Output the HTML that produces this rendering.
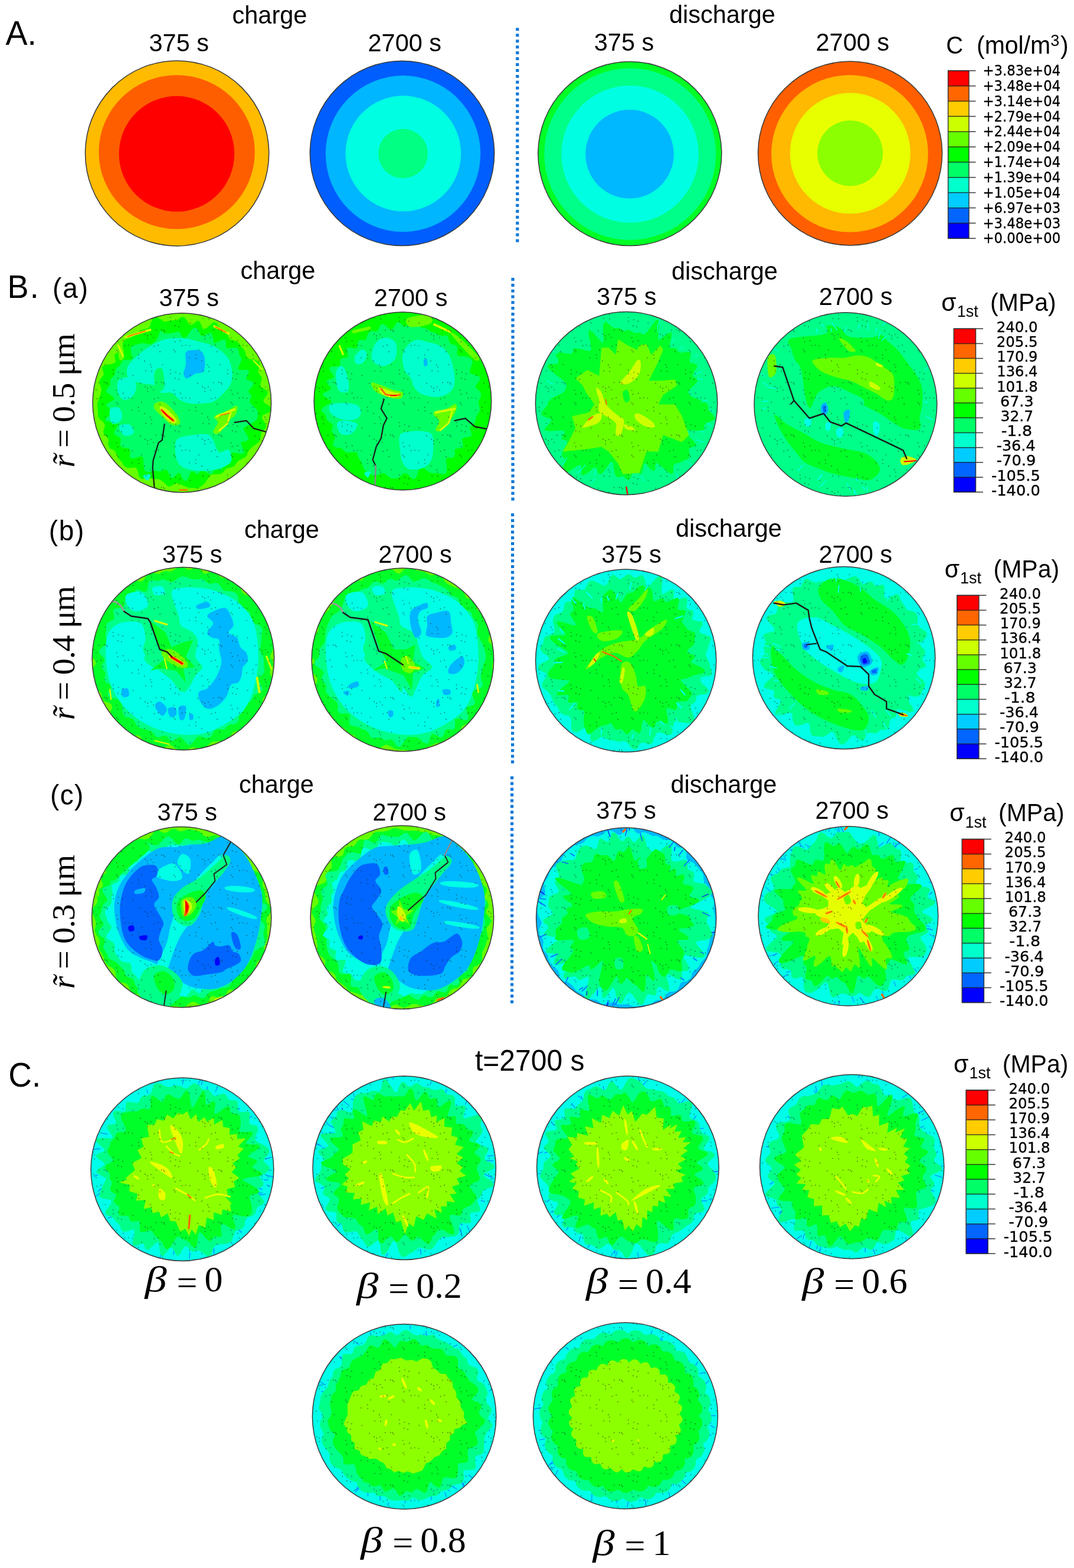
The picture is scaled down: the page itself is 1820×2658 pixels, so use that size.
<!DOCTYPE html>
<html><head><meta charset="utf-8"><title>figure</title>
<style>
html,body{margin:0;padding:0;background:#fff;}
body{width:1820px;height:2658px;overflow:hidden;}
svg{display:block;}
text{fill:#000;}
</style></head><body>
<svg width="1820" height="2658" viewBox="0 0 1820 2658">
<rect width="1820" height="2658" fill="#fff"/>
<line x1="876.8" y1="47.3" x2="876.8" y2="412" stroke="#0B78D7" stroke-width="5.2" stroke-dasharray="5.0 4.95"/>
<line x1="869.0" y1="471.1" x2="869.0" y2="850" stroke="#0B78D7" stroke-width="5.2" stroke-dasharray="5.0 4.80"/>
<line x1="868.6" y1="870.3" x2="868.6" y2="1296" stroke="#0B78D7" stroke-width="5.2" stroke-dasharray="5.0 4.74"/>
<line x1="867.6" y1="1315.9" x2="867.6" y2="1703" stroke="#0B78D7" stroke-width="5.2" stroke-dasharray="5.0 4.74"/>
<rect x="1606.6" y="119.80" width="35.40" height="26.15" fill="#FF0000"/>
<rect x="1606.6" y="145.65" width="35.40" height="26.15" fill="#FF6600"/>
<rect x="1606.6" y="171.49" width="35.40" height="26.15" fill="#FFCC00"/>
<rect x="1606.6" y="197.34" width="35.40" height="26.15" fill="#CCFF00"/>
<rect x="1606.6" y="223.18" width="35.40" height="26.15" fill="#66FF00"/>
<rect x="1606.6" y="249.03" width="35.40" height="26.15" fill="#00FF00"/>
<rect x="1606.6" y="274.87" width="35.40" height="26.15" fill="#00FF66"/>
<rect x="1606.6" y="300.72" width="35.40" height="26.15" fill="#00FFCC"/>
<rect x="1606.6" y="326.56" width="35.40" height="26.15" fill="#00CCFF"/>
<rect x="1606.6" y="352.41" width="35.40" height="26.15" fill="#0066FF"/>
<rect x="1606.6" y="378.25" width="35.40" height="26.15" fill="#0000FF"/>
<line x1="1606.6" y1="119.80" x2="1642.0" y2="119.80" stroke="#1a1a1a" stroke-width="1.5" opacity="0.8"/>
<line x1="1642.0" y1="119.80" x2="1653.50" y2="119.80" stroke="#444" stroke-width="1.6"/>
<line x1="1606.6" y1="145.65" x2="1642.0" y2="145.65" stroke="#1a1a1a" stroke-width="1.5" opacity="0.8"/>
<line x1="1642.0" y1="145.65" x2="1653.50" y2="145.65" stroke="#444" stroke-width="1.6"/>
<line x1="1606.6" y1="171.49" x2="1642.0" y2="171.49" stroke="#1a1a1a" stroke-width="1.5" opacity="0.8"/>
<line x1="1642.0" y1="171.49" x2="1653.50" y2="171.49" stroke="#444" stroke-width="1.6"/>
<line x1="1606.6" y1="197.34" x2="1642.0" y2="197.34" stroke="#1a1a1a" stroke-width="1.5" opacity="0.8"/>
<line x1="1642.0" y1="197.34" x2="1653.50" y2="197.34" stroke="#444" stroke-width="1.6"/>
<line x1="1606.6" y1="223.18" x2="1642.0" y2="223.18" stroke="#1a1a1a" stroke-width="1.5" opacity="0.8"/>
<line x1="1642.0" y1="223.18" x2="1653.50" y2="223.18" stroke="#444" stroke-width="1.6"/>
<line x1="1606.6" y1="249.03" x2="1642.0" y2="249.03" stroke="#1a1a1a" stroke-width="1.5" opacity="0.8"/>
<line x1="1642.0" y1="249.03" x2="1653.50" y2="249.03" stroke="#444" stroke-width="1.6"/>
<line x1="1606.6" y1="274.87" x2="1642.0" y2="274.87" stroke="#1a1a1a" stroke-width="1.5" opacity="0.8"/>
<line x1="1642.0" y1="274.87" x2="1653.50" y2="274.87" stroke="#444" stroke-width="1.6"/>
<line x1="1606.6" y1="300.72" x2="1642.0" y2="300.72" stroke="#1a1a1a" stroke-width="1.5" opacity="0.8"/>
<line x1="1642.0" y1="300.72" x2="1653.50" y2="300.72" stroke="#444" stroke-width="1.6"/>
<line x1="1606.6" y1="326.56" x2="1642.0" y2="326.56" stroke="#1a1a1a" stroke-width="1.5" opacity="0.8"/>
<line x1="1642.0" y1="326.56" x2="1653.50" y2="326.56" stroke="#444" stroke-width="1.6"/>
<line x1="1606.6" y1="352.41" x2="1642.0" y2="352.41" stroke="#1a1a1a" stroke-width="1.5" opacity="0.8"/>
<line x1="1642.0" y1="352.41" x2="1653.50" y2="352.41" stroke="#444" stroke-width="1.6"/>
<line x1="1606.6" y1="378.25" x2="1642.0" y2="378.25" stroke="#1a1a1a" stroke-width="1.5" opacity="0.8"/>
<line x1="1642.0" y1="378.25" x2="1653.50" y2="378.25" stroke="#444" stroke-width="1.6"/>
<line x1="1606.6" y1="404.10" x2="1642.0" y2="404.10" stroke="#1a1a1a" stroke-width="1.5" opacity="0.8"/>
<line x1="1642.0" y1="404.10" x2="1653.50" y2="404.10" stroke="#444" stroke-width="1.6"/>
<rect x="1606.6" y="119.8" width="35.40" height="284.30" fill="none" stroke="#333" stroke-width="1.4"/>
<text x="1665.6" y="128.0" font-size="25" font-family="'DejaVu Sans', Verdana, sans-serif" text-anchor="start" textLength="131.5" lengthAdjust="spacingAndGlyphs" stroke="#000" stroke-width="0.35">+3.83e+04</text>
<text x="1665.6" y="153.8" font-size="25" font-family="'DejaVu Sans', Verdana, sans-serif" text-anchor="start" textLength="131.5" lengthAdjust="spacingAndGlyphs" stroke="#000" stroke-width="0.35">+3.48e+04</text>
<text x="1665.6" y="179.7" font-size="25" font-family="'DejaVu Sans', Verdana, sans-serif" text-anchor="start" textLength="131.5" lengthAdjust="spacingAndGlyphs" stroke="#000" stroke-width="0.35">+3.14e+04</text>
<text x="1665.6" y="205.5" font-size="25" font-family="'DejaVu Sans', Verdana, sans-serif" text-anchor="start" textLength="131.5" lengthAdjust="spacingAndGlyphs" stroke="#000" stroke-width="0.35">+2.79e+04</text>
<text x="1665.6" y="231.4" font-size="25" font-family="'DejaVu Sans', Verdana, sans-serif" text-anchor="start" textLength="131.5" lengthAdjust="spacingAndGlyphs" stroke="#000" stroke-width="0.35">+2.44e+04</text>
<text x="1665.6" y="257.2" font-size="25" font-family="'DejaVu Sans', Verdana, sans-serif" text-anchor="start" textLength="131.5" lengthAdjust="spacingAndGlyphs" stroke="#000" stroke-width="0.35">+2.09e+04</text>
<text x="1665.6" y="283.1" font-size="25" font-family="'DejaVu Sans', Verdana, sans-serif" text-anchor="start" textLength="131.5" lengthAdjust="spacingAndGlyphs" stroke="#000" stroke-width="0.35">+1.74e+04</text>
<text x="1665.6" y="308.9" font-size="25" font-family="'DejaVu Sans', Verdana, sans-serif" text-anchor="start" textLength="131.5" lengthAdjust="spacingAndGlyphs" stroke="#000" stroke-width="0.35">+1.39e+04</text>
<text x="1665.6" y="334.8" font-size="25" font-family="'DejaVu Sans', Verdana, sans-serif" text-anchor="start" textLength="131.5" lengthAdjust="spacingAndGlyphs" stroke="#000" stroke-width="0.35">+1.05e+04</text>
<text x="1665.6" y="360.6" font-size="25" font-family="'DejaVu Sans', Verdana, sans-serif" text-anchor="start" textLength="131.5" lengthAdjust="spacingAndGlyphs" stroke="#000" stroke-width="0.35">+6.97e+03</text>
<text x="1665.6" y="386.5" font-size="25" font-family="'DejaVu Sans', Verdana, sans-serif" text-anchor="start" textLength="131.5" lengthAdjust="spacingAndGlyphs" stroke="#000" stroke-width="0.35">+3.48e+03</text>
<text x="1665.6" y="412.3" font-size="25" font-family="'DejaVu Sans', Verdana, sans-serif" text-anchor="start" textLength="131.5" lengthAdjust="spacingAndGlyphs" stroke="#000" stroke-width="0.35">+0.00e+00</text>
<text transform="translate(1603.2,90.6) scale(1,1.04)" font-size="40" font-family="'Liberation Sans', Arial, sans-serif" text-anchor="start" >C</text>
<text transform="translate(1655.0,90.6) scale(1,1.04)" font-size="41" font-family="'Liberation Sans', Arial, sans-serif" text-anchor="start" >(mol/m</text>
<text transform="translate(1780.3,78.3) scale(1,1.04)" font-size="27" font-family="'Liberation Sans', Arial, sans-serif" text-anchor="start" >3</text>
<text transform="translate(1797.0,90.6) scale(1,1.04)" font-size="41" font-family="'Liberation Sans', Arial, sans-serif" text-anchor="start" >)</text>
<rect x="1616.3" y="557.20" width="37.20" height="25.48" fill="#FF0000"/>
<rect x="1616.3" y="582.38" width="37.20" height="25.48" fill="#FF6600"/>
<rect x="1616.3" y="607.56" width="37.20" height="25.48" fill="#FFCC00"/>
<rect x="1616.3" y="632.75" width="37.20" height="25.48" fill="#CCFF00"/>
<rect x="1616.3" y="657.93" width="37.20" height="25.48" fill="#66FF00"/>
<rect x="1616.3" y="683.11" width="37.20" height="25.48" fill="#00FF00"/>
<rect x="1616.3" y="708.29" width="37.20" height="25.48" fill="#00FF66"/>
<rect x="1616.3" y="733.47" width="37.20" height="25.48" fill="#00FFCC"/>
<rect x="1616.3" y="758.65" width="37.20" height="25.48" fill="#00CCFF"/>
<rect x="1616.3" y="783.84" width="37.20" height="25.48" fill="#0066FF"/>
<rect x="1616.3" y="809.02" width="37.20" height="25.48" fill="#0000FF"/>
<line x1="1616.3" y1="557.20" x2="1653.5" y2="557.20" stroke="#1a1a1a" stroke-width="1.5" opacity="0.8"/>
<line x1="1653.5" y1="557.20" x2="1666.00" y2="557.20" stroke="#444" stroke-width="1.6"/>
<line x1="1616.3" y1="582.38" x2="1653.5" y2="582.38" stroke="#1a1a1a" stroke-width="1.5" opacity="0.8"/>
<line x1="1653.5" y1="582.38" x2="1666.00" y2="582.38" stroke="#444" stroke-width="1.6"/>
<line x1="1616.3" y1="607.56" x2="1653.5" y2="607.56" stroke="#1a1a1a" stroke-width="1.5" opacity="0.8"/>
<line x1="1653.5" y1="607.56" x2="1666.00" y2="607.56" stroke="#444" stroke-width="1.6"/>
<line x1="1616.3" y1="632.75" x2="1653.5" y2="632.75" stroke="#1a1a1a" stroke-width="1.5" opacity="0.8"/>
<line x1="1653.5" y1="632.75" x2="1666.00" y2="632.75" stroke="#444" stroke-width="1.6"/>
<line x1="1616.3" y1="657.93" x2="1653.5" y2="657.93" stroke="#1a1a1a" stroke-width="1.5" opacity="0.8"/>
<line x1="1653.5" y1="657.93" x2="1666.00" y2="657.93" stroke="#444" stroke-width="1.6"/>
<line x1="1616.3" y1="683.11" x2="1653.5" y2="683.11" stroke="#1a1a1a" stroke-width="1.5" opacity="0.8"/>
<line x1="1653.5" y1="683.11" x2="1666.00" y2="683.11" stroke="#444" stroke-width="1.6"/>
<line x1="1616.3" y1="708.29" x2="1653.5" y2="708.29" stroke="#1a1a1a" stroke-width="1.5" opacity="0.8"/>
<line x1="1653.5" y1="708.29" x2="1666.00" y2="708.29" stroke="#444" stroke-width="1.6"/>
<line x1="1616.3" y1="733.47" x2="1653.5" y2="733.47" stroke="#1a1a1a" stroke-width="1.5" opacity="0.8"/>
<line x1="1653.5" y1="733.47" x2="1666.00" y2="733.47" stroke="#444" stroke-width="1.6"/>
<line x1="1616.3" y1="758.65" x2="1653.5" y2="758.65" stroke="#1a1a1a" stroke-width="1.5" opacity="0.8"/>
<line x1="1653.5" y1="758.65" x2="1666.00" y2="758.65" stroke="#444" stroke-width="1.6"/>
<line x1="1616.3" y1="783.84" x2="1653.5" y2="783.84" stroke="#1a1a1a" stroke-width="1.5" opacity="0.8"/>
<line x1="1653.5" y1="783.84" x2="1666.00" y2="783.84" stroke="#444" stroke-width="1.6"/>
<line x1="1616.3" y1="809.02" x2="1653.5" y2="809.02" stroke="#1a1a1a" stroke-width="1.5" opacity="0.8"/>
<line x1="1653.5" y1="809.02" x2="1666.00" y2="809.02" stroke="#444" stroke-width="1.6"/>
<line x1="1616.3" y1="834.20" x2="1653.5" y2="834.20" stroke="#1a1a1a" stroke-width="1.5" opacity="0.8"/>
<line x1="1653.5" y1="834.20" x2="1666.00" y2="834.20" stroke="#444" stroke-width="1.6"/>
<rect x="1616.3" y="557.2" width="37.20" height="277.00" fill="none" stroke="#333" stroke-width="1.4"/>
<text x="1723.7" y="562.8" font-size="24" font-family="'DejaVu Sans', Verdana, sans-serif" text-anchor="middle" textLength="70.0" lengthAdjust="spacingAndGlyphs" stroke="#000" stroke-width="0.35">240.0</text>
<text x="1723.7" y="588.0" font-size="24" font-family="'DejaVu Sans', Verdana, sans-serif" text-anchor="middle" textLength="70.0" lengthAdjust="spacingAndGlyphs" stroke="#000" stroke-width="0.35">205.5</text>
<text x="1723.9" y="613.2" font-size="24" font-family="'DejaVu Sans', Verdana, sans-serif" text-anchor="middle" textLength="69.2" lengthAdjust="spacingAndGlyphs" stroke="#000" stroke-width="0.35">170.9</text>
<text x="1723.9" y="638.3" font-size="24" font-family="'DejaVu Sans', Verdana, sans-serif" text-anchor="middle" textLength="69.2" lengthAdjust="spacingAndGlyphs" stroke="#000" stroke-width="0.35">136.4</text>
<text x="1723.9" y="663.5" font-size="24" font-family="'DejaVu Sans', Verdana, sans-serif" text-anchor="middle" textLength="70.0" lengthAdjust="spacingAndGlyphs" stroke="#000" stroke-width="0.35">101.8</text>
<text x="1723.3" y="688.7" font-size="24" font-family="'DejaVu Sans', Verdana, sans-serif" text-anchor="middle" textLength="56.4" lengthAdjust="spacingAndGlyphs" stroke="#000" stroke-width="0.35">67.3</text>
<text x="1723.4" y="713.9" font-size="24" font-family="'DejaVu Sans', Verdana, sans-serif" text-anchor="middle" textLength="55.6" lengthAdjust="spacingAndGlyphs" stroke="#000" stroke-width="0.35">32.7</text>
<text x="1722.9" y="739.1" font-size="24" font-family="'DejaVu Sans', Verdana, sans-serif" text-anchor="middle" textLength="52.5" lengthAdjust="spacingAndGlyphs" stroke="#000" stroke-width="0.35">-1.8</text>
<text x="1721.7" y="764.3" font-size="24" font-family="'DejaVu Sans', Verdana, sans-serif" text-anchor="middle" textLength="66.0" lengthAdjust="spacingAndGlyphs" stroke="#000" stroke-width="0.35">-36.4</text>
<text x="1722.1" y="789.4" font-size="24" font-family="'DejaVu Sans', Verdana, sans-serif" text-anchor="middle" textLength="66.8" lengthAdjust="spacingAndGlyphs" stroke="#000" stroke-width="0.35">-70.9</text>
<text x="1721.4" y="814.6" font-size="24" font-family="'DejaVu Sans', Verdana, sans-serif" text-anchor="middle" textLength="82.7" lengthAdjust="spacingAndGlyphs" stroke="#000" stroke-width="0.35">-105.5</text>
<text x="1721.4" y="839.8" font-size="24" font-family="'DejaVu Sans', Verdana, sans-serif" text-anchor="middle" textLength="82.7" lengthAdjust="spacingAndGlyphs" stroke="#000" stroke-width="0.35">-140.0</text>
<text transform="translate(1595.3,526.8) scale(1,1.04)" font-size="41" font-family="'Liberation Sans', Arial, sans-serif" text-anchor="start" >&#963;</text>
<text transform="translate(1621.7,537.3) scale(1,1.04)" font-size="27" font-family="'Liberation Sans', Arial, sans-serif" text-anchor="start" >1st</text>
<text transform="translate(1678.1,526.8) scale(1,1.04)" font-size="41" font-family="'Liberation Sans', Arial, sans-serif" text-anchor="start" >(MPa)</text>
<rect x="1621.7" y="1009.20" width="37.20" height="25.48" fill="#FF0000"/>
<rect x="1621.7" y="1034.38" width="37.20" height="25.48" fill="#FF6600"/>
<rect x="1621.7" y="1059.56" width="37.20" height="25.48" fill="#FFCC00"/>
<rect x="1621.7" y="1084.75" width="37.20" height="25.48" fill="#CCFF00"/>
<rect x="1621.7" y="1109.93" width="37.20" height="25.48" fill="#66FF00"/>
<rect x="1621.7" y="1135.11" width="37.20" height="25.48" fill="#00FF00"/>
<rect x="1621.7" y="1160.29" width="37.20" height="25.48" fill="#00FF66"/>
<rect x="1621.7" y="1185.47" width="37.20" height="25.48" fill="#00FFCC"/>
<rect x="1621.7" y="1210.65" width="37.20" height="25.48" fill="#00CCFF"/>
<rect x="1621.7" y="1235.84" width="37.20" height="25.48" fill="#0066FF"/>
<rect x="1621.7" y="1261.02" width="37.20" height="25.48" fill="#0000FF"/>
<line x1="1621.7" y1="1009.20" x2="1658.9" y2="1009.20" stroke="#1a1a1a" stroke-width="1.5" opacity="0.8"/>
<line x1="1658.9" y1="1009.20" x2="1671.40" y2="1009.20" stroke="#444" stroke-width="1.6"/>
<line x1="1621.7" y1="1034.38" x2="1658.9" y2="1034.38" stroke="#1a1a1a" stroke-width="1.5" opacity="0.8"/>
<line x1="1658.9" y1="1034.38" x2="1671.40" y2="1034.38" stroke="#444" stroke-width="1.6"/>
<line x1="1621.7" y1="1059.56" x2="1658.9" y2="1059.56" stroke="#1a1a1a" stroke-width="1.5" opacity="0.8"/>
<line x1="1658.9" y1="1059.56" x2="1671.40" y2="1059.56" stroke="#444" stroke-width="1.6"/>
<line x1="1621.7" y1="1084.75" x2="1658.9" y2="1084.75" stroke="#1a1a1a" stroke-width="1.5" opacity="0.8"/>
<line x1="1658.9" y1="1084.75" x2="1671.40" y2="1084.75" stroke="#444" stroke-width="1.6"/>
<line x1="1621.7" y1="1109.93" x2="1658.9" y2="1109.93" stroke="#1a1a1a" stroke-width="1.5" opacity="0.8"/>
<line x1="1658.9" y1="1109.93" x2="1671.40" y2="1109.93" stroke="#444" stroke-width="1.6"/>
<line x1="1621.7" y1="1135.11" x2="1658.9" y2="1135.11" stroke="#1a1a1a" stroke-width="1.5" opacity="0.8"/>
<line x1="1658.9" y1="1135.11" x2="1671.40" y2="1135.11" stroke="#444" stroke-width="1.6"/>
<line x1="1621.7" y1="1160.29" x2="1658.9" y2="1160.29" stroke="#1a1a1a" stroke-width="1.5" opacity="0.8"/>
<line x1="1658.9" y1="1160.29" x2="1671.40" y2="1160.29" stroke="#444" stroke-width="1.6"/>
<line x1="1621.7" y1="1185.47" x2="1658.9" y2="1185.47" stroke="#1a1a1a" stroke-width="1.5" opacity="0.8"/>
<line x1="1658.9" y1="1185.47" x2="1671.40" y2="1185.47" stroke="#444" stroke-width="1.6"/>
<line x1="1621.7" y1="1210.65" x2="1658.9" y2="1210.65" stroke="#1a1a1a" stroke-width="1.5" opacity="0.8"/>
<line x1="1658.9" y1="1210.65" x2="1671.40" y2="1210.65" stroke="#444" stroke-width="1.6"/>
<line x1="1621.7" y1="1235.84" x2="1658.9" y2="1235.84" stroke="#1a1a1a" stroke-width="1.5" opacity="0.8"/>
<line x1="1658.9" y1="1235.84" x2="1671.40" y2="1235.84" stroke="#444" stroke-width="1.6"/>
<line x1="1621.7" y1="1261.02" x2="1658.9" y2="1261.02" stroke="#1a1a1a" stroke-width="1.5" opacity="0.8"/>
<line x1="1658.9" y1="1261.02" x2="1671.40" y2="1261.02" stroke="#444" stroke-width="1.6"/>
<line x1="1621.7" y1="1286.20" x2="1658.9" y2="1286.20" stroke="#1a1a1a" stroke-width="1.5" opacity="0.8"/>
<line x1="1658.9" y1="1286.20" x2="1671.40" y2="1286.20" stroke="#444" stroke-width="1.6"/>
<rect x="1621.7" y="1009.2" width="37.20" height="277.00" fill="none" stroke="#333" stroke-width="1.4"/>
<text x="1729.1" y="1014.8" font-size="24" font-family="'DejaVu Sans', Verdana, sans-serif" text-anchor="middle" textLength="70.0" lengthAdjust="spacingAndGlyphs" stroke="#000" stroke-width="0.35">240.0</text>
<text x="1729.1" y="1040.0" font-size="24" font-family="'DejaVu Sans', Verdana, sans-serif" text-anchor="middle" textLength="70.0" lengthAdjust="spacingAndGlyphs" stroke="#000" stroke-width="0.35">205.5</text>
<text x="1729.3" y="1065.2" font-size="24" font-family="'DejaVu Sans', Verdana, sans-serif" text-anchor="middle" textLength="69.2" lengthAdjust="spacingAndGlyphs" stroke="#000" stroke-width="0.35">170.9</text>
<text x="1729.3" y="1090.3" font-size="24" font-family="'DejaVu Sans', Verdana, sans-serif" text-anchor="middle" textLength="69.2" lengthAdjust="spacingAndGlyphs" stroke="#000" stroke-width="0.35">136.4</text>
<text x="1729.3" y="1115.5" font-size="24" font-family="'DejaVu Sans', Verdana, sans-serif" text-anchor="middle" textLength="70.0" lengthAdjust="spacingAndGlyphs" stroke="#000" stroke-width="0.35">101.8</text>
<text x="1728.7" y="1140.7" font-size="24" font-family="'DejaVu Sans', Verdana, sans-serif" text-anchor="middle" textLength="56.4" lengthAdjust="spacingAndGlyphs" stroke="#000" stroke-width="0.35">67.3</text>
<text x="1728.8" y="1165.9" font-size="24" font-family="'DejaVu Sans', Verdana, sans-serif" text-anchor="middle" textLength="55.6" lengthAdjust="spacingAndGlyphs" stroke="#000" stroke-width="0.35">32.7</text>
<text x="1728.3" y="1191.1" font-size="24" font-family="'DejaVu Sans', Verdana, sans-serif" text-anchor="middle" textLength="52.5" lengthAdjust="spacingAndGlyphs" stroke="#000" stroke-width="0.35">-1.8</text>
<text x="1727.1" y="1216.3" font-size="24" font-family="'DejaVu Sans', Verdana, sans-serif" text-anchor="middle" textLength="66.0" lengthAdjust="spacingAndGlyphs" stroke="#000" stroke-width="0.35">-36.4</text>
<text x="1727.5" y="1241.4" font-size="24" font-family="'DejaVu Sans', Verdana, sans-serif" text-anchor="middle" textLength="66.8" lengthAdjust="spacingAndGlyphs" stroke="#000" stroke-width="0.35">-70.9</text>
<text x="1726.8" y="1266.6" font-size="24" font-family="'DejaVu Sans', Verdana, sans-serif" text-anchor="middle" textLength="82.7" lengthAdjust="spacingAndGlyphs" stroke="#000" stroke-width="0.35">-105.5</text>
<text x="1726.8" y="1291.8" font-size="24" font-family="'DejaVu Sans', Verdana, sans-serif" text-anchor="middle" textLength="82.7" lengthAdjust="spacingAndGlyphs" stroke="#000" stroke-width="0.35">-140.0</text>
<text transform="translate(1600.7,978.8) scale(1,1.04)" font-size="41" font-family="'Liberation Sans', Arial, sans-serif" text-anchor="start" >&#963;</text>
<text transform="translate(1627.1,989.3) scale(1,1.04)" font-size="27" font-family="'Liberation Sans', Arial, sans-serif" text-anchor="start" >1st</text>
<text transform="translate(1683.5,978.8) scale(1,1.04)" font-size="41" font-family="'Liberation Sans', Arial, sans-serif" text-anchor="start" >(MPa)</text>
<rect x="1630.2" y="1422.50" width="37.20" height="25.48" fill="#FF0000"/>
<rect x="1630.2" y="1447.68" width="37.20" height="25.48" fill="#FF6600"/>
<rect x="1630.2" y="1472.86" width="37.20" height="25.48" fill="#FFCC00"/>
<rect x="1630.2" y="1498.05" width="37.20" height="25.48" fill="#CCFF00"/>
<rect x="1630.2" y="1523.23" width="37.20" height="25.48" fill="#66FF00"/>
<rect x="1630.2" y="1548.41" width="37.20" height="25.48" fill="#00FF00"/>
<rect x="1630.2" y="1573.59" width="37.20" height="25.48" fill="#00FF66"/>
<rect x="1630.2" y="1598.77" width="37.20" height="25.48" fill="#00FFCC"/>
<rect x="1630.2" y="1623.95" width="37.20" height="25.48" fill="#00CCFF"/>
<rect x="1630.2" y="1649.14" width="37.20" height="25.48" fill="#0066FF"/>
<rect x="1630.2" y="1674.32" width="37.20" height="25.48" fill="#0000FF"/>
<line x1="1630.2" y1="1422.50" x2="1667.4" y2="1422.50" stroke="#1a1a1a" stroke-width="1.5" opacity="0.8"/>
<line x1="1667.4" y1="1422.50" x2="1679.90" y2="1422.50" stroke="#444" stroke-width="1.6"/>
<line x1="1630.2" y1="1447.68" x2="1667.4" y2="1447.68" stroke="#1a1a1a" stroke-width="1.5" opacity="0.8"/>
<line x1="1667.4" y1="1447.68" x2="1679.90" y2="1447.68" stroke="#444" stroke-width="1.6"/>
<line x1="1630.2" y1="1472.86" x2="1667.4" y2="1472.86" stroke="#1a1a1a" stroke-width="1.5" opacity="0.8"/>
<line x1="1667.4" y1="1472.86" x2="1679.90" y2="1472.86" stroke="#444" stroke-width="1.6"/>
<line x1="1630.2" y1="1498.05" x2="1667.4" y2="1498.05" stroke="#1a1a1a" stroke-width="1.5" opacity="0.8"/>
<line x1="1667.4" y1="1498.05" x2="1679.90" y2="1498.05" stroke="#444" stroke-width="1.6"/>
<line x1="1630.2" y1="1523.23" x2="1667.4" y2="1523.23" stroke="#1a1a1a" stroke-width="1.5" opacity="0.8"/>
<line x1="1667.4" y1="1523.23" x2="1679.90" y2="1523.23" stroke="#444" stroke-width="1.6"/>
<line x1="1630.2" y1="1548.41" x2="1667.4" y2="1548.41" stroke="#1a1a1a" stroke-width="1.5" opacity="0.8"/>
<line x1="1667.4" y1="1548.41" x2="1679.90" y2="1548.41" stroke="#444" stroke-width="1.6"/>
<line x1="1630.2" y1="1573.59" x2="1667.4" y2="1573.59" stroke="#1a1a1a" stroke-width="1.5" opacity="0.8"/>
<line x1="1667.4" y1="1573.59" x2="1679.90" y2="1573.59" stroke="#444" stroke-width="1.6"/>
<line x1="1630.2" y1="1598.77" x2="1667.4" y2="1598.77" stroke="#1a1a1a" stroke-width="1.5" opacity="0.8"/>
<line x1="1667.4" y1="1598.77" x2="1679.90" y2="1598.77" stroke="#444" stroke-width="1.6"/>
<line x1="1630.2" y1="1623.95" x2="1667.4" y2="1623.95" stroke="#1a1a1a" stroke-width="1.5" opacity="0.8"/>
<line x1="1667.4" y1="1623.95" x2="1679.90" y2="1623.95" stroke="#444" stroke-width="1.6"/>
<line x1="1630.2" y1="1649.14" x2="1667.4" y2="1649.14" stroke="#1a1a1a" stroke-width="1.5" opacity="0.8"/>
<line x1="1667.4" y1="1649.14" x2="1679.90" y2="1649.14" stroke="#444" stroke-width="1.6"/>
<line x1="1630.2" y1="1674.32" x2="1667.4" y2="1674.32" stroke="#1a1a1a" stroke-width="1.5" opacity="0.8"/>
<line x1="1667.4" y1="1674.32" x2="1679.90" y2="1674.32" stroke="#444" stroke-width="1.6"/>
<line x1="1630.2" y1="1699.50" x2="1667.4" y2="1699.50" stroke="#1a1a1a" stroke-width="1.5" opacity="0.8"/>
<line x1="1667.4" y1="1699.50" x2="1679.90" y2="1699.50" stroke="#444" stroke-width="1.6"/>
<rect x="1630.2" y="1422.5" width="37.20" height="277.00" fill="none" stroke="#333" stroke-width="1.4"/>
<text x="1737.6" y="1428.1" font-size="24" font-family="'DejaVu Sans', Verdana, sans-serif" text-anchor="middle" textLength="70.0" lengthAdjust="spacingAndGlyphs" stroke="#000" stroke-width="0.35">240.0</text>
<text x="1737.6" y="1453.3" font-size="24" font-family="'DejaVu Sans', Verdana, sans-serif" text-anchor="middle" textLength="70.0" lengthAdjust="spacingAndGlyphs" stroke="#000" stroke-width="0.35">205.5</text>
<text x="1737.8" y="1478.5" font-size="24" font-family="'DejaVu Sans', Verdana, sans-serif" text-anchor="middle" textLength="69.2" lengthAdjust="spacingAndGlyphs" stroke="#000" stroke-width="0.35">170.9</text>
<text x="1737.8" y="1503.6" font-size="24" font-family="'DejaVu Sans', Verdana, sans-serif" text-anchor="middle" textLength="69.2" lengthAdjust="spacingAndGlyphs" stroke="#000" stroke-width="0.35">136.4</text>
<text x="1737.8" y="1528.8" font-size="24" font-family="'DejaVu Sans', Verdana, sans-serif" text-anchor="middle" textLength="70.0" lengthAdjust="spacingAndGlyphs" stroke="#000" stroke-width="0.35">101.8</text>
<text x="1737.2" y="1554.0" font-size="24" font-family="'DejaVu Sans', Verdana, sans-serif" text-anchor="middle" textLength="56.4" lengthAdjust="spacingAndGlyphs" stroke="#000" stroke-width="0.35">67.3</text>
<text x="1737.3" y="1579.2" font-size="24" font-family="'DejaVu Sans', Verdana, sans-serif" text-anchor="middle" textLength="55.6" lengthAdjust="spacingAndGlyphs" stroke="#000" stroke-width="0.35">32.7</text>
<text x="1736.8" y="1604.4" font-size="24" font-family="'DejaVu Sans', Verdana, sans-serif" text-anchor="middle" textLength="52.5" lengthAdjust="spacingAndGlyphs" stroke="#000" stroke-width="0.35">-1.8</text>
<text x="1735.6" y="1629.6" font-size="24" font-family="'DejaVu Sans', Verdana, sans-serif" text-anchor="middle" textLength="66.0" lengthAdjust="spacingAndGlyphs" stroke="#000" stroke-width="0.35">-36.4</text>
<text x="1736.0" y="1654.7" font-size="24" font-family="'DejaVu Sans', Verdana, sans-serif" text-anchor="middle" textLength="66.8" lengthAdjust="spacingAndGlyphs" stroke="#000" stroke-width="0.35">-70.9</text>
<text x="1735.3" y="1679.9" font-size="24" font-family="'DejaVu Sans', Verdana, sans-serif" text-anchor="middle" textLength="82.7" lengthAdjust="spacingAndGlyphs" stroke="#000" stroke-width="0.35">-105.5</text>
<text x="1735.3" y="1705.1" font-size="24" font-family="'DejaVu Sans', Verdana, sans-serif" text-anchor="middle" textLength="82.7" lengthAdjust="spacingAndGlyphs" stroke="#000" stroke-width="0.35">-140.0</text>
<text transform="translate(1609.2,1392.1) scale(1,1.04)" font-size="41" font-family="'Liberation Sans', Arial, sans-serif" text-anchor="start" >&#963;</text>
<text transform="translate(1635.6,1402.6) scale(1,1.04)" font-size="27" font-family="'Liberation Sans', Arial, sans-serif" text-anchor="start" >1st</text>
<text transform="translate(1692.0,1392.1) scale(1,1.04)" font-size="41" font-family="'Liberation Sans', Arial, sans-serif" text-anchor="start" >(MPa)</text>
<rect x="1637.0" y="1848.00" width="37.20" height="25.48" fill="#FF0000"/>
<rect x="1637.0" y="1873.18" width="37.20" height="25.48" fill="#FF6600"/>
<rect x="1637.0" y="1898.36" width="37.20" height="25.48" fill="#FFCC00"/>
<rect x="1637.0" y="1923.55" width="37.20" height="25.48" fill="#CCFF00"/>
<rect x="1637.0" y="1948.73" width="37.20" height="25.48" fill="#66FF00"/>
<rect x="1637.0" y="1973.91" width="37.20" height="25.48" fill="#00FF00"/>
<rect x="1637.0" y="1999.09" width="37.20" height="25.48" fill="#00FF66"/>
<rect x="1637.0" y="2024.27" width="37.20" height="25.48" fill="#00FFCC"/>
<rect x="1637.0" y="2049.45" width="37.20" height="25.48" fill="#00CCFF"/>
<rect x="1637.0" y="2074.64" width="37.20" height="25.48" fill="#0066FF"/>
<rect x="1637.0" y="2099.82" width="37.20" height="25.48" fill="#0000FF"/>
<line x1="1637.0" y1="1848.00" x2="1674.2" y2="1848.00" stroke="#1a1a1a" stroke-width="1.5" opacity="0.8"/>
<line x1="1674.2" y1="1848.00" x2="1686.70" y2="1848.00" stroke="#444" stroke-width="1.6"/>
<line x1="1637.0" y1="1873.18" x2="1674.2" y2="1873.18" stroke="#1a1a1a" stroke-width="1.5" opacity="0.8"/>
<line x1="1674.2" y1="1873.18" x2="1686.70" y2="1873.18" stroke="#444" stroke-width="1.6"/>
<line x1="1637.0" y1="1898.36" x2="1674.2" y2="1898.36" stroke="#1a1a1a" stroke-width="1.5" opacity="0.8"/>
<line x1="1674.2" y1="1898.36" x2="1686.70" y2="1898.36" stroke="#444" stroke-width="1.6"/>
<line x1="1637.0" y1="1923.55" x2="1674.2" y2="1923.55" stroke="#1a1a1a" stroke-width="1.5" opacity="0.8"/>
<line x1="1674.2" y1="1923.55" x2="1686.70" y2="1923.55" stroke="#444" stroke-width="1.6"/>
<line x1="1637.0" y1="1948.73" x2="1674.2" y2="1948.73" stroke="#1a1a1a" stroke-width="1.5" opacity="0.8"/>
<line x1="1674.2" y1="1948.73" x2="1686.70" y2="1948.73" stroke="#444" stroke-width="1.6"/>
<line x1="1637.0" y1="1973.91" x2="1674.2" y2="1973.91" stroke="#1a1a1a" stroke-width="1.5" opacity="0.8"/>
<line x1="1674.2" y1="1973.91" x2="1686.70" y2="1973.91" stroke="#444" stroke-width="1.6"/>
<line x1="1637.0" y1="1999.09" x2="1674.2" y2="1999.09" stroke="#1a1a1a" stroke-width="1.5" opacity="0.8"/>
<line x1="1674.2" y1="1999.09" x2="1686.70" y2="1999.09" stroke="#444" stroke-width="1.6"/>
<line x1="1637.0" y1="2024.27" x2="1674.2" y2="2024.27" stroke="#1a1a1a" stroke-width="1.5" opacity="0.8"/>
<line x1="1674.2" y1="2024.27" x2="1686.70" y2="2024.27" stroke="#444" stroke-width="1.6"/>
<line x1="1637.0" y1="2049.45" x2="1674.2" y2="2049.45" stroke="#1a1a1a" stroke-width="1.5" opacity="0.8"/>
<line x1="1674.2" y1="2049.45" x2="1686.70" y2="2049.45" stroke="#444" stroke-width="1.6"/>
<line x1="1637.0" y1="2074.64" x2="1674.2" y2="2074.64" stroke="#1a1a1a" stroke-width="1.5" opacity="0.8"/>
<line x1="1674.2" y1="2074.64" x2="1686.70" y2="2074.64" stroke="#444" stroke-width="1.6"/>
<line x1="1637.0" y1="2099.82" x2="1674.2" y2="2099.82" stroke="#1a1a1a" stroke-width="1.5" opacity="0.8"/>
<line x1="1674.2" y1="2099.82" x2="1686.70" y2="2099.82" stroke="#444" stroke-width="1.6"/>
<line x1="1637.0" y1="2125.00" x2="1674.2" y2="2125.00" stroke="#1a1a1a" stroke-width="1.5" opacity="0.8"/>
<line x1="1674.2" y1="2125.00" x2="1686.70" y2="2125.00" stroke="#444" stroke-width="1.6"/>
<rect x="1637.0" y="1848.0" width="37.20" height="277.00" fill="none" stroke="#333" stroke-width="1.4"/>
<text x="1744.4" y="1853.6" font-size="24" font-family="'DejaVu Sans', Verdana, sans-serif" text-anchor="middle" textLength="70.0" lengthAdjust="spacingAndGlyphs" stroke="#000" stroke-width="0.35">240.0</text>
<text x="1744.4" y="1878.8" font-size="24" font-family="'DejaVu Sans', Verdana, sans-serif" text-anchor="middle" textLength="70.0" lengthAdjust="spacingAndGlyphs" stroke="#000" stroke-width="0.35">205.5</text>
<text x="1744.6" y="1904.0" font-size="24" font-family="'DejaVu Sans', Verdana, sans-serif" text-anchor="middle" textLength="69.2" lengthAdjust="spacingAndGlyphs" stroke="#000" stroke-width="0.35">170.9</text>
<text x="1744.6" y="1929.1" font-size="24" font-family="'DejaVu Sans', Verdana, sans-serif" text-anchor="middle" textLength="69.2" lengthAdjust="spacingAndGlyphs" stroke="#000" stroke-width="0.35">136.4</text>
<text x="1744.6" y="1954.3" font-size="24" font-family="'DejaVu Sans', Verdana, sans-serif" text-anchor="middle" textLength="70.0" lengthAdjust="spacingAndGlyphs" stroke="#000" stroke-width="0.35">101.8</text>
<text x="1744.0" y="1979.5" font-size="24" font-family="'DejaVu Sans', Verdana, sans-serif" text-anchor="middle" textLength="56.4" lengthAdjust="spacingAndGlyphs" stroke="#000" stroke-width="0.35">67.3</text>
<text x="1744.1" y="2004.7" font-size="24" font-family="'DejaVu Sans', Verdana, sans-serif" text-anchor="middle" textLength="55.6" lengthAdjust="spacingAndGlyphs" stroke="#000" stroke-width="0.35">32.7</text>
<text x="1743.6" y="2029.9" font-size="24" font-family="'DejaVu Sans', Verdana, sans-serif" text-anchor="middle" textLength="52.5" lengthAdjust="spacingAndGlyphs" stroke="#000" stroke-width="0.35">-1.8</text>
<text x="1742.4" y="2055.1" font-size="24" font-family="'DejaVu Sans', Verdana, sans-serif" text-anchor="middle" textLength="66.0" lengthAdjust="spacingAndGlyphs" stroke="#000" stroke-width="0.35">-36.4</text>
<text x="1742.8" y="2080.2" font-size="24" font-family="'DejaVu Sans', Verdana, sans-serif" text-anchor="middle" textLength="66.8" lengthAdjust="spacingAndGlyphs" stroke="#000" stroke-width="0.35">-70.9</text>
<text x="1742.1" y="2105.4" font-size="24" font-family="'DejaVu Sans', Verdana, sans-serif" text-anchor="middle" textLength="82.7" lengthAdjust="spacingAndGlyphs" stroke="#000" stroke-width="0.35">-105.5</text>
<text x="1742.1" y="2130.6" font-size="24" font-family="'DejaVu Sans', Verdana, sans-serif" text-anchor="middle" textLength="82.7" lengthAdjust="spacingAndGlyphs" stroke="#000" stroke-width="0.35">-140.0</text>
<text transform="translate(1616.0,1817.6) scale(1,1.04)" font-size="41" font-family="'Liberation Sans', Arial, sans-serif" text-anchor="start" >&#963;</text>
<text transform="translate(1642.4,1828.1) scale(1,1.04)" font-size="27" font-family="'Liberation Sans', Arial, sans-serif" text-anchor="start" >1st</text>
<text transform="translate(1698.8,1817.6) scale(1,1.04)" font-size="41" font-family="'Liberation Sans', Arial, sans-serif" text-anchor="start" >(MPa)</text>
<text transform="translate(9.6,76.1) scale(1,1.04)" font-size="55.5" font-family="'Liberation Sans', Arial, sans-serif" text-anchor="start" >A.</text>
<text transform="translate(393.5,39.7) scale(1,1.04)" font-size="41.5" font-family="'Liberation Sans', Arial, sans-serif" text-anchor="start" >charge</text>
<text transform="translate(252.5,86.5) scale(1,1.04)" font-size="41.5" font-family="'Liberation Sans', Arial, sans-serif" text-anchor="start" >375 s</text>
<text transform="translate(623.5,86.9) scale(1,1.04)" font-size="41.5" font-family="'Liberation Sans', Arial, sans-serif" text-anchor="start" >2700 s</text>
<text transform="translate(1134.0,39.2) scale(1,1.04)" font-size="41.5" font-family="'Liberation Sans', Arial, sans-serif" text-anchor="start" >discharge</text>
<text transform="translate(1006.8,85.6) scale(1,1.04)" font-size="41.5" font-family="'Liberation Sans', Arial, sans-serif" text-anchor="start" >375 s</text>
<text transform="translate(1382.5,85.6) scale(1,1.04)" font-size="41.5" font-family="'Liberation Sans', Arial, sans-serif" text-anchor="start" >2700 s</text>
<text transform="translate(12.4,505.3) scale(1,1.04)" font-size="54" font-family="'Liberation Sans', Arial, sans-serif" text-anchor="start" letter-spacing="2.3">B.</text>
<text transform="translate(89.0,505.0) scale(1,1.04)" font-size="46" font-family="'Liberation Sans', Arial, sans-serif" text-anchor="start" letter-spacing="1.9">(a)</text>
<text transform="translate(407.5,473.0) scale(1,1.04)" font-size="41.5" font-family="'Liberation Sans', Arial, sans-serif" text-anchor="start" >charge</text>
<text transform="translate(269.5,518.7) scale(1,1.04)" font-size="41.5" font-family="'Liberation Sans', Arial, sans-serif" text-anchor="start" >375 s</text>
<text transform="translate(633.8,518.7) scale(1,1.04)" font-size="41.5" font-family="'Liberation Sans', Arial, sans-serif" text-anchor="start" >2700 s</text>
<text transform="translate(1138.0,474.2) scale(1,1.04)" font-size="41.5" font-family="'Liberation Sans', Arial, sans-serif" text-anchor="start" >discharge</text>
<text transform="translate(1011.0,517.0) scale(1,1.04)" font-size="41.5" font-family="'Liberation Sans', Arial, sans-serif" text-anchor="start" >375 s</text>
<text transform="translate(1387.8,517.0) scale(1,1.04)" font-size="41.5" font-family="'Liberation Sans', Arial, sans-serif" text-anchor="start" >2700 s</text>
<text transform="translate(82.8,915.5) scale(1,1.04)" font-size="46" font-family="'Liberation Sans', Arial, sans-serif" text-anchor="start" letter-spacing="1.6">(b)</text>
<text transform="translate(414.0,911.5) scale(1,1.04)" font-size="41.5" font-family="'Liberation Sans', Arial, sans-serif" text-anchor="start" >charge</text>
<text transform="translate(275.0,954.4) scale(1,1.04)" font-size="41.5" font-family="'Liberation Sans', Arial, sans-serif" text-anchor="start" >375 s</text>
<text transform="translate(641.2,954.4) scale(1,1.04)" font-size="41.5" font-family="'Liberation Sans', Arial, sans-serif" text-anchor="start" >2700 s</text>
<text transform="translate(1145.0,909.5) scale(1,1.04)" font-size="41.5" font-family="'Liberation Sans', Arial, sans-serif" text-anchor="start" >discharge</text>
<text transform="translate(1019.3,953.5) scale(1,1.04)" font-size="41.5" font-family="'Liberation Sans', Arial, sans-serif" text-anchor="start" >375 s</text>
<text transform="translate(1387.5,953.5) scale(1,1.04)" font-size="41.5" font-family="'Liberation Sans', Arial, sans-serif" text-anchor="start" >2700 s</text>
<text transform="translate(85.0,1363.5) scale(1,1.04)" font-size="46" font-family="'Liberation Sans', Arial, sans-serif" text-anchor="start" letter-spacing="1.4">(c)</text>
<text transform="translate(405.0,1344.3) scale(1,1.04)" font-size="41.5" font-family="'Liberation Sans', Arial, sans-serif" text-anchor="start" >charge</text>
<text transform="translate(266.5,1391.3) scale(1,1.04)" font-size="41.5" font-family="'Liberation Sans', Arial, sans-serif" text-anchor="start" >375 s</text>
<text transform="translate(631.5,1391.3) scale(1,1.04)" font-size="41.5" font-family="'Liberation Sans', Arial, sans-serif" text-anchor="start" >2700 s</text>
<text transform="translate(1136.5,1344.3) scale(1,1.04)" font-size="41.5" font-family="'Liberation Sans', Arial, sans-serif" text-anchor="start" >discharge</text>
<text transform="translate(1010.3,1387.8) scale(1,1.04)" font-size="41.5" font-family="'Liberation Sans', Arial, sans-serif" text-anchor="start" >375 s</text>
<text transform="translate(1381.4,1387.8) scale(1,1.04)" font-size="41.5" font-family="'Liberation Sans', Arial, sans-serif" text-anchor="start" >2700 s</text>
<text transform="translate(125.9,679.3) rotate(-90)" font-size="55.6" font-family="'Liberation Serif', 'Times New Roman', serif" text-anchor="middle" letter-spacing="-1.1"><tspan font-style="italic">r&#771;</tspan> = 0.5 &#956;m</text>
<text transform="translate(125.9,1107.3) rotate(-90)" font-size="55.6" font-family="'Liberation Serif', 'Times New Roman', serif" text-anchor="middle" letter-spacing="-1.1"><tspan font-style="italic">r&#771;</tspan> = 0.4 &#956;m</text>
<text transform="translate(125.9,1563.0) rotate(-90)" font-size="55.6" font-family="'Liberation Serif', 'Times New Roman', serif" text-anchor="middle" letter-spacing="-1.1"><tspan font-style="italic">r&#771;</tspan> = 0.3 &#956;m</text>
<text transform="translate(14.3,1841.6) scale(1,1.04)" font-size="55" font-family="'Liberation Sans', Arial, sans-serif" text-anchor="start" >C.</text>
<text transform="translate(805.0,1814.5) scale(1,1.04)" font-size="48" font-family="'Liberation Sans', Arial, sans-serif" text-anchor="start" >t=2700 s</text>
<text transform="translate(245.5,2189.0) scale(1.2,1)" font-size="62" font-family="'Liberation Serif', 'Times New Roman', serif" font-style="italic">&#946;</text>
<text x="299.5" y="2194.6" font-size="62" font-family="'Liberation Serif', 'Times New Roman', serif">=</text>
<text x="346.5" y="2189.0" font-size="62" font-family="'Liberation Serif', 'Times New Roman', serif">0</text>
<text transform="translate(604.3,2199.5) scale(1.2,1)" font-size="62" font-family="'Liberation Serif', 'Times New Roman', serif" font-style="italic">&#946;</text>
<text x="658.3" y="2205.1" font-size="62" font-family="'Liberation Serif', 'Times New Roman', serif">=</text>
<text x="705.3" y="2199.5" font-size="62" font-family="'Liberation Serif', 'Times New Roman', serif">0.2</text>
<text transform="translate(993.1,2192.0) scale(1.2,1)" font-size="62" font-family="'Liberation Serif', 'Times New Roman', serif" font-style="italic">&#946;</text>
<text x="1047.1" y="2197.6" font-size="62" font-family="'Liberation Serif', 'Times New Roman', serif">=</text>
<text x="1094.1" y="2192.0" font-size="62" font-family="'Liberation Serif', 'Times New Roman', serif">0.4</text>
<text transform="translate(1359.3,2192.0) scale(1.2,1)" font-size="62" font-family="'Liberation Serif', 'Times New Roman', serif" font-style="italic">&#946;</text>
<text x="1413.3" y="2197.6" font-size="62" font-family="'Liberation Serif', 'Times New Roman', serif">=</text>
<text x="1460.3" y="2192.0" font-size="62" font-family="'Liberation Serif', 'Times New Roman', serif">0.6</text>
<text transform="translate(611.2,2630.5) scale(1.2,1)" font-size="62" font-family="'Liberation Serif', 'Times New Roman', serif" font-style="italic">&#946;</text>
<text x="665.2" y="2636.1" font-size="62" font-family="'Liberation Serif', 'Times New Roman', serif">=</text>
<text x="712.2" y="2630.5" font-size="62" font-family="'Liberation Serif', 'Times New Roman', serif">0.8</text>
<text transform="translate(1004.5,2635.5) scale(1.2,1)" font-size="62" font-family="'Liberation Serif', 'Times New Roman', serif" font-style="italic">&#946;</text>
<text x="1058.5" y="2641.1" font-size="62" font-family="'Liberation Serif', 'Times New Roman', serif">=</text>
<text x="1105.5" y="2635.5" font-size="62" font-family="'Liberation Serif', 'Times New Roman', serif">1</text>
<clipPath id="c1"><ellipse cx="300.1" cy="259.9" rx="155.6" ry="157.0"/></clipPath>
<g clip-path="url(#c1)">
<ellipse cx="300.1" cy="259.9" rx="157.6" ry="159.0" fill="#FFBB00"/>
<ellipse cx="299.6" cy="257.8" rx="132.2" ry="130.5" fill="#FF5E00"/>
<ellipse cx="299.4" cy="260.8" rx="97.8" ry="98.0" fill="#FF0000"/>
</g>
<ellipse cx="300.1" cy="259.9" rx="155.6" ry="157.0" fill="none" stroke="#3a3a3a" stroke-width="1.5"/>
<clipPath id="c2"><ellipse cx="681.5" cy="259.9" rx="156.2" ry="156.7"/></clipPath>
<g clip-path="url(#c2)">
<ellipse cx="681.5" cy="259.9" rx="158.2" ry="158.7" fill="#005EFF"/>
<ellipse cx="683.0" cy="260.6" rx="131.2" ry="132.5" fill="#00B6FF"/>
<ellipse cx="683.3" cy="260.3" rx="97.8" ry="98.0" fill="#00FFE2"/>
<ellipse cx="683.0" cy="260.4" rx="41.9" ry="41.9" fill="#00FF82"/>
</g>
<ellipse cx="681.5" cy="259.9" rx="156.2" ry="156.7" fill="none" stroke="#3a3a3a" stroke-width="1.5"/>
<clipPath id="c3"><ellipse cx="1067.3" cy="260.6" rx="155.5" ry="156.0"/></clipPath>
<g clip-path="url(#c3)">
<ellipse cx="1067.3" cy="260.6" rx="157.5" ry="158.0" fill="#00FF26"/>
<ellipse cx="1067.8" cy="261.2" rx="145.4" ry="145.5" fill="#00FF88"/>
<ellipse cx="1067.6" cy="261.3" rx="116.2" ry="116.2" fill="#00FFE2"/>
<ellipse cx="1067.0" cy="261.2" rx="74.8" ry="75.3" fill="#00B8FF"/>
</g>
<ellipse cx="1067.3" cy="260.6" rx="155.5" ry="156.0" fill="none" stroke="#3a3a3a" stroke-width="1.5"/>
<clipPath id="c4"><ellipse cx="1440.6" cy="260.0" rx="156.0" ry="156.0"/></clipPath>
<g clip-path="url(#c4)">
<ellipse cx="1440.6" cy="260.0" rx="158.0" ry="158.0" fill="#FF5F00"/>
<ellipse cx="1439.9" cy="260.4" rx="132.8" ry="133.2" fill="#FFB900"/>
<ellipse cx="1440.8" cy="259.9" rx="102.0" ry="102.3" fill="#E8FF00"/>
<ellipse cx="1440.6" cy="259.8" rx="55.5" ry="55.5" fill="#8CFF00"/>
</g>
<ellipse cx="1440.6" cy="260.0" rx="156.0" ry="156.0" fill="none" stroke="#3a3a3a" stroke-width="1.5"/>
<defs><pattern id="dots" width="97" height="89" patternUnits="userSpaceOnUse"><g fill="#1a1a1a" fill-opacity="0.55"><circle cx="31.4" cy="13.4" r="0.95"/><circle cx="63.1" cy="6.4" r="0.95"/><circle cx="52.0" cy="32.5" r="0.95"/><circle cx="5.6" cy="45.2" r="0.95"/><circle cx="3.6" cy="38.6" r="0.95"/><circle cx="6.8" cy="8.1" r="0.95"/><circle cx="41.2" cy="73.6" r="0.95"/><circle cx="12.0" cy="19.9" r="0.95"/><circle cx="60.9" cy="84.3" r="0.95"/><circle cx="56.0" cy="35.3" r="0.95"/><circle cx="94.7" cy="4.1" r="0.95"/><circle cx="83.3" cy="25.8" r="0.95"/><circle cx="14.0" cy="10.5" r="0.95"/><circle cx="29.9" cy="72.6" r="0.95"/><circle cx="17.5" cy="51.8" r="0.95"/><circle cx="62.0" cy="33.1" r="0.95"/><circle cx="53.1" cy="5.6" r="0.95"/><circle cx="5.8" cy="18.3" r="0.95"/><circle cx="66.0" cy="38.1" r="0.95"/><circle cx="30.5" cy="52.1" r="0.95"/><circle cx="44.0" cy="26.7" r="0.95"/><circle cx="77.1" cy="62.2" r="0.95"/><circle cx="23.7" cy="51.1" r="0.95"/><circle cx="50.9" cy="77.9" r="0.95"/><circle cx="70.8" cy="25.6" r="0.95"/><circle cx="95.1" cy="10.5" r="0.95"/><circle cx="40.6" cy="67.4" r="0.95"/><circle cx="14.7" cy="43.5" r="0.95"/><circle cx="3.8" cy="59.5" r="0.95"/><circle cx="74.2" cy="51.0" r="0.95"/><circle cx="84.9" cy="27.9" r="0.95"/><circle cx="67.4" cy="52.9" r="0.95"/><circle cx="56.2" cy="40.6" r="0.95"/><circle cx="81.5" cy="84.1" r="0.95"/><circle cx="46.0" cy="59.1" r="0.95"/><circle cx="5.9" cy="62.4" r="0.95"/><circle cx="62.8" cy="88.4" r="0.95"/><circle cx="79.7" cy="25.3" r="0.95"/></g></pattern></defs>
<clipPath id="c5"><ellipse cx="307.7" cy="1554.7" rx="152.1" ry="153.1"/></clipPath>
<g clip-path="url(#c5)">
<ellipse cx="307.7" cy="1554.7" rx="154.1" ry="155.1" fill="#00FF28"/>
<path d="M464,1556L464,1561L464,1566L463,1571L463,1576L462,1580L461,1585L460,1590L459,1595L458,1599L456,1604L455,1609L453,1613L451,1618L449,1622L447,1627L445,1631L442,1635L440,1640L437,1644L434,1648L431,1652L428,1655L425,1659L422,1663L418,1666L415,1670L411,1673L407,1676L404,1679L400,1682L396,1685L392,1688L387,1690L383,1693L379,1695L374,1697L370,1699L365,1701L361,1703L356,1704L351,1706L347,1707L342,1708L337,1709L332,1710L328,1711L323,1711L318,1712L313,1712L308,1712L303,1712L298,1712L293,1711L288,1711L284,1710L279,1709L274,1708L269,1707L265,1706L260,1704L255,1703L251,1701L246,1699L242,1697L237,1695L233,1693L229,1690L224,1688L220,1685L216,1682L212,1679L209,1676L205,1673L201,1670L198,1666L194,1663L191,1659L188,1655L185,1652L182,1648L179,1644L176,1640L174,1635L171,1631L169,1627L167,1622L165,1618L163,1613L161,1609L160,1604L158,1599L157,1595L156,1590L155,1585L154,1580L153,1576L153,1571L152,1566L152,1561L152,1556L152,1551L152,1546L153,1541L153,1536L154,1532L155,1527L156,1522L157,1517L158,1513L160,1508L161,1503L163,1499L165,1494L167,1490L169,1485L171,1481L174,1477L176,1472L179,1468L182,1464L185,1460L188,1457L191,1453L194,1449L198,1446L201,1442L205,1439L209,1436L212,1433L216,1430L220,1427L224,1424L229,1422L233,1419L237,1417L242,1415L246,1413L251,1411L255,1409L260,1408L265,1406L269,1405L274,1404L279,1403L284,1402L288,1401L293,1401L298,1400L303,1400L308,1400L313,1400L318,1400L323,1401L328,1401L332,1402L337,1403L342,1404L347,1405L351,1406L356,1408L361,1409L365,1411L370,1413L374,1415L379,1417L383,1419L387,1422L392,1424L396,1427L400,1430L404,1433L407,1436L411,1439L415,1442L418,1446L422,1449L425,1453L428,1457L431,1460L434,1464L437,1468L440,1472L442,1477L445,1481L447,1485L449,1490L451,1494L453,1499L455,1503L456,1508L458,1513L459,1517L460,1522L461,1527L462,1532L463,1536L463,1541L464,1546L464,1551Z" fill="#66FF00"/>
<path d="M452,1556L451,1561L453,1565L453,1570L453,1574L452,1579L453,1584L453,1588L453,1593L450,1597L448,1601L447,1606L449,1612L451,1618L449,1622L444,1625L439,1628L435,1631L434,1636L433,1641L431,1645L429,1650L426,1654L424,1658L420,1661L415,1663L411,1666L409,1670L406,1675L402,1678L396,1678L390,1677L386,1679L384,1684L382,1690L378,1694L372,1693L366,1690L360,1688L356,1691L354,1696L350,1702L346,1705L341,1704L336,1702L331,1699L326,1698L322,1700L317,1704L313,1707L308,1708L303,1706L299,1705L294,1705L289,1706L284,1706L280,1703L276,1699L272,1696L267,1696L262,1699L256,1700L252,1698L249,1693L246,1687L243,1684L238,1684L232,1685L226,1685L222,1682L220,1677L218,1672L215,1668L211,1666L205,1665L201,1663L198,1660L196,1654L196,1649L194,1644L191,1641L187,1639L182,1636L179,1632L177,1628L176,1623L174,1619L172,1615L169,1611L167,1607L168,1602L169,1596L168,1592L166,1588L163,1584L161,1579L161,1575L162,1570L163,1565L162,1561L160,1556L158,1551L156,1546L156,1542L159,1537L163,1533L165,1529L165,1524L163,1519L162,1514L165,1509L170,1506L174,1503L174,1498L172,1492L171,1486L174,1483L180,1480L185,1478L185,1473L184,1466L184,1460L187,1456L193,1455L199,1453L203,1451L205,1446L207,1442L211,1438L214,1435L219,1433L224,1432L229,1431L233,1430L237,1427L241,1425L245,1423L250,1422L254,1420L257,1416L261,1410L265,1407L270,1408L275,1411L280,1412L285,1410L289,1406L294,1405L299,1406L303,1409L308,1409L313,1408L317,1406L322,1406L327,1407L331,1408L336,1409L340,1411L344,1415L348,1418L353,1419L358,1417L364,1416L368,1417L372,1421L375,1424L380,1425L385,1426L389,1428L392,1432L395,1437L397,1441L401,1443L406,1445L410,1447L413,1451L416,1455L418,1459L420,1463L422,1468L424,1471L428,1474L433,1477L438,1479L442,1483L444,1487L445,1492L445,1497L445,1502L447,1506L448,1510L449,1515L450,1520L450,1524L452,1529L455,1533L458,1537L460,1542L458,1547L455,1551Z" fill="#00FF28"/>
<path d="M439,1556L442,1560L446,1565L449,1569L448,1574L447,1578L446,1582L447,1587L448,1592L450,1597L449,1602L445,1605L439,1608L434,1611L431,1614L430,1618L428,1622L426,1626L423,1629L421,1633L418,1636L415,1639L410,1640L404,1641L399,1642L396,1644L395,1649L395,1654L394,1660L393,1665L390,1669L387,1673L383,1674L378,1675L374,1675L370,1677L366,1679L362,1680L357,1681L354,1683L350,1687L347,1691L343,1692L338,1691L333,1688L329,1687L325,1689L321,1691L316,1691L312,1689L308,1689L304,1692L299,1696L295,1697L290,1696L286,1693L282,1692L278,1692L273,1693L269,1690L266,1686L262,1683L258,1682L254,1681L250,1680L246,1678L242,1676L237,1676L233,1674L230,1671L228,1666L226,1661L223,1659L219,1657L215,1655L212,1652L211,1647L209,1644L206,1641L203,1637L200,1634L197,1631L193,1629L188,1627L184,1624L182,1620L181,1616L178,1612L176,1608L175,1604L177,1599L178,1594L176,1590L171,1587L167,1583L167,1578L171,1573L175,1569L175,1564L172,1560L169,1556L169,1552L171,1547L172,1543L173,1539L174,1535L177,1531L181,1528L182,1524L178,1518L174,1512L173,1507L177,1504L183,1502L187,1499L188,1495L187,1490L188,1485L192,1482L196,1480L198,1476L199,1471L199,1465L200,1461L204,1459L210,1458L214,1455L215,1451L217,1446L219,1442L224,1441L230,1441L235,1441L238,1437L240,1432L242,1427L247,1426L253,1429L259,1432L264,1433L268,1432L271,1429L275,1426L278,1422L282,1419L286,1418L291,1421L296,1427L300,1431L304,1431L308,1427L312,1422L317,1421L321,1423L325,1425L329,1425L333,1424L338,1423L342,1425L346,1426L350,1427L354,1427L358,1429L361,1434L364,1438L368,1439L374,1436L380,1434L384,1436L386,1442L386,1448L389,1452L394,1452L400,1451L406,1452L409,1455L412,1459L414,1463L416,1467L416,1472L417,1477L420,1480L425,1482L430,1484L432,1488L429,1494L426,1500L427,1504L434,1506L441,1508L445,1512L443,1517L439,1522L439,1527L444,1530L451,1533L453,1538L450,1543L444,1547L439,1552Z" fill="#00FF88"/>
<path d="M432,1556L434,1560L433,1564L432,1568L433,1572L437,1576L437,1581L434,1584L429,1587L427,1591L428,1595L431,1600L430,1604L427,1607L422,1610L420,1613L418,1617L416,1620L413,1623L410,1625L409,1629L409,1634L409,1639L407,1644L404,1646L400,1648L393,1647L387,1645L382,1645L379,1648L379,1653L378,1659L375,1661L370,1661L366,1661L363,1663L360,1666L356,1667L351,1664L346,1663L344,1666L343,1675L340,1683L337,1684L332,1680L327,1677L323,1679L320,1684L316,1689L312,1690L308,1688L304,1688L300,1688L296,1686L292,1682L289,1677L285,1675L281,1675L277,1677L273,1677L269,1677L265,1676L261,1676L257,1674L254,1670L252,1665L250,1662L246,1661L241,1662L236,1661L233,1659L231,1655L228,1652L225,1650L223,1646L223,1641L222,1636L221,1633L217,1632L211,1631L207,1630L203,1627L201,1624L199,1621L196,1617L195,1614L194,1610L195,1605L194,1601L192,1598L188,1595L183,1592L180,1589L181,1584L185,1579L188,1575L189,1571L187,1567L184,1564L182,1560L181,1556L179,1552L178,1548L178,1544L180,1540L185,1536L188,1533L189,1529L189,1525L189,1521L190,1518L191,1514L190,1509L189,1504L190,1500L194,1498L199,1496L202,1493L202,1489L204,1485L208,1483L214,1483L218,1482L219,1477L217,1470L216,1464L219,1461L225,1461L230,1462L234,1460L235,1455L235,1449L237,1443L239,1440L244,1440L249,1441L255,1443L259,1444L263,1443L267,1442L270,1440L274,1439L278,1437L281,1436L285,1434L288,1432L292,1432L296,1432L300,1432L304,1433L308,1433L312,1433L316,1432L320,1431L324,1431L328,1432L331,1434L334,1437L338,1440L342,1441L346,1439L351,1437L356,1435L360,1436L363,1439L365,1445L367,1449L370,1452L374,1452L379,1451L383,1452L387,1455L390,1457L393,1460L396,1462L397,1467L398,1471L400,1475L404,1477L408,1478L412,1481L413,1485L413,1489L416,1492L420,1494L423,1497L422,1502L419,1508L417,1513L418,1516L423,1519L428,1521L431,1524L433,1528L434,1532L433,1536L431,1540L428,1545L427,1549L429,1552Z" fill="#00FFE6"/>
<path d="M179.8,1467.5 C183.1,1458.2 199.7,1445.3 209.6,1437.7 C219.5,1430.1 232.1,1421.8 239.4,1421.8 C246.7,1421.8 254.3,1431.8 253.3,1437.7 C252.3,1443.7 240.7,1451.0 233.4,1457.6 C226.1,1464.2 216.9,1471.5 209.6,1477.4 C202.3,1483.4 194.7,1495.0 189.7,1493.3 C184.8,1491.7 176.5,1476.8 179.8,1467.5Z" fill="#00FF28" />
<path d="M215.5,1481.4 C222.2,1473.1 230.4,1464.9 239.4,1457.6 C248.3,1450.3 259.2,1441.4 269.2,1437.7 C279.1,1434.1 290.0,1436.7 299.0,1435.7 C307.9,1434.7 314.5,1432.8 322.8,1431.8 C331.1,1430.8 340.0,1432.1 348.6,1429.8 C357.2,1427.5 367.8,1418.9 374.4,1417.9 C381.1,1416.9 381.7,1418.9 388.3,1423.8 C395.0,1428.8 406.9,1438.1 414.2,1447.7 C421.4,1457.3 427.1,1469.8 432.0,1481.4 C437.0,1493.0 442.3,1504.6 444.0,1517.2 C445.6,1529.7 443.6,1543.7 442.0,1556.9 C440.3,1570.1 438.0,1583.4 434.0,1596.6 C430.1,1609.9 424.8,1625.4 418.1,1636.3 C411.5,1647.3 403.2,1655.5 394.3,1662.2 C385.4,1668.8 375.4,1674.1 364.5,1676.1 C353.6,1678.1 338.7,1676.4 328.8,1674.1 C318.8,1671.8 311.5,1666.8 304.9,1662.2 C298.3,1657.5 293.7,1649.6 289.0,1646.3 C284.4,1643.0 281.7,1644.6 277.1,1642.3 C272.5,1640.0 268.2,1635.7 261.2,1632.4 C254.3,1629.1 243.0,1626.4 235.4,1622.4 C227.8,1618.5 221.5,1616.1 215.5,1608.5 C209.6,1600.9 203.3,1588.7 199.7,1576.8 C196.0,1564.8 193.7,1548.6 193.7,1537.0 C193.7,1525.4 196.0,1516.5 199.7,1507.2 C203.3,1498.0 208.9,1489.7 215.5,1481.4Z" fill="#00B8FF" />
<path d="M265.2,1638.5 C266.9,1629.1 278.3,1610.6 282.3,1599.4 C286.2,1588.1 286.1,1580.5 288.8,1571.0 C291.6,1561.4 294.8,1551.5 298.5,1542.1 C302.2,1532.7 306.3,1522.4 311.1,1514.7 C315.9,1506.9 321.5,1502.1 327.2,1495.8 C332.8,1489.5 339.0,1482.8 344.8,1476.7 C350.6,1470.7 357.3,1464.2 362.2,1459.5 C367.1,1454.8 370.8,1449.1 374.2,1448.6 C377.6,1448.1 382.3,1451.4 382.4,1456.5 C382.5,1461.7 378.4,1472.3 374.9,1479.6 C371.5,1486.8 366.3,1493.6 361.7,1499.8 C357.2,1506.0 351.5,1510.5 347.5,1516.6 C343.4,1522.6 340.8,1529.1 337.4,1536.3 C333.9,1543.5 331.0,1553.1 326.8,1559.8 C322.7,1566.5 316.9,1570.5 312.6,1576.6 C308.2,1582.7 304.4,1589.4 300.9,1596.6 C297.5,1603.8 295.0,1611.8 291.9,1619.9 C288.9,1627.9 286.0,1639.0 282.7,1645.0 C279.4,1651.0 275.1,1656.8 272.2,1655.7 C269.3,1654.6 263.5,1647.9 265.2,1638.5Z" fill="#00FFE6" />
<path d="M261.2,1481.4 C261.9,1476.5 285.1,1462.6 293.0,1463.5 C300.9,1464.5 309.6,1482.4 308.9,1487.4 C308.2,1492.3 297.0,1494.3 289.0,1493.3 C281.1,1492.3 260.6,1486.4 261.2,1481.4Z" fill="#00FFE6" />
<path d="M300.9,1463.5 C299.3,1457.9 305.3,1448.6 308.9,1447.7 C312.5,1446.7 321.1,1452.0 322.8,1457.6 C324.5,1463.2 322.5,1480.4 318.8,1481.4 C315.2,1482.4 302.6,1469.2 300.9,1463.5Z" fill="#00FFE6" />
<path d="M380.4,1505.3 C380.2,1508.2 390.3,1511.0 405.8,1512.2 C421.3,1513.4 431.8,1512.2 432.0,1509.2 C432.3,1506.3 422.1,1503.5 406.6,1502.3 C391.1,1501.1 380.6,1502.3 380.4,1505.3Z" fill="#00FFE6" />
<path d="M384.4,1539.0 C383.6,1541.3 393.4,1546.3 408.9,1551.7 C424.4,1557.1 435.2,1559.1 436.0,1556.9 C436.8,1554.6 427.0,1549.6 411.5,1544.2 C396.0,1538.8 385.1,1536.8 384.4,1539.0Z" fill="#00FFE6" />
<path d="M209.6,1517.2 C211.9,1512.5 220.2,1509.9 221.5,1513.2 C222.8,1516.5 219.8,1532.4 217.5,1537.0 C215.2,1541.7 208.9,1544.3 207.6,1541.0 C206.3,1537.7 207.3,1521.8 209.6,1517.2Z" fill="#00FFE6" />
<path d="M243.4,1646.3 C249.3,1639.0 260.9,1636.3 269.2,1636.3 C277.4,1636.3 286.4,1641.3 293.0,1646.3 C299.6,1651.2 307.6,1658.5 308.9,1666.1 C310.2,1673.7 305.6,1685.0 300.9,1692.0 C296.3,1698.9 289.0,1705.9 281.1,1707.8 C273.1,1709.8 261.2,1708.5 253.3,1703.9 C245.3,1699.2 235.1,1689.6 233.4,1680.0 C231.8,1670.4 237.4,1653.6 243.4,1646.3Z" fill="#00FF88" />
<path d="M261.2,1654.2 C262.9,1649.3 271.8,1645.6 277.1,1646.3 C282.4,1646.9 290.0,1653.2 293.0,1658.2 C296.0,1663.2 297.0,1671.4 295.0,1676.1 C293.0,1680.7 285.7,1686.0 281.1,1686.0 C276.5,1686.0 270.5,1681.4 267.2,1676.1 C263.9,1670.8 259.6,1659.2 261.2,1654.2Z" fill="#00FF28" />
<path d="M233.4,1473.5 C237.1,1470.5 238.7,1468.7 243.4,1467.5 C248.0,1466.4 257.3,1465.5 261.2,1466.5 C265.2,1467.5 266.5,1470.3 267.2,1473.5 C267.8,1476.6 266.9,1482.4 265.2,1485.4 C263.5,1488.4 257.3,1488.0 257.3,1491.4 C257.3,1494.7 263.2,1500.3 265.2,1505.3 C267.2,1510.2 269.8,1516.5 269.2,1521.1 C268.5,1525.8 261.2,1528.4 261.2,1533.1 C261.2,1537.7 266.5,1543.7 269.2,1548.9 C271.8,1554.2 276.5,1560.2 277.1,1564.8 C277.8,1569.5 274.5,1572.1 273.1,1576.8 C271.8,1581.4 268.8,1587.3 269.2,1592.6 C269.5,1597.9 274.5,1603.6 275.1,1608.5 C275.8,1613.5 274.8,1619.1 273.1,1622.4 C271.5,1625.7 269.8,1628.4 265.2,1628.4 C260.6,1628.4 251.3,1625.1 245.3,1622.4 C239.4,1619.8 234.4,1616.5 229.4,1612.5 C224.5,1608.5 219.2,1603.9 215.5,1598.6 C211.9,1593.3 209.6,1588.3 207.6,1580.7 C205.6,1573.1 204.3,1560.9 203.6,1552.9 C203.0,1545.0 203.0,1539.7 203.6,1533.1 C204.3,1526.4 205.9,1519.2 207.6,1513.2 C209.3,1507.2 211.2,1501.9 213.6,1497.3 C215.9,1492.7 218.2,1489.4 221.5,1485.4 C224.8,1481.4 229.8,1476.5 233.4,1473.5Z" fill="#0066FF" />
<path d="M318.8,1644.3 C317.5,1640.0 319.2,1633.0 320.8,1628.4 C322.5,1623.8 324.8,1619.5 328.8,1616.5 C332.7,1613.5 339.3,1613.8 344.6,1610.5 C349.9,1607.2 357.2,1597.9 360.5,1596.6 C363.8,1595.3 362.5,1601.3 364.5,1602.6 C366.5,1603.9 368.5,1604.6 372.5,1604.6 C376.4,1604.6 384.7,1601.3 388.3,1602.6 C392.0,1603.9 391.7,1610.2 394.3,1612.5 C396.9,1614.8 401.9,1613.8 404.2,1616.5 C406.5,1619.1 409.2,1625.1 408.2,1628.4 C407.2,1631.7 402.2,1634.0 398.3,1636.3 C394.3,1638.7 388.3,1640.3 384.4,1642.3 C380.4,1644.3 380.4,1646.6 374.4,1648.3 C368.5,1649.9 356.2,1651.2 348.6,1652.2 C341.0,1653.2 333.7,1655.5 328.8,1654.2 C323.8,1652.9 320.1,1648.6 318.8,1644.3Z" fill="#0066FF" />
<path d="M392.3,1580.7 C393.6,1578.7 399.6,1580.4 402.2,1584.7 C404.9,1589.0 408.5,1602.6 408.2,1606.5 C407.9,1610.5 402.6,1610.2 400.3,1608.5 C397.9,1606.9 395.6,1601.3 394.3,1596.6 C393.0,1592.0 391.0,1582.7 392.3,1580.7Z" fill="#0066FF" />
<path d="M229.4,1509.2 C232.1,1507.6 243.0,1504.6 245.3,1505.3 C247.7,1505.9 246.0,1511.5 243.4,1513.2 C240.7,1514.9 231.8,1515.8 229.4,1515.2 C227.1,1514.5 226.8,1510.9 229.4,1509.2Z" fill="#00B8FF" />
<path d="M217.5,1570.8 C218.5,1569.1 223.8,1567.8 225.5,1568.8 C227.1,1569.8 228.5,1575.1 227.5,1576.8 C226.5,1578.4 221.2,1579.7 219.5,1578.7 C217.9,1577.7 216.5,1572.5 217.5,1570.8Z" fill="#0000FF" />
<path d="M237.4,1586.7 C239.4,1585.5 247.7,1584.5 249.3,1585.7 C251.0,1586.9 249.3,1592.5 247.3,1593.6 C245.3,1594.8 239.0,1593.8 237.4,1592.6 C235.7,1591.5 235.4,1587.8 237.4,1586.7Z" fill="#0000FF" />
<path d="M364.5,1626.4 C365.3,1624.1 369.1,1621.1 370.5,1622.4 C371.8,1623.8 373.3,1632.0 372.5,1634.4 C371.6,1636.7 366.8,1637.7 365.5,1636.3 C364.2,1635.0 363.7,1628.7 364.5,1626.4Z" fill="#0000FF" />
<path d="M293.0,1525.1 C295.7,1517.8 301.3,1511.5 308.9,1505.3 C316.5,1499.0 329.4,1494.0 338.7,1487.4 C348.0,1480.8 357.2,1471.8 364.5,1465.5 C371.8,1459.2 378.1,1450.6 382.4,1449.6 C386.7,1448.6 391.0,1454.6 390.3,1459.6 C389.7,1464.5 383.4,1472.8 378.4,1479.4 C373.4,1486.1 365.8,1492.3 360.5,1499.3 C355.2,1506.2 350.3,1512.9 346.6,1521.1 C343.0,1529.4 342.7,1541.0 338.7,1548.9 C334.7,1556.9 328.8,1566.2 322.8,1568.8 C316.8,1571.5 307.9,1568.1 302.9,1564.8 C298.0,1561.5 294.7,1555.6 293.0,1548.9 C291.3,1542.3 290.4,1532.4 293.0,1525.1Z" fill="#00FF88" />
<path d="M300.9,1529.1 C303.9,1523.5 312.2,1518.5 318.8,1515.2 C325.4,1511.9 335.7,1508.2 340.7,1509.2 C345.6,1510.2 348.9,1515.8 348.6,1521.1 C348.3,1526.4 342.0,1535.0 338.7,1541.0 C335.4,1547.0 333.1,1553.6 328.8,1556.9 C324.5,1560.2 317.5,1562.2 312.9,1560.9 C308.2,1559.5 302.9,1554.2 300.9,1548.9 C299.0,1543.7 298.0,1534.7 300.9,1529.1Z" fill="#00FF28" />
<path d="M308.9,1525.1 C311.9,1522.5 320.8,1519.8 324.8,1521.1 C328.8,1522.5 332.7,1528.4 332.7,1533.1 C332.7,1537.7 328.4,1545.6 324.8,1548.9 C321.1,1552.3 313.9,1554.9 310.9,1552.9 C307.9,1550.9 307.2,1541.7 306.9,1537.0 C306.6,1532.4 305.9,1527.8 308.9,1525.1Z" fill="#66FF00" />
<path d="M311.9,1525.1 C313.9,1523.5 320.6,1526.4 322.8,1529.1 C324.9,1531.7 326.1,1537.4 324.8,1541.0 C323.5,1544.6 317.2,1551.3 314.9,1550.9 C312.5,1550.6 311.4,1543.3 310.9,1539.0 C310.4,1534.7 309.9,1526.8 311.9,1525.1Z" fill="#CCFF00" />
<path d="M312.9,1525.1 C313.9,1524.8 320.0,1531.1 320.8,1535.0 C321.6,1539.0 319.3,1546.0 317.8,1548.9 C316.3,1551.9 312.4,1554.9 311.9,1552.9 C311.3,1550.9 314.3,1541.7 314.5,1537.0 C314.6,1532.4 311.8,1525.4 312.9,1525.1Z" fill="#FF6600" />
<path d="M314.9,1527.1 C315.7,1527.1 319.1,1533.4 319.2,1537.0 C319.4,1540.7 316.7,1548.9 315.8,1548.9 C315.0,1548.9 314.0,1540.7 313.9,1537.0 C313.7,1533.4 314.0,1527.1 314.9,1527.1Z" fill="#FF0000" />
<path d="M362.5,1695.9 C363.0,1697.3 366.9,1697.1 372.2,1695.3 C377.6,1693.5 380.9,1691.4 380.4,1690.0 C379.9,1688.6 376.0,1688.8 370.7,1690.6 C365.3,1692.4 362.0,1694.5 362.5,1695.9Z" fill="#CCFF00" />
<path d="M163.9,1493.3 C162.1,1493.5 161.3,1499.1 161.9,1507.5 C162.5,1515.8 164.1,1521.3 165.9,1521.1 C167.7,1521.0 168.5,1515.4 167.9,1507.0 C167.3,1498.7 165.7,1493.2 163.9,1493.3Z" fill="#66FF00" />
<path d="M391.3,1426.8 L378.4,1449.6 L384.4,1465.5 L362.5,1481.4 L364.5,1493.3 L348.6,1513.2 L332.7,1529.1" fill="none" stroke="#222" stroke-width="2.0" stroke-linejoin="round" stroke-linecap="round" />
<path d="M281.5,1680.0 L277.1,1709.8" fill="none" stroke="#222" stroke-width="2.0" stroke-linejoin="round" stroke-linecap="round" />
<rect x="155.6" y="1401.6" width="304.2" height="306.2" fill="url(#dots)"/>
</g>
<ellipse cx="307.7" cy="1554.7" rx="152.1" ry="153.1" fill="none" stroke="#3a3a3a" stroke-width="1.5"/>
<clipPath id="c6"><ellipse cx="681.4" cy="1555.0" rx="155.3" ry="155.6"/></clipPath>
<g clip-path="url(#c6)">
<ellipse cx="681.4" cy="1555.0" rx="157.3" ry="157.6" fill="#00FF28"/>
<path d="M838,1556L838,1561L838,1566L837,1571L837,1576L836,1581L835,1585L834,1590L833,1595L832,1600L830,1604L829,1609L827,1614L825,1618L823,1623L821,1627L818,1632L816,1636L813,1640L811,1644L808,1648L805,1652L802,1656L799,1660L795,1663L792,1667L788,1670L785,1674L781,1677L777,1680L773,1683L769,1686L765,1688L761,1691L757,1693L752,1696L748,1698L743,1700L739,1702L734,1704L729,1705L725,1707L720,1708L715,1709L710,1710L706,1711L701,1712L696,1712L691,1713L686,1713L681,1713L676,1713L671,1713L666,1712L661,1712L656,1711L652,1710L647,1709L642,1708L637,1707L633,1705L628,1704L623,1702L619,1700L614,1698L610,1696L605,1693L601,1691L597,1688L593,1686L589,1683L585,1680L581,1677L577,1674L574,1670L570,1667L567,1663L563,1660L560,1656L557,1652L554,1648L551,1644L549,1640L546,1636L544,1632L541,1627L539,1623L537,1618L535,1614L533,1609L532,1604L530,1600L529,1595L528,1590L527,1585L526,1581L525,1576L525,1571L524,1566L524,1561L524,1556L524,1551L524,1546L525,1541L525,1536L526,1531L527,1527L528,1522L529,1517L530,1512L532,1508L533,1503L535,1498L537,1494L539,1489L541,1485L544,1480L546,1476L549,1472L551,1468L554,1464L557,1460L560,1456L563,1452L567,1449L570,1445L574,1442L577,1438L581,1435L585,1432L589,1429L593,1426L597,1424L601,1421L605,1419L610,1416L614,1414L619,1412L623,1410L628,1408L633,1407L637,1405L642,1404L647,1403L652,1402L656,1401L661,1400L666,1400L671,1399L676,1399L681,1399L686,1399L691,1399L696,1400L701,1400L706,1401L710,1402L715,1403L720,1404L725,1405L729,1407L734,1408L739,1410L743,1412L748,1414L752,1416L757,1419L761,1421L765,1424L769,1426L773,1429L777,1432L781,1435L785,1438L788,1442L792,1445L795,1449L799,1452L802,1456L805,1460L808,1464L811,1468L813,1472L816,1476L818,1480L821,1485L823,1489L825,1494L827,1498L829,1503L830,1508L832,1512L833,1517L834,1522L835,1527L836,1531L837,1536L837,1541L838,1546L838,1551Z" fill="#66FF00"/>
<path d="M830,1556L833,1561L831,1565L827,1570L824,1574L825,1579L826,1584L827,1589L826,1593L824,1598L823,1602L821,1606L819,1611L817,1615L817,1620L817,1625L816,1630L813,1634L808,1637L803,1639L801,1643L801,1649L800,1654L796,1657L790,1659L785,1660L782,1664L780,1669L778,1673L773,1675L768,1676L764,1678L761,1682L758,1687L755,1690L750,1691L744,1691L740,1692L737,1696L733,1701L729,1705L724,1706L719,1705L714,1704L709,1703L704,1702L699,1702L695,1704L690,1706L686,1708L681,1707L676,1705L672,1703L667,1704L662,1706L657,1705L653,1702L649,1698L645,1697L640,1698L635,1699L630,1698L626,1695L622,1692L618,1689L614,1687L610,1686L605,1684L601,1683L596,1681L591,1680L588,1676L585,1672L581,1669L577,1666L573,1664L570,1660L569,1655L567,1651L563,1648L557,1646L552,1643L550,1639L551,1633L551,1628L548,1624L544,1621L540,1617L538,1613L538,1607L538,1602L537,1598L537,1593L536,1588L535,1584L533,1579L532,1575L532,1570L534,1565L535,1561L533,1556L530,1551L528,1546L530,1542L534,1537L538,1533L540,1529L539,1524L536,1519L533,1513L532,1508L534,1503L540,1500L546,1498L552,1495L553,1491L553,1486L553,1481L556,1477L560,1474L562,1470L562,1463L561,1457L564,1453L570,1452L577,1452L581,1450L583,1444L584,1439L588,1436L593,1435L599,1435L602,1432L605,1427L608,1424L613,1423L619,1424L623,1423L627,1420L630,1416L634,1412L639,1410L644,1410L648,1410L653,1409L658,1408L662,1406L667,1404L671,1404L676,1405L681,1407L686,1408L690,1408L695,1408L700,1408L704,1408L709,1409L714,1410L718,1411L723,1412L727,1413L732,1415L737,1416L741,1416L746,1417L751,1419L756,1420L760,1422L764,1425L768,1428L770,1433L773,1437L776,1441L781,1443L786,1444L791,1446L795,1449L799,1452L801,1456L803,1462L803,1467L804,1472L807,1476L810,1480L812,1484L813,1489L813,1494L816,1498L820,1501L824,1505L825,1509L823,1515L821,1520L822,1524L826,1528L828,1533L827,1538L824,1542L823,1547L826,1551Z" fill="#00FF28"/>
<path d="M820,1556L822,1560L822,1565L821,1569L820,1574L819,1578L816,1582L812,1585L808,1589L807,1593L809,1597L810,1602L808,1606L804,1609L799,1611L797,1615L798,1620L799,1626L798,1630L796,1634L795,1639L794,1644L792,1648L787,1649L781,1650L778,1653L777,1659L778,1666L775,1670L769,1670L763,1669L760,1672L758,1678L755,1682L750,1682L744,1680L740,1681L737,1685L734,1689L729,1691L724,1689L719,1687L715,1689L712,1693L708,1695L703,1693L698,1689L693,1687L689,1688L685,1690L681,1692L677,1693L672,1695L668,1697L663,1696L659,1693L655,1691L650,1694L644,1700L638,1705L633,1704L630,1698L627,1691L624,1688L620,1686L615,1685L613,1681L610,1676L606,1674L601,1673L596,1672L594,1668L595,1660L595,1654L592,1651L586,1651L580,1651L575,1649L574,1645L574,1639L573,1634L571,1631L568,1628L564,1625L561,1622L558,1619L556,1615L555,1611L554,1606L553,1602L553,1598L553,1593L552,1589L551,1585L551,1581L552,1576L552,1572L551,1568L547,1564L543,1560L541,1556L541,1552L543,1547L544,1543L543,1539L544,1534L545,1530L547,1526L547,1522L545,1517L544,1511L546,1507L550,1504L554,1501L555,1497L553,1491L551,1485L553,1480L558,1478L565,1477L571,1476L574,1473L576,1469L578,1465L579,1461L581,1456L584,1453L587,1449L590,1446L595,1445L601,1445L607,1447L612,1447L615,1444L615,1436L616,1428L619,1423L624,1424L630,1428L635,1429L639,1426L642,1420L645,1416L650,1415L654,1417L659,1418L664,1418L668,1418L672,1419L677,1418L681,1415L686,1412L690,1412L694,1417L698,1422L702,1425L706,1423L712,1417L718,1411L723,1410L727,1414L730,1419L733,1425L736,1429L740,1431L744,1433L749,1433L754,1433L759,1434L762,1436L765,1440L767,1445L769,1449L772,1453L774,1457L777,1460L780,1463L784,1465L787,1468L790,1472L790,1477L790,1482L789,1488L790,1492L794,1494L800,1495L806,1497L811,1500L812,1504L812,1509L812,1513L814,1517L818,1521L822,1524L824,1529L823,1534L819,1539L816,1543L815,1548L817,1552Z" fill="#00FF88"/>
<path d="M808,1556L809,1560L813,1564L813,1568L809,1572L804,1576L803,1579L805,1584L807,1588L806,1592L802,1595L799,1599L799,1603L801,1608L802,1613L799,1616L794,1618L788,1619L784,1621L783,1625L784,1631L784,1636L782,1640L777,1641L772,1641L768,1643L767,1647L766,1653L764,1657L760,1657L754,1656L750,1657L748,1661L747,1667L744,1671L740,1672L735,1670L731,1671L728,1673L725,1678L722,1681L718,1683L714,1685L710,1685L706,1685L701,1684L697,1683L693,1685L689,1687L685,1689L681,1687L677,1685L673,1684L669,1686L664,1688L660,1686L657,1680L655,1673L652,1668L649,1667L644,1669L640,1670L635,1671L631,1672L626,1673L622,1673L618,1670L616,1666L613,1663L609,1662L604,1662L600,1660L598,1656L596,1652L593,1650L587,1650L582,1649L581,1644L584,1636L586,1629L584,1627L577,1627L570,1627L568,1623L569,1617L570,1613L567,1610L561,1608L558,1605L558,1600L559,1596L557,1592L551,1589L547,1586L549,1581L554,1576L557,1572L556,1568L551,1564L548,1560L551,1556L554,1552L556,1548L554,1544L553,1540L555,1536L559,1533L562,1529L562,1525L561,1521L562,1517L564,1514L565,1510L564,1505L563,1500L563,1496L567,1493L571,1491L573,1487L574,1483L576,1479L580,1477L584,1476L587,1473L587,1468L588,1463L590,1459L595,1458L601,1459L606,1459L609,1457L611,1453L612,1447L613,1441L616,1437L620,1437L626,1440L632,1443L636,1443L639,1438L641,1432L644,1428L648,1427L652,1427L656,1428L661,1429L665,1431L669,1434L673,1434L677,1429L681,1424L685,1423L689,1427L693,1433L696,1436L700,1436L704,1434L708,1434L712,1435L716,1436L720,1435L725,1435L729,1436L731,1440L734,1443L738,1445L741,1446L745,1447L749,1450L753,1451L758,1450L764,1449L770,1449L774,1451L775,1456L776,1461L776,1466L777,1471L778,1476L780,1479L783,1482L786,1485L788,1488L789,1492L790,1496L792,1499L795,1502L797,1506L798,1510L800,1513L803,1516L807,1519L808,1523L806,1528L805,1532L806,1536L810,1540L813,1544L813,1548L809,1552Z" fill="#00FFE6"/>
<path d="M582.6,1481.4 C588.5,1473.5 597.8,1464.9 606.4,1457.6 C615.0,1450.3 625.0,1441.7 634.2,1437.7 C643.5,1433.8 652.1,1434.7 662.0,1433.8 C672.0,1432.8 683.9,1432.8 693.8,1431.8 C703.7,1430.8 712.7,1430.1 721.6,1427.8 C730.6,1425.5 740.8,1418.9 747.4,1417.9 C754.1,1416.9 754.4,1417.2 761.3,1421.8 C768.3,1426.5 781.2,1436.4 789.1,1445.7 C797.1,1454.9 803.7,1465.5 809.0,1477.4 C814.3,1489.4 819.3,1503.3 820.9,1517.2 C822.6,1531.1 820.9,1546.3 818.9,1560.9 C817.0,1575.4 813.3,1591.3 809.0,1604.6 C804.7,1617.8 800.1,1630.4 793.1,1640.3 C786.2,1650.2 776.6,1657.9 767.3,1664.1 C758.0,1670.4 748.4,1676.1 737.5,1678.1 C726.6,1680.0 711.7,1678.4 701.8,1676.1 C691.8,1673.7 684.5,1668.8 677.9,1664.1 C671.3,1659.5 666.7,1651.6 662.0,1648.3 C657.4,1644.9 654.7,1646.3 650.1,1644.3 C645.5,1642.3 641.5,1639.3 634.2,1636.3 C626.9,1633.4 614.4,1630.7 606.4,1626.4 C598.5,1622.1 592.5,1618.8 586.6,1610.5 C580.6,1602.2 574.3,1589.0 570.7,1576.8 C567.0,1564.5 564.7,1548.9 564.7,1537.0 C564.7,1525.1 567.7,1514.5 570.7,1505.3 C573.6,1496.0 576.6,1489.4 582.6,1481.4Z" fill="#00B8FF" />
<path d="M638.2,1638.5 C639.9,1629.1 651.3,1610.6 655.3,1599.4 C659.2,1588.1 659.1,1580.5 661.8,1571.0 C664.6,1561.4 667.8,1551.5 671.5,1542.1 C675.2,1532.7 679.3,1522.4 684.1,1514.7 C688.9,1506.9 694.5,1502.1 700.2,1495.8 C705.8,1489.5 712.0,1482.8 717.8,1476.7 C723.6,1470.7 730.3,1464.2 735.2,1459.5 C740.1,1454.8 743.8,1449.1 747.2,1448.6 C750.6,1448.1 755.3,1451.4 755.4,1456.5 C755.5,1461.7 751.4,1472.3 747.9,1479.6 C744.5,1486.8 739.3,1493.6 734.7,1499.8 C730.2,1506.0 724.5,1510.5 720.5,1516.6 C716.4,1522.6 713.8,1529.1 710.4,1536.3 C706.9,1543.5 704.0,1553.1 699.8,1559.8 C695.7,1566.5 689.9,1570.5 685.6,1576.6 C681.2,1582.7 677.4,1589.4 673.9,1596.6 C670.5,1603.8 668.0,1611.8 664.9,1619.9 C661.9,1627.9 659.0,1639.0 655.7,1645.0 C652.4,1651.0 648.1,1656.8 645.2,1655.7 C642.3,1654.6 636.5,1647.9 638.2,1638.5Z" fill="#00FFE6" />
<path d="M693.8,1449.6 C695.1,1443.0 704.4,1437.7 707.7,1441.7 C711.0,1445.7 715.0,1466.9 713.7,1473.5 C712.3,1480.1 703.1,1485.4 699.8,1481.4 C696.5,1477.4 692.5,1456.3 693.8,1449.6Z" fill="#00FFE6" />
<path d="M745.5,1497.3 C745.3,1500.3 758.3,1503.1 777.9,1504.3 C797.6,1505.4 810.8,1504.3 811.0,1501.3 C811.2,1498.3 798.2,1495.5 778.5,1494.3 C758.9,1493.1 745.6,1494.3 745.5,1497.3Z" fill="#00FFE6" />
<path d="M743.5,1527.1 C743.0,1529.4 756.2,1533.8 776.4,1537.9 C796.7,1542.1 810.5,1543.3 811.0,1541.0 C811.5,1538.7 798.3,1534.3 778.0,1530.2 C757.8,1526.0 743.9,1524.8 743.5,1527.1Z" fill="#00FFE6" />
<path d="M751.4,1562.9 C751.0,1565.2 763.1,1568.8 781.6,1571.7 C800.0,1574.7 812.6,1575.1 813.0,1572.8 C813.4,1570.4 801.3,1566.9 782.8,1563.9 C764.4,1560.9 751.8,1560.5 751.4,1562.9Z" fill="#00FFE6" />
<path d="M582.6,1521.1 C584.9,1516.5 593.2,1513.9 594.5,1517.2 C595.8,1520.5 592.8,1536.4 590.5,1541.0 C588.2,1545.6 581.9,1548.3 580.6,1545.0 C579.3,1541.7 580.3,1525.8 582.6,1521.1Z" fill="#00FFE6" />
<path d="M622.3,1644.3 C628.6,1638.7 638.9,1637.7 646.1,1638.3 C653.4,1639.0 660.7,1642.6 666.0,1648.3 C671.3,1653.9 677.9,1664.1 677.9,1672.1 C677.9,1680.0 671.3,1690.0 666.0,1695.9 C660.7,1701.9 653.4,1707.8 646.1,1707.8 C638.9,1707.8 628.6,1701.9 622.3,1695.9 C616.0,1690.0 608.4,1680.7 608.4,1672.1 C608.4,1663.5 616.0,1649.9 622.3,1644.3Z" fill="#00FF88" />
<path d="M634.2,1656.2 C635.9,1651.6 645.1,1647.6 650.1,1648.3 C655.1,1648.9 661.4,1655.2 664.0,1660.2 C666.7,1665.1 668.0,1673.7 666.0,1678.1 C664.0,1682.4 656.4,1686.3 652.1,1686.0 C647.8,1685.7 643.2,1681.0 640.2,1676.1 C637.2,1671.1 632.6,1660.8 634.2,1656.2Z" fill="#00FF28" />
<path d="M634.2,1695.9 C635.5,1692.6 645.5,1690.0 650.1,1692.0 C654.7,1693.9 663.4,1704.5 662.0,1707.8 C660.7,1711.2 646.8,1713.8 642.2,1711.8 C637.5,1709.8 632.9,1699.2 634.2,1695.9Z" fill="#00B8FF" />
<path d="M604.4,1473.5 C608.4,1469.5 610.7,1467.0 616.4,1465.5 C622.0,1464.0 633.6,1461.9 638.2,1464.5 C642.8,1467.2 644.5,1476.6 644.2,1481.4 C643.8,1486.2 635.9,1488.7 636.2,1493.3 C636.5,1498.0 645.8,1503.9 646.1,1509.2 C646.5,1514.5 640.8,1520.5 638.2,1525.1 C635.5,1529.7 630.3,1533.1 630.3,1537.0 C630.3,1541.0 635.2,1544.0 638.2,1548.9 C641.2,1553.9 647.5,1560.5 648.1,1566.8 C648.8,1573.1 642.5,1579.7 642.2,1586.7 C641.8,1593.6 645.8,1600.9 646.1,1608.5 C646.5,1616.1 648.1,1628.1 644.2,1632.4 C640.2,1636.7 629.3,1636.0 622.3,1634.4 C615.4,1632.7 608.4,1627.4 602.4,1622.4 C596.5,1617.5 590.7,1611.5 586.6,1604.6 C582.4,1597.6 579.8,1589.3 577.6,1580.7 C575.5,1572.1 574.0,1562.2 573.6,1552.9 C573.3,1543.7 574.1,1532.4 575.6,1525.1 C577.1,1517.8 579.8,1515.2 582.6,1509.2 C585.4,1503.3 588.9,1495.3 592.5,1489.4 C596.2,1483.4 600.5,1477.4 604.4,1473.5Z" fill="#0066FF" />
<path d="M650.1,1471.5 C650.9,1469.5 654.7,1467.8 656.1,1469.5 C657.4,1471.2 658.9,1479.4 658.1,1481.4 C657.2,1483.4 652.4,1483.1 651.1,1481.4 C649.8,1479.8 649.3,1473.5 650.1,1471.5Z" fill="#0066FF" />
<path d="M691.8,1644.3 C690.8,1639.7 692.2,1629.7 695.8,1624.4 C699.4,1619.1 707.4,1616.8 713.7,1612.5 C720.0,1608.2 727.2,1601.3 733.5,1598.6 C739.8,1596.0 746.4,1598.3 751.4,1596.6 C756.4,1595.0 759.4,1591.0 763.3,1588.7 C767.3,1586.4 771.9,1581.4 775.2,1582.7 C778.6,1584.0 782.5,1591.7 783.2,1596.6 C783.9,1601.6 782.2,1608.2 779.2,1612.5 C776.2,1616.8 769.3,1618.5 765.3,1622.4 C761.3,1626.4 758.4,1631.7 755.4,1636.3 C752.4,1641.0 753.1,1647.3 747.4,1650.2 C741.8,1653.2 729.2,1653.9 721.6,1654.2 C714.0,1654.5 706.7,1653.9 701.8,1652.2 C696.8,1650.6 692.8,1648.9 691.8,1644.3Z" fill="#0066FF" />
<path d="M607.4,1587.7 C608.5,1586.8 613.3,1585.5 614.4,1586.3 C615.5,1587.1 615.0,1591.4 614.0,1592.2 C612.9,1593.1 609.1,1592.4 608.0,1591.7 C606.9,1590.9 606.4,1588.6 607.4,1587.7Z" fill="#0000FF" />
<path d="M654.1,1537.0 C656.7,1528.8 666.0,1518.8 673.9,1511.2 C681.9,1503.6 692.2,1498.0 701.8,1491.4 C711.4,1484.7 722.6,1478.1 731.5,1471.5 C740.5,1464.9 749.8,1453.3 755.4,1451.6 C761.0,1450.0 766.3,1456.6 765.3,1461.6 C764.3,1466.5 754.7,1474.8 749.4,1481.4 C744.1,1488.0 738.8,1494.0 733.5,1501.3 C728.2,1508.6 721.9,1515.8 717.6,1525.1 C713.3,1534.4 711.0,1548.3 707.7,1556.9 C704.4,1565.5 703.4,1573.4 697.8,1576.8 C692.2,1580.1 680.6,1579.4 673.9,1576.8 C667.3,1574.1 661.4,1567.5 658.1,1560.9 C654.7,1554.2 651.4,1545.3 654.1,1537.0Z" fill="#00FF88" />
<path d="M662.0,1537.0 C665.3,1531.1 674.6,1525.1 681.9,1521.1 C689.2,1517.2 699.8,1512.5 705.7,1513.2 C711.7,1513.9 718.3,1519.2 717.6,1525.1 C717.0,1531.1 705.7,1541.0 701.8,1548.9 C697.8,1556.9 698.4,1568.8 693.8,1572.8 C689.2,1576.8 679.2,1575.4 673.9,1572.8 C668.7,1570.1 664.0,1562.9 662.0,1556.9 C660.0,1550.9 658.7,1543.0 662.0,1537.0Z" fill="#00FF28" />
<path d="M662.0,1545.0 L675.9,1541.0 L676.9,1525.1 L683.9,1541.0 L701.8,1543.0 L687.9,1552.9 L693.8,1566.8 L679.9,1558.9 L670.0,1568.8 L673.9,1554.9Z" fill="#66FF00" />
<path d="M673.9,1537.0 C675.3,1535.0 679.6,1538.0 681.9,1541.0 C684.2,1544.0 687.9,1551.3 687.9,1554.9 C687.9,1558.5 684.2,1563.2 681.9,1562.9 C679.6,1562.5 675.3,1557.2 673.9,1552.9 C672.6,1548.6 672.6,1539.0 673.9,1537.0Z" fill="#CCFF00" />
<path d="M677.9,1552.9 C678.9,1552.4 682.4,1553.7 682.9,1554.9 C683.4,1556.1 681.9,1559.4 680.9,1559.9 C679.9,1560.4 677.4,1559.0 676.9,1557.9 C676.4,1556.7 676.9,1553.4 677.9,1552.9Z" fill="#FFCC00" />
<path d="M648.1,1673.1 C648.0,1674.3 650.8,1675.3 654.9,1675.6 C659.1,1675.9 661.9,1675.3 662.0,1674.1 C662.1,1672.9 659.4,1671.9 655.2,1671.6 C651.1,1671.3 648.2,1671.9 648.1,1673.1Z" fill="#CCFF00" />
<path d="M739.5,1695.9 C739.9,1696.9 742.9,1696.6 747.0,1695.1 C751.2,1693.6 753.8,1692.0 753.4,1691.0 C753.0,1690.0 750.0,1690.3 745.8,1691.8 C741.7,1693.2 739.1,1694.9 739.5,1695.9Z" fill="#FF6600" />
<path d="M766.3,1423.8 L753.4,1449.6 L759.4,1461.6 L737.5,1479.4 L738.5,1489.4 L721.6,1517.2 L691.8,1543.0" fill="none" stroke="#222" stroke-width="2.0" stroke-linejoin="round" stroke-linecap="round" />
<path d="M766.3,1423.8 L753.4,1449.6" fill="none" stroke="#999" stroke-width="2.0" stroke-linejoin="round" stroke-linecap="round" />
<path d="M654.1,1682.0 L649.1,1710.8" fill="none" stroke="#222" stroke-width="2.0" stroke-linejoin="round" stroke-linecap="round" />
<rect x="526.1" y="1399.4" width="310.6" height="311.2" fill="url(#dots)"/>
</g>
<ellipse cx="681.4" cy="1555.0" rx="155.3" ry="155.6" fill="none" stroke="#3a3a3a" stroke-width="1.5"/>
<clipPath id="c7"><ellipse cx="1061.2" cy="1555.9" rx="152.6" ry="152.9"/></clipPath>
<g clip-path="url(#c7)">
<ellipse cx="1061.2" cy="1555.9" rx="154.6" ry="154.9" fill="#00B8FF"/>
<path d="M1211,1556L1212,1561L1212,1566L1213,1570L1212,1575L1209,1579L1205,1584L1203,1588L1203,1592L1202,1597L1201,1602L1200,1606L1198,1610L1198,1615L1197,1620L1195,1624L1191,1628L1188,1631L1186,1635L1184,1639L1180,1643L1176,1645L1173,1649L1172,1654L1170,1659L1167,1662L1162,1664L1157,1664L1153,1667L1151,1672L1149,1677L1145,1680L1140,1681L1135,1681L1131,1684L1128,1688L1125,1692L1121,1694L1116,1695L1111,1696L1107,1699L1103,1702L1099,1703L1094,1704L1089,1704L1085,1705L1080,1706L1075,1706L1070,1705L1066,1703L1061,1702L1056,1703L1052,1703L1047,1702L1043,1700L1038,1699L1034,1700L1028,1701L1023,1702L1019,1701L1015,1698L1011,1695L1006,1694L1001,1694L997,1692L993,1690L989,1687L985,1684L981,1682L977,1680L974,1676L971,1672L968,1669L964,1666L959,1665L954,1663L950,1660L948,1655L947,1650L946,1646L943,1642L939,1639L935,1636L932,1632L930,1628L929,1623L928,1619L925,1615L922,1611L920,1607L920,1602L921,1597L920,1592L917,1588L914,1584L912,1580L914,1575L916,1570L918,1565L917,1561L914,1556L912,1551L911,1547L911,1542L911,1537L910,1532L911,1527L915,1523L919,1520L923,1516L924,1511L923,1506L922,1501L922,1496L925,1492L928,1488L930,1484L931,1479L933,1475L936,1471L941,1469L946,1467L949,1464L951,1459L953,1454L955,1450L958,1446L961,1443L965,1440L969,1437L972,1434L977,1432L982,1431L986,1429L990,1427L993,1423L997,1420L1001,1418L1006,1417L1011,1418L1016,1417L1020,1415L1024,1412L1028,1409L1033,1408L1038,1409L1043,1412L1048,1415L1052,1415L1056,1409L1061,1403L1066,1400L1071,1402L1075,1408L1079,1412L1084,1413L1089,1411L1093,1411L1098,1413L1102,1415L1106,1417L1111,1417L1116,1418L1120,1421L1123,1423L1128,1424L1134,1424L1139,1425L1142,1428L1145,1433L1148,1436L1153,1437L1158,1438L1162,1442L1163,1448L1163,1454L1165,1458L1169,1460L1174,1462L1178,1465L1181,1469L1184,1472L1187,1476L1190,1479L1192,1484L1192,1489L1193,1494L1196,1498L1199,1502L1200,1506L1201,1510L1202,1515L1205,1519L1208,1523L1210,1528L1210,1532L1209,1537L1209,1542L1210,1547L1211,1551Z" fill="#00FFE6"/>
<path d="M1198,1556L1197,1560L1198,1565L1201,1569L1203,1574L1205,1579L1207,1584L1206,1588L1201,1592L1191,1594L1182,1595L1179,1598L1183,1604L1190,1612L1195,1619L1192,1623L1182,1623L1169,1620L1160,1619L1157,1622L1162,1629L1167,1638L1167,1644L1163,1646L1157,1646L1155,1650L1156,1657L1154,1661L1146,1659L1136,1653L1130,1651L1130,1658L1134,1671L1134,1680L1129,1680L1121,1674L1116,1672L1113,1677L1112,1685L1109,1688L1103,1686L1098,1685L1095,1689L1092,1697L1089,1703L1084,1703L1079,1697L1074,1689L1069,1683L1065,1683L1061,1687L1057,1695L1052,1701L1048,1699L1044,1688L1042,1677L1039,1674L1033,1681L1026,1691L1021,1692L1020,1684L1019,1674L1014,1674L1005,1685L995,1696L990,1695L993,1681L997,1664L998,1656L992,1657L984,1661L979,1661L977,1657L974,1655L967,1656L958,1659L954,1656L957,1647L963,1637L964,1631L956,1633L944,1635L938,1634L939,1628L943,1621L942,1617L934,1616L925,1615L926,1610L935,1601L945,1594L946,1589L937,1588L926,1586L921,1583L925,1578L929,1573L928,1569L922,1565L920,1560L925,1556L933,1552L937,1548L935,1544L931,1540L929,1535L929,1531L930,1527L930,1522L933,1519L938,1516L945,1514L947,1511L945,1506L941,1499L940,1494L944,1492L947,1489L947,1484L944,1476L942,1469L943,1464L947,1462L952,1460L957,1459L963,1458L969,1458L974,1457L976,1454L977,1448L979,1443L981,1439L985,1436L989,1434L994,1433L1000,1436L1006,1439L1010,1439L1013,1434L1014,1426L1017,1421L1022,1423L1028,1427L1032,1426L1035,1418L1038,1411L1043,1412L1048,1420L1053,1426L1057,1425L1061,1420L1065,1418L1069,1422L1073,1428L1077,1427L1082,1421L1088,1416L1092,1419L1094,1427L1096,1435L1099,1438L1103,1441L1105,1444L1108,1447L1112,1447L1120,1441L1128,1434L1135,1432L1138,1435L1138,1443L1137,1451L1138,1457L1140,1460L1145,1461L1152,1459L1159,1458L1164,1459L1165,1464L1165,1470L1166,1474L1171,1476L1175,1478L1177,1483L1175,1489L1175,1494L1179,1496L1187,1497L1194,1499L1198,1502L1202,1505L1206,1509L1207,1513L1201,1520L1187,1528L1174,1535L1170,1539L1178,1541L1191,1544L1200,1547L1201,1552Z" fill="#00FF88"/>
<path d="M1170,1556L1170,1559L1172,1563L1176,1567L1175,1570L1165,1573L1154,1574L1149,1576L1154,1580L1164,1586L1168,1591L1164,1593L1154,1593L1148,1594L1148,1597L1152,1603L1157,1609L1159,1614L1159,1618L1158,1622L1156,1625L1155,1629L1155,1634L1156,1640L1156,1645L1152,1647L1145,1645L1138,1643L1133,1643L1131,1646L1127,1647L1120,1643L1110,1634L1104,1628L1104,1633L1108,1647L1110,1660L1107,1663L1101,1657L1096,1652L1094,1657L1094,1669L1093,1679L1089,1682L1084,1677L1079,1671L1075,1669L1072,1667L1068,1663L1064,1659L1061,1658L1058,1663L1054,1668L1050,1667L1048,1660L1045,1655L1042,1658L1036,1668L1030,1677L1025,1680L1022,1677L1019,1674L1016,1670L1015,1662L1018,1648L1021,1634L1022,1628L1016,1632L1007,1641L1001,1644L1000,1640L999,1636L994,1637L984,1643L974,1648L968,1649L963,1648L959,1646L953,1645L952,1640L958,1631L967,1620L972,1612L971,1609L967,1608L967,1604L971,1598L973,1594L967,1593L954,1594L944,1594L940,1591L942,1587L942,1583L941,1579L942,1575L946,1571L951,1566L953,1563L952,1559L953,1556L956,1553L961,1550L962,1547L960,1543L960,1540L965,1538L970,1536L969,1532L961,1527L954,1521L955,1518L964,1517L969,1516L963,1510L949,1499L940,1490L944,1487L958,1491L974,1497L984,1500L987,1499L988,1496L989,1493L990,1489L988,1483L986,1476L985,1470L987,1466L989,1464L993,1462L997,1462L1001,1462L1004,1460L1006,1455L1007,1450L1010,1447L1014,1448L1019,1450L1023,1450L1026,1449L1030,1450L1035,1455L1039,1459L1042,1459L1044,1451L1047,1444L1050,1442L1054,1444L1057,1445L1061,1440L1065,1435L1069,1437L1071,1446L1074,1456L1076,1460L1080,1456L1084,1453L1087,1455L1089,1459L1092,1459L1098,1453L1105,1444L1111,1439L1115,1441L1118,1444L1122,1446L1125,1447L1127,1452L1127,1458L1128,1464L1131,1466L1135,1466L1137,1470L1133,1479L1129,1488L1129,1492L1137,1489L1148,1484L1157,1482L1160,1484L1159,1490L1157,1495L1158,1499L1163,1500L1169,1501L1174,1503L1175,1507L1172,1512L1168,1517L1170,1521L1178,1522L1185,1524L1184,1529L1171,1535L1154,1541L1145,1545L1148,1548L1159,1550L1167,1553Z" fill="#00FF28"/>
<path d="M978.5,1576.8 C980.5,1573.4 991.1,1570.8 994.4,1572.8 C997.7,1574.8 1000.3,1585.4 998.3,1588.7 C996.4,1592.0 985.8,1594.6 982.4,1592.6 C979.1,1590.7 976.5,1580.1 978.5,1576.8Z" fill="#00FF88" />
<path d="M1131.4,1537.0 C1133.7,1534.4 1144.3,1533.1 1147.3,1535.0 C1150.3,1537.0 1151.6,1546.3 1149.3,1548.9 C1147.0,1551.6 1136.4,1552.9 1133.4,1550.9 C1130.4,1548.9 1129.1,1539.7 1131.4,1537.0Z" fill="#00FF88" />
<path d="M1042.0,1626.4 C1043.7,1623.4 1051.6,1622.1 1053.9,1624.4 C1056.3,1626.7 1057.6,1637.3 1055.9,1640.3 C1054.3,1643.3 1046.3,1644.6 1044.0,1642.3 C1041.7,1640.0 1040.4,1629.4 1042.0,1626.4Z" fill="#00FF88" />
<path d="M1081.8,1457.6 C1083.4,1454.9 1091.4,1453.6 1093.7,1455.6 C1096.0,1457.6 1097.3,1466.9 1095.7,1469.5 C1094.0,1472.2 1086.1,1473.5 1083.7,1471.5 C1081.4,1469.5 1080.1,1460.2 1081.8,1457.6Z" fill="#00FF88" />
<path d="M986.4,1509.2 C987.7,1503.9 1001.6,1492.0 1006.3,1493.3 C1010.9,1494.7 1015.5,1511.9 1014.2,1517.2 C1012.9,1522.5 1003.0,1526.4 998.3,1525.1 C993.7,1523.8 985.1,1514.5 986.4,1509.2Z" fill="#00FF28" />
<path d="M1131.4,1481.4 C1134.4,1476.8 1143.7,1470.2 1145.3,1473.5 C1147.0,1476.8 1144.3,1496.6 1141.3,1501.3 C1138.4,1505.9 1129.1,1504.6 1127.4,1501.3 C1125.8,1498.0 1128.4,1486.1 1131.4,1481.4Z" fill="#00FF28" />
<path d="M1121.5,1626.4 C1125.5,1625.7 1136.7,1631.4 1137.4,1636.3 C1138.0,1641.3 1129.4,1655.5 1125.5,1656.2 C1121.5,1656.9 1114.2,1645.3 1113.5,1640.3 C1112.9,1635.3 1117.5,1627.1 1121.5,1626.4Z" fill="#00FF28" />
<path d="M992.4,1550.9 C993.7,1547.6 1005.9,1546.0 1014.2,1545.0 C1022.5,1544.0 1033.4,1545.6 1042.0,1545.0 C1050.6,1544.3 1058.3,1541.7 1065.9,1541.0 C1073.5,1540.3 1084.4,1539.7 1087.7,1541.0 C1091.0,1542.3 1088.4,1546.3 1085.7,1548.9 C1083.1,1551.6 1072.5,1552.3 1071.8,1556.9 C1071.2,1561.5 1081.4,1571.8 1081.8,1576.8 C1082.1,1581.7 1077.1,1585.4 1073.8,1586.7 C1070.5,1588.0 1065.2,1587.0 1061.9,1584.7 C1058.6,1582.4 1058.9,1575.1 1053.9,1572.8 C1049.0,1570.5 1040.0,1572.1 1032.1,1570.8 C1024.2,1569.5 1012.9,1568.1 1006.3,1564.8 C999.7,1561.5 991.1,1554.2 992.4,1550.9Z" fill="#66FF00" />
<path d="M1002.3,1513.2 C1005.0,1511.2 1018.2,1509.9 1022.2,1511.2 C1026.1,1512.5 1028.8,1519.2 1026.1,1521.1 C1023.5,1523.1 1010.3,1524.5 1006.3,1523.1 C1002.3,1521.8 999.7,1515.2 1002.3,1513.2Z" fill="#66FF00" />
<path d="M1040.0,1497.3 C1039.7,1492.0 1045.0,1490.7 1048.0,1495.3 C1051.0,1500.0 1057.6,1519.8 1057.9,1525.1 C1058.3,1530.4 1053.0,1531.7 1050.0,1527.1 C1047.0,1522.5 1040.4,1502.6 1040.0,1497.3Z" fill="#66FF00" />
<path d="M1073.8,1588.7 C1074.1,1584.7 1079.1,1585.4 1081.8,1588.7 C1084.4,1592.0 1090.0,1604.6 1089.7,1608.5 C1089.4,1612.5 1082.4,1615.8 1079.8,1612.5 C1077.1,1609.2 1073.5,1592.6 1073.8,1588.7Z" fill="#66FF00" />
<path d="M1050.0,1558.9 C1051.5,1557.6 1057.9,1556.1 1059.9,1556.9 C1061.9,1557.7 1063.4,1562.6 1061.9,1563.8 C1060.4,1565.1 1053.0,1565.3 1051.0,1564.4 C1049.0,1563.6 1048.5,1560.1 1050.0,1558.9Z" fill="#CCFF00" />
<path d="M1081.8,1581.7 L1095.7,1591.7" fill="none" stroke="#CCFF00" stroke-width="2.8" stroke-linejoin="round" stroke-linecap="round" />
<path d="M1065.9,1548.9 L1069.8,1543.0" fill="none" stroke="#FF6600" stroke-width="2.0" stroke-linejoin="round" stroke-linecap="round" />
<path d="M1121.5,1525.1 L1127.4,1517.2" fill="none" stroke="#CCFF00" stroke-width="2.0" stroke-linejoin="round" stroke-linecap="round" />
<path d="M1097.6,1600.6 L1101.6,1616.5" fill="none" stroke="#CCFF00" stroke-width="2.0" stroke-linejoin="round" stroke-linecap="round" />
<path d="M914.0,1529.0 L924.4,1535.8" stroke="#0066FF" stroke-width="1.6" stroke-linecap="round" opacity="1.0"/>
<path d="M1168.5,1457.8 L1159.3,1467.6" stroke="#0066FF" stroke-width="1.6" stroke-linecap="round" opacity="1.0"/>
<path d="M1012.3,1688.0 L1012.4,1678.5" stroke="#0066FF" stroke-width="1.6" stroke-linecap="round" opacity="1.0"/>
<path d="M1038.3,1704.2 L1042.9,1693.3" stroke="#0066FF" stroke-width="1.6" stroke-linecap="round" opacity="1.0"/>
<path d="M1181.0,1628.4 L1175.0,1624.3" stroke="#0066FF" stroke-width="1.6" stroke-linecap="round" opacity="1.0"/>
<path d="M1142.2,1425.9 L1134.2,1436.6" stroke="#0066FF" stroke-width="1.6" stroke-linecap="round" opacity="1.0"/>
<path d="M966.8,1446.8 L973.3,1450.9" stroke="#0066FF" stroke-width="1.6" stroke-linecap="round" opacity="1.0"/>
<path d="M914.8,1523.0 L924.8,1524.2" stroke="#0066FF" stroke-width="1.6" stroke-linecap="round" opacity="1.0"/>
<path d="M933.6,1622.0 L944.9,1617.3" stroke="#0066FF" stroke-width="1.6" stroke-linecap="round" opacity="1.0"/>
<path d="M1059.7,1402.5 L1062.6,1409.4" stroke="#0066FF" stroke-width="1.6" stroke-linecap="round" opacity="1.0"/>
<path d="M1029.1,1707.9 L1030.5,1696.0" stroke="#0066FF" stroke-width="1.6" stroke-linecap="round" opacity="1.0"/>
<path d="M1085.1,1412.9 L1088.2,1425.2" stroke="#0066FF" stroke-width="1.6" stroke-linecap="round" opacity="1.0"/>
<path d="M1052.1,1399.7 L1052.9,1408.4" stroke="#0066FF" stroke-width="1.6" stroke-linecap="round" opacity="1.0"/>
<path d="M1159.0,1661.5 L1153.2,1657.4" stroke="#0066FF" stroke-width="1.6" stroke-linecap="round" opacity="1.0"/>
<path d="M1192.2,1616.2 L1186.9,1613.6" stroke="#0066FF" stroke-width="1.6" stroke-linecap="round" opacity="1.0"/>
<path d="M941.9,1635.4 L951.5,1626.0" stroke="#0066FF" stroke-width="1.6" stroke-linecap="round" opacity="1.0"/>
<path d="M909.0,1525.5 L918.3,1532.8" stroke="#0066FF" stroke-width="1.6" stroke-linecap="round" opacity="1.0"/>
<path d="M941.5,1457.9 L944.9,1462.3" stroke="#0066FF" stroke-width="1.6" stroke-linecap="round" opacity="1.0"/>
<path d="M986.4,1680.1 L994.8,1671.7" stroke="#0066FF" stroke-width="1.6" stroke-linecap="round" opacity="1.0"/>
<path d="M981.6,1677.9 L987.9,1674.0" stroke="#0066FF" stroke-width="1.6" stroke-linecap="round" opacity="1.0"/>
<path d="M953.1,1461.2 L962.4,1463.8" stroke="#0066FF" stroke-width="1.6" stroke-linecap="round" opacity="1.0"/>
<path d="M1042.8,1702.9 L1049.2,1690.8" stroke="#0066FF" stroke-width="1.6" stroke-linecap="round" opacity="1.0"/>
<path d="M915.1,1511.1 L921.4,1514.5" stroke="#0066FF" stroke-width="1.6" stroke-linecap="round" opacity="1.0"/>
<path d="M1202.7,1552.6 L1190.8,1546.7" stroke="#0066FF" stroke-width="1.6" stroke-linecap="round" opacity="1.0"/>
<path d="M957.3,1669.3 L962.5,1656.5" stroke="#0066FF" stroke-width="1.6" stroke-linecap="round" opacity="1.0"/>
<path d="M915.0,1588.8 L925.8,1583.5" stroke="#0066FF" stroke-width="1.6" stroke-linecap="round" opacity="1.0"/>
<path d="M1062.7,1404.4 L1059.7,1416.6" stroke="#0066FF" stroke-width="1.6" stroke-linecap="round" opacity="1.0"/>
<path d="M1157.2,1441.1 L1151.2,1448.9" stroke="#0066FF" stroke-width="1.6" stroke-linecap="round" opacity="1.0"/>
<path d="M914.2,1509.6 L923.3,1516.9" stroke="#0000FF" stroke-width="1.2" stroke-linecap="round" opacity="1.0"/>
<path d="M1026.0,1708.5 L1030.6,1699.6" stroke="#0000FF" stroke-width="1.2" stroke-linecap="round" opacity="1.0"/>
<path d="M1065.8,1400.0 L1066.6,1407.4" stroke="#0000FF" stroke-width="1.2" stroke-linecap="round" opacity="1.0"/>
<path d="M1030.0,1407.2 L1033.9,1418.2" stroke="#0000FF" stroke-width="1.2" stroke-linecap="round" opacity="1.0"/>
<path d="M1200.4,1515.7 L1189.9,1520.2" stroke="#0000FF" stroke-width="1.2" stroke-linecap="round" opacity="1.0"/>
<path d="M1212.1,1580.1 L1206.7,1580.7" stroke="#0000FF" stroke-width="1.2" stroke-linecap="round" opacity="1.0"/>
<path d="M994.3,1686.9 L994.6,1680.4" stroke="#0000FF" stroke-width="1.2" stroke-linecap="round" opacity="1.0"/>
<path d="M1143.9,1435.8 L1142.7,1442.1" stroke="#0000FF" stroke-width="1.2" stroke-linecap="round" opacity="1.0"/>
<path d="M1055.9,1409.9 L1059.9,1405.9" fill="none" stroke="#FF6600" stroke-width="3.2" stroke-linejoin="round" stroke-linecap="round" />
<path d="M1119.5,1690.0 L1123.5,1695.9" fill="none" stroke="#FF6600" stroke-width="3.2" stroke-linejoin="round" stroke-linecap="round" />
<rect x="908.6" y="1403.0" width="305.2" height="305.8" fill="url(#dots)"/>
</g>
<ellipse cx="1061.2" cy="1555.9" rx="152.6" ry="152.9" fill="none" stroke="#3a3a3a" stroke-width="1.5"/>
<clipPath id="c8"><ellipse cx="1437.4" cy="1552.9" rx="152.4" ry="152.2"/></clipPath>
<g clip-path="url(#c8)">
<ellipse cx="1437.4" cy="1552.9" rx="154.4" ry="154.2" fill="#00FFE6"/>
<path d="M1333.1,1648.3 L1339.2,1646.2" stroke="#00B8FF" stroke-width="2.0" stroke-linecap="round" opacity="1.0"/>
<path d="M1304.0,1481.1 L1313.2,1484.7" stroke="#00B8FF" stroke-width="2.0" stroke-linecap="round" opacity="1.0"/>
<path d="M1419.9,1404.5 L1419.3,1416.4" stroke="#00B8FF" stroke-width="2.0" stroke-linecap="round" opacity="1.0"/>
<path d="M1514.6,1428.6 L1513.2,1434.8" stroke="#00B8FF" stroke-width="2.0" stroke-linecap="round" opacity="1.0"/>
<path d="M1413.4,1413.6 L1414.0,1424.4" stroke="#00B8FF" stroke-width="2.0" stroke-linecap="round" opacity="1.0"/>
<path d="M1579.1,1607.7 L1575.2,1604.2" stroke="#00B8FF" stroke-width="2.0" stroke-linecap="round" opacity="1.0"/>
<path d="M1513.5,1433.2 L1505.3,1441.1" stroke="#00B8FF" stroke-width="2.0" stroke-linecap="round" opacity="1.0"/>
<path d="M1543.3,1658.3 L1541.1,1652.7" stroke="#00B8FF" stroke-width="2.0" stroke-linecap="round" opacity="1.0"/>
<path d="M1378.3,1406.9 L1381.3,1411.5" stroke="#00B8FF" stroke-width="2.0" stroke-linecap="round" opacity="1.0"/>
<path d="M1328.2,1450.0 L1331.0,1456.0" stroke="#00B8FF" stroke-width="2.0" stroke-linecap="round" opacity="1.0"/>
<path d="M1518.5,1434.5 L1514.1,1439.0" stroke="#00B8FF" stroke-width="2.0" stroke-linecap="round" opacity="1.0"/>
<path d="M1311.6,1634.7 L1318.8,1628.8" stroke="#00B8FF" stroke-width="2.0" stroke-linecap="round" opacity="1.0"/>
<path d="M1575.4,1571.0 L1567.0,1567.7" stroke="#00B8FF" stroke-width="2.0" stroke-linecap="round" opacity="1.0"/>
<path d="M1301.4,1620.4 L1311.2,1619.5" stroke="#00B8FF" stroke-width="2.0" stroke-linecap="round" opacity="1.0"/>
<path d="M1356.5,1433.3 L1361.8,1436.5" stroke="#00B8FF" stroke-width="2.0" stroke-linecap="round" opacity="1.0"/>
<path d="M1586.4,1590.0 L1575.2,1583.8" stroke="#00B8FF" stroke-width="2.0" stroke-linecap="round" opacity="1.0"/>
<path d="M1553.1,1647.2 L1550.2,1641.9" stroke="#00B8FF" stroke-width="2.0" stroke-linecap="round" opacity="1.0"/>
<path d="M1351.9,1426.1 L1358.5,1434.2" stroke="#00B8FF" stroke-width="2.0" stroke-linecap="round" opacity="1.0"/>
<path d="M1527.5,1424.8 L1523.7,1430.8" stroke="#00B8FF" stroke-width="2.0" stroke-linecap="round" opacity="1.0"/>
<path d="M1421.3,1402.3 L1422.7,1410.8" stroke="#00B8FF" stroke-width="2.0" stroke-linecap="round" opacity="1.0"/>
<path d="M1576.6,1523.2 L1569.7,1523.3" stroke="#00B8FF" stroke-width="2.0" stroke-linecap="round" opacity="1.0"/>
<path d="M1410.9,1704.7 L1415.3,1698.1" stroke="#00B8FF" stroke-width="2.0" stroke-linecap="round" opacity="1.0"/>
<path d="M1324.4,1658.0 L1334.5,1652.1" stroke="#00B8FF" stroke-width="2.0" stroke-linecap="round" opacity="1.0"/>
<path d="M1468.2,1688.8 L1465.5,1684.3" stroke="#00B8FF" stroke-width="2.0" stroke-linecap="round" opacity="1.0"/>
<path d="M1367.8,1432.3 L1370.9,1438.6" stroke="#00B8FF" stroke-width="2.0" stroke-linecap="round" opacity="1.0"/>
<path d="M1517.6,1670.8 L1514.7,1664.4" stroke="#00B8FF" stroke-width="2.0" stroke-linecap="round" opacity="1.0"/>
<path d="M1552.3,1658.3 L1546.4,1649.9" stroke="#00B8FF" stroke-width="2.0" stroke-linecap="round" opacity="1.0"/>
<path d="M1298.0,1504.4 L1308.2,1513.4" stroke="#00B8FF" stroke-width="2.0" stroke-linecap="round" opacity="1.0"/>
<path d="M1497.1,1428.2 L1489.1,1434.6" stroke="#00B8FF" stroke-width="2.0" stroke-linecap="round" opacity="1.0"/>
<path d="M1341.9,1439.6 L1351.2,1445.2" stroke="#00B8FF" stroke-width="2.0" stroke-linecap="round" opacity="1.0"/>
<path d="M1415.7,1400.9 L1416.4,1406.4" stroke="#00B8FF" stroke-width="2.0" stroke-linecap="round" opacity="1.0"/>
<path d="M1318.0,1470.9 L1323.8,1480.3" stroke="#00B8FF" stroke-width="2.0" stroke-linecap="round" opacity="1.0"/>
<path d="M1556.0,1472.4 L1549.9,1473.9" stroke="#00B8FF" stroke-width="2.0" stroke-linecap="round" opacity="1.0"/>
<path d="M1319.9,1452.7 L1331.2,1458.6" stroke="#00B8FF" stroke-width="2.0" stroke-linecap="round" opacity="1.0"/>
<path d="M1315.0,1477.3 L1323.9,1485.5" stroke="#00B8FF" stroke-width="2.0" stroke-linecap="round" opacity="1.0"/>
<path d="M1447.1,1698.6 L1443.7,1688.9" stroke="#00B8FF" stroke-width="2.0" stroke-linecap="round" opacity="1.0"/>
<path d="M1497.3,1685.5 L1494.9,1680.4" stroke="#00B8FF" stroke-width="2.0" stroke-linecap="round" opacity="1.0"/>
<path d="M1579.7,1495.5 L1574.2,1495.8" stroke="#00B8FF" stroke-width="2.0" stroke-linecap="round" opacity="1.0"/>
<path d="M1405.4,1404.2 L1405.1,1409.4" stroke="#00B8FF" stroke-width="2.0" stroke-linecap="round" opacity="1.0"/>
<path d="M1488.4,1696.1 L1484.8,1689.1" stroke="#00B8FF" stroke-width="2.0" stroke-linecap="round" opacity="1.0"/>
<path d="M1345.2,1441.9 L1351.4,1446.1" stroke="#0066FF" stroke-width="1.2" stroke-linecap="round" opacity="1.0"/>
<path d="M1424.1,1400.1 L1430.2,1411.5" stroke="#0066FF" stroke-width="1.2" stroke-linecap="round" opacity="1.0"/>
<path d="M1310.5,1619.6 L1316.6,1616.3" stroke="#0066FF" stroke-width="1.2" stroke-linecap="round" opacity="1.0"/>
<path d="M1580.7,1576.2 L1570.2,1573.9" stroke="#0066FF" stroke-width="1.2" stroke-linecap="round" opacity="1.0"/>
<path d="M1464.9,1700.6 L1457.3,1691.1" stroke="#0066FF" stroke-width="1.2" stroke-linecap="round" opacity="1.0"/>
<path d="M1489.5,1408.6 L1489.4,1416.6" stroke="#0066FF" stroke-width="1.2" stroke-linecap="round" opacity="1.0"/>
<path d="M1579.4,1512.8 L1574.8,1516.4" stroke="#0066FF" stroke-width="1.2" stroke-linecap="round" opacity="1.0"/>
<path d="M1524.1,1428.1 L1515.0,1436.2" stroke="#0066FF" stroke-width="1.2" stroke-linecap="round" opacity="1.0"/>
<path d="M1284.5,1516.7 L1292.5,1519.0" stroke="#0066FF" stroke-width="1.2" stroke-linecap="round" opacity="1.0"/>
<path d="M1509.5,1418.9 L1502.6,1429.5" stroke="#0066FF" stroke-width="1.2" stroke-linecap="round" opacity="1.0"/>
<path d="M1396.6,1414.2 L1399.9,1420.3" stroke="#0066FF" stroke-width="1.2" stroke-linecap="round" opacity="1.0"/>
<path d="M1565.2,1622.3 L1559.6,1620.7" stroke="#0066FF" stroke-width="1.2" stroke-linecap="round" opacity="1.0"/>
<path d="M1339.6,1440.5 L1346.6,1444.9" stroke="#0066FF" stroke-width="1.2" stroke-linecap="round" opacity="1.0"/>
<path d="M1420.4,1707.1 L1422.7,1696.6" stroke="#0066FF" stroke-width="1.2" stroke-linecap="round" opacity="1.0"/>
<path d="M1573,1552L1580,1557L1580,1561L1573,1565L1569,1569L1570,1573L1573,1578L1571,1582L1565,1585L1560,1588L1560,1592L1565,1598L1569,1604L1570,1609L1569,1614L1567,1618L1564,1622L1556,1623L1547,1622L1540,1622L1539,1626L1545,1636L1550,1645L1550,1652L1545,1653L1539,1654L1535,1656L1532,1660L1528,1662L1522,1661L1515,1660L1511,1660L1508,1665L1507,1671L1505,1676L1502,1680L1497,1680L1492,1678L1486,1676L1482,1677L1479,1681L1476,1687L1473,1690L1468,1689L1462,1686L1458,1683L1454,1684L1450,1687L1446,1689L1441,1688L1437,1687L1433,1685L1429,1684L1424,1685L1420,1687L1415,1690L1411,1691L1407,1686L1405,1677L1403,1668L1400,1665L1395,1668L1388,1675L1381,1680L1375,1683L1370,1683L1366,1682L1363,1678L1362,1670L1362,1662L1361,1657L1356,1656L1349,1659L1343,1658L1341,1654L1341,1648L1339,1644L1334,1643L1328,1643L1324,1640L1323,1635L1324,1629L1324,1624L1323,1619L1321,1616L1315,1614L1306,1613L1299,1612L1298,1607L1304,1600L1313,1592L1317,1587L1314,1584L1308,1581L1305,1577L1306,1573L1305,1569L1301,1565L1296,1561L1296,1556L1304,1552L1313,1548L1317,1544L1312,1540L1304,1535L1297,1530L1295,1525L1295,1520L1297,1516L1301,1513L1307,1510L1311,1507L1312,1502L1308,1496L1306,1490L1307,1486L1312,1483L1317,1481L1320,1478L1323,1474L1327,1472L1333,1471L1338,1470L1339,1466L1339,1460L1339,1454L1340,1449L1342,1444L1343,1439L1346,1435L1352,1435L1360,1438L1366,1441L1370,1439L1373,1436L1376,1432L1379,1429L1382,1426L1385,1420L1387,1414L1391,1411L1397,1413L1403,1419L1408,1421L1412,1419L1415,1414L1419,1411L1424,1411L1428,1411L1433,1410L1437,1410L1441,1412L1445,1418L1449,1424L1453,1429L1456,1430L1460,1430L1465,1428L1470,1424L1476,1418L1481,1415L1485,1418L1487,1426L1488,1434L1491,1437L1497,1434L1504,1430L1509,1430L1513,1433L1516,1436L1519,1439L1524,1440L1527,1444L1527,1450L1526,1458L1527,1462L1531,1464L1539,1462L1545,1462L1548,1466L1548,1471L1548,1476L1551,1480L1554,1483L1556,1486L1554,1492L1551,1498L1552,1502L1560,1503L1571,1504L1576,1507L1575,1512L1571,1518L1572,1522L1579,1525L1585,1529L1582,1534L1572,1539L1563,1544L1564,1548Z" fill="#00FF88"/>
<path d="M1553,1552L1556,1556L1559,1560L1563,1564L1567,1568L1569,1573L1568,1577L1562,1580L1553,1582L1546,1584L1540,1586L1538,1588L1536,1591L1536,1595L1538,1600L1541,1605L1541,1609L1538,1612L1533,1613L1531,1616L1533,1622L1537,1630L1537,1635L1530,1634L1519,1629L1511,1626L1508,1627L1507,1631L1505,1634L1502,1636L1501,1639L1500,1645L1501,1653L1501,1660L1499,1665L1496,1669L1493,1672L1489,1671L1482,1666L1476,1659L1471,1655L1467,1657L1465,1659L1461,1658L1457,1654L1453,1654L1451,1662L1449,1674L1445,1684L1441,1683L1437,1675L1433,1668L1430,1665L1426,1664L1423,1661L1420,1657L1417,1656L1413,1658L1409,1659L1406,1657L1404,1654L1400,1655L1394,1662L1386,1670L1380,1672L1378,1668L1376,1663L1372,1661L1368,1661L1365,1658L1365,1651L1367,1643L1366,1638L1363,1636L1361,1633L1362,1627L1364,1621L1360,1620L1350,1624L1337,1630L1326,1633L1320,1632L1320,1626L1326,1618L1335,1608L1343,1600L1345,1595L1339,1595L1328,1595L1323,1593L1328,1587L1338,1581L1340,1577L1329,1576L1311,1576L1299,1574L1298,1570L1304,1565L1309,1560L1309,1556L1310,1552L1317,1548L1326,1545L1331,1542L1330,1539L1328,1535L1327,1531L1328,1528L1325,1523L1318,1517L1312,1511L1314,1508L1323,1507L1334,1507L1341,1507L1343,1504L1344,1501L1347,1499L1348,1496L1347,1491L1343,1483L1340,1477L1341,1472L1344,1470L1347,1468L1348,1463L1349,1458L1353,1457L1361,1460L1369,1464L1375,1466L1378,1465L1379,1461L1381,1458L1385,1457L1389,1458L1394,1460L1396,1457L1397,1450L1396,1439L1397,1430L1401,1427L1406,1430L1411,1434L1415,1434L1418,1431L1421,1429L1426,1432L1430,1439L1434,1445L1437,1446L1440,1441L1444,1436L1448,1435L1451,1438L1455,1440L1459,1438L1463,1434L1468,1431L1472,1432L1474,1437L1476,1444L1478,1449L1481,1450L1485,1449L1489,1450L1491,1453L1494,1456L1499,1455L1505,1451L1512,1449L1515,1452L1515,1457L1517,1461L1522,1461L1530,1459L1535,1460L1533,1467L1527,1478L1522,1486L1522,1490L1526,1491L1530,1493L1531,1496L1534,1499L1541,1499L1552,1498L1560,1499L1562,1503L1556,1509L1548,1516L1543,1521L1543,1525L1545,1528L1548,1531L1550,1534L1550,1538L1549,1541L1549,1545L1550,1548Z" fill="#00FF28"/>
<path d="M1531,1552L1538,1555L1540,1558L1542,1562L1546,1566L1551,1570L1552,1574L1550,1577L1543,1579L1534,1580L1525,1580L1516,1581L1512,1582L1510,1584L1509,1586L1506,1587L1501,1587L1497,1587L1495,1588L1495,1591L1497,1596L1501,1601L1506,1609L1510,1616L1512,1622L1510,1625L1505,1624L1501,1625L1501,1629L1503,1638L1503,1643L1498,1642L1488,1633L1480,1625L1477,1624L1478,1632L1478,1639L1474,1637L1465,1623L1457,1609L1454,1605L1455,1614L1457,1630L1457,1640L1454,1640L1450,1635L1448,1635L1445,1640L1443,1646L1440,1646L1437,1642L1434,1640L1431,1643L1428,1648L1425,1647L1423,1641L1422,1633L1419,1631L1416,1634L1412,1638L1409,1637L1409,1631L1408,1624L1407,1621L1404,1621L1400,1624L1395,1629L1388,1635L1382,1639L1379,1638L1379,1631L1382,1624L1381,1620L1374,1623L1366,1628L1361,1628L1361,1624L1364,1616L1367,1610L1368,1605L1368,1602L1370,1598L1371,1594L1372,1591L1370,1589L1367,1588L1365,1586L1365,1583L1364,1581L1361,1580L1353,1579L1342,1580L1330,1580L1320,1578L1317,1575L1322,1570L1332,1565L1343,1561L1350,1558L1351,1555L1351,1552L1352,1549L1354,1547L1354,1544L1353,1541L1352,1539L1353,1536L1354,1533L1355,1531L1355,1528L1357,1526L1359,1524L1359,1521L1356,1517L1352,1512L1353,1509L1360,1510L1366,1510L1365,1506L1357,1498L1350,1489L1354,1487L1365,1492L1376,1498L1379,1498L1376,1491L1374,1485L1376,1483L1382,1485L1385,1485L1385,1481L1386,1477L1390,1478L1396,1482L1399,1482L1398,1476L1397,1468L1399,1464L1402,1464L1406,1465L1407,1461L1409,1456L1413,1458L1418,1466L1422,1474L1425,1475L1427,1470L1429,1465L1432,1465L1434,1468L1437,1469L1440,1468L1442,1466L1445,1467L1447,1469L1450,1470L1453,1468L1456,1466L1460,1464L1463,1463L1467,1460L1471,1456L1475,1456L1477,1460L1477,1466L1479,1470L1482,1471L1484,1473L1482,1481L1479,1490L1478,1495L1483,1493L1490,1488L1495,1487L1496,1489L1497,1492L1500,1492L1505,1492L1506,1495L1504,1500L1504,1504L1511,1502L1523,1497L1532,1496L1530,1501L1522,1509L1517,1514L1519,1516L1524,1518L1523,1521L1515,1527L1507,1532L1510,1533L1520,1533L1529,1534L1528,1538L1518,1542L1510,1545L1511,1547L1521,1549Z" fill="#66FF00"/>
<path d="M1507.4,1501.3 C1511.4,1497.3 1532.9,1488.7 1537.2,1489.3 C1541.5,1490.0 1537.2,1501.3 1533.2,1505.2 C1529.3,1509.2 1517.7,1513.8 1513.4,1513.2 C1509.1,1512.5 1503.4,1505.2 1507.4,1501.3Z" fill="#66FF00" />
<path d="M1344.5,1541.0 C1347.2,1537.7 1359.1,1531.7 1362.4,1533.0 C1365.7,1534.4 1367.1,1545.6 1364.4,1548.9 C1361.8,1552.2 1349.8,1554.2 1346.5,1552.9 C1343.2,1551.6 1341.9,1544.3 1344.5,1541.0Z" fill="#66FF00" />
<path d="M1414.1,1622.4 C1416.0,1618.4 1427.3,1613.1 1429.9,1616.5 C1432.6,1619.8 1431.9,1638.3 1429.9,1642.3 C1428.0,1646.2 1420.7,1643.6 1418.0,1640.3 C1415.4,1637.0 1412.1,1626.4 1414.1,1622.4Z" fill="#66FF00" />
<path d="M1392.1,1518.0 L1409.3,1512.3 L1420.7,1503.7 L1432.2,1512.3 L1449.3,1500.9 L1459.3,1505.1 L1473.6,1498.0 L1477.9,1502.3 L1466.5,1518.0 L1460.8,1530.9 L1467.9,1538.0 L1480.8,1529.5 L1487.9,1523.7 L1503.7,1518.0 L1495.1,1529.5 L1473.6,1543.8 L1466.5,1552.3 L1460.8,1559.5 L1466.5,1566.6 L1480.8,1575.2 L1473.6,1580.9 L1463.6,1580.9 L1466.5,1595.2 L1457.9,1598.1 L1452.2,1588.1 L1445.0,1580.9 L1437.9,1588.1 L1432.2,1602.4 L1426.5,1601.0 L1429.3,1580.9 L1420.7,1573.8 L1409.3,1575.2 L1397.9,1575.2 L1406.4,1563.8 L1397.9,1558.1 L1385.0,1552.3 L1376.4,1543.8 L1392.1,1540.9 L1403.6,1536.6 L1403.6,1526.6Z" fill="#E6FF00" />
<path d="M1429.9,1521.1 C1430.6,1518.5 1435.9,1515.8 1437.9,1517.1 C1439.9,1518.5 1442.5,1526.4 1441.9,1529.1 C1441.2,1531.7 1435.9,1534.4 1433.9,1533.0 C1431.9,1531.7 1429.3,1523.8 1429.9,1521.1Z" fill="#66FF00" />
<path d="M1449.8,1564.8 C1450.8,1562.8 1456.1,1561.5 1457.8,1562.8 C1459.4,1564.1 1460.7,1570.8 1459.7,1572.8 C1458.7,1574.7 1453.5,1576.1 1451.8,1574.7 C1450.1,1573.4 1448.8,1566.8 1449.8,1564.8Z" fill="#66FF00" />
<path d="M1374.3,1505.2 C1373.1,1507.6 1377.1,1511.6 1384.3,1515.2 C1391.4,1518.8 1397.0,1519.5 1398.2,1517.1 C1399.4,1514.7 1395.4,1510.8 1388.3,1507.2 C1381.1,1503.6 1375.5,1502.8 1374.3,1505.2Z" fill="#E6FF00" />
<path d="M1414.1,1485.4 C1411.8,1486.7 1412.6,1491.6 1416.2,1497.6 C1419.8,1503.6 1423.7,1506.6 1426.0,1505.2 C1428.3,1503.8 1427.4,1499.0 1423.9,1493.0 C1420.3,1487.0 1416.4,1484.0 1414.1,1485.4Z" fill="#E6FF00" />
<path d="M1453.8,1481.4 C1451.1,1481.0 1448.6,1485.4 1447.4,1492.6 C1446.2,1499.7 1447.2,1504.8 1449.8,1505.2 C1452.5,1505.7 1455.0,1501.2 1456.2,1494.0 C1457.4,1486.9 1456.4,1481.8 1453.8,1481.4Z" fill="#E6FF00" />
<path d="M1487.5,1477.4 C1485.3,1476.0 1480.2,1480.6 1474.9,1488.9 C1469.5,1497.2 1467.4,1503.8 1469.7,1505.2 C1471.9,1506.7 1477.0,1502.1 1482.4,1493.7 C1487.7,1485.4 1489.8,1478.9 1487.5,1477.4Z" fill="#E6FF00" />
<path d="M1529.3,1505.2 C1527.8,1503.0 1519.6,1506.3 1508.9,1513.4 C1498.2,1520.6 1492.0,1526.8 1493.5,1529.1 C1495.0,1531.3 1503.1,1528.0 1513.9,1520.9 C1524.6,1513.7 1530.7,1507.5 1529.3,1505.2Z" fill="#E6FF00" />
<path d="M1497.5,1584.7 C1498.8,1582.3 1494.1,1577.6 1485.8,1572.8 C1477.5,1568.1 1471.0,1566.5 1469.7,1568.8 C1468.3,1571.1 1473.0,1575.8 1481.4,1580.6 C1489.7,1585.4 1496.1,1587.0 1497.5,1584.7Z" fill="#E6FF00" />
<path d="M1477.6,1612.5 C1480.0,1611.3 1478.8,1604.9 1474.7,1596.6 C1470.5,1588.2 1466.1,1583.5 1463.7,1584.7 C1461.3,1585.9 1462.5,1592.2 1466.7,1600.6 C1470.8,1608.9 1475.2,1613.7 1477.6,1612.5Z" fill="#E6FF00" />
<path d="M1429.9,1622.4 C1432.6,1622.9 1435.5,1617.3 1437.3,1608.4 C1439.1,1599.5 1438.5,1593.1 1435.9,1592.6 C1433.3,1592.1 1430.3,1597.7 1428.5,1606.6 C1426.8,1615.6 1427.3,1621.9 1429.9,1622.4Z" fill="#E6FF00" />
<path d="M1382.3,1584.7 C1383.5,1587.1 1389.0,1586.3 1396.2,1582.7 C1403.3,1579.1 1407.3,1575.2 1406.1,1572.8 C1404.9,1570.4 1399.3,1571.1 1392.2,1574.7 C1385.0,1578.3 1381.1,1582.3 1382.3,1584.7Z" fill="#E6FF00" />
<path d="M1352.5,1541.0 C1352.2,1543.6 1358.7,1546.2 1368.8,1547.4 C1379.0,1548.6 1385.9,1547.6 1386.3,1544.9 C1386.6,1542.3 1380.0,1539.7 1369.9,1538.5 C1359.8,1537.3 1352.8,1538.3 1352.5,1541.0Z" fill="#E6FF00" />
<path d="M1398.2,1497.3 C1396.3,1499.2 1398.2,1503.6 1403.0,1508.4 C1407.7,1513.2 1412.2,1515.1 1414.1,1513.2 C1416.0,1511.3 1414.0,1506.8 1409.3,1502.1 C1404.5,1497.3 1400.1,1495.4 1398.2,1497.3Z" fill="#E6FF00" />
<path d="M1380.3,1509.2 C1379.6,1510.6 1383.4,1513.8 1390.0,1517.4 C1396.5,1521.0 1401.4,1522.5 1402.1,1521.1 C1402.9,1519.8 1399.0,1516.5 1392.5,1512.9 C1385.9,1509.3 1381.0,1507.8 1380.3,1509.2Z" fill="#FFCC00" />
<path d="M1380.3,1509.2 C1380.0,1509.8 1384.1,1512.5 1390.7,1516.1 C1397.3,1519.7 1401.8,1521.7 1402.1,1521.1 C1402.5,1520.5 1398.3,1517.8 1391.7,1514.2 C1385.2,1510.6 1380.6,1508.6 1380.3,1509.2Z" fill="#FF6600" />
<path d="M1416.0,1493.3 C1414.7,1494.1 1415.2,1497.0 1417.3,1500.6 C1419.4,1504.1 1421.7,1506.0 1423.0,1505.2 C1424.3,1504.4 1423.8,1501.5 1421.8,1498.0 C1419.7,1494.4 1417.4,1492.5 1416.0,1493.3Z" fill="#FFCC00" />
<path d="M1416.0,1493.3 C1415.5,1493.6 1416.5,1496.2 1418.6,1499.8 C1420.7,1503.4 1422.4,1505.6 1423.0,1505.2 C1423.6,1504.9 1422.6,1502.3 1420.5,1498.7 C1418.4,1495.1 1416.6,1493.0 1416.0,1493.3Z" fill="#FF6600" />
<path d="M1418.0,1525.1 C1418.8,1526.4 1424.1,1524.5 1431.3,1520.4 C1438.4,1516.2 1442.6,1512.5 1441.9,1511.2 C1441.1,1509.8 1435.8,1511.7 1428.6,1515.9 C1421.5,1520.1 1417.3,1523.7 1418.0,1525.1Z" fill="#FFCC00" />
<path d="M1418.0,1525.1 C1418.4,1525.7 1423.3,1523.3 1430.5,1519.1 C1437.6,1514.9 1442.2,1511.8 1441.9,1511.2 C1441.5,1510.6 1436.5,1513.0 1429.4,1517.2 C1422.2,1521.4 1417.7,1524.5 1418.0,1525.1Z" fill="#FF6600" />
<path d="M1390.2,1556.9 C1389.5,1558.3 1392.2,1560.8 1397.0,1563.1 C1401.8,1565.5 1405.4,1566.2 1406.1,1564.8 C1406.8,1563.4 1404.1,1560.9 1399.3,1558.5 C1394.6,1556.1 1390.9,1555.5 1390.2,1556.9Z" fill="#FFCC00" />
<path d="M1390.2,1556.9 C1389.9,1557.5 1392.9,1559.4 1397.7,1561.8 C1402.4,1564.2 1405.8,1565.4 1406.1,1564.8 C1406.4,1564.2 1403.4,1562.2 1398.7,1559.9 C1393.9,1557.5 1390.5,1556.3 1390.2,1556.9Z" fill="#FF6600" />
<path d="M1416.0,1562.8 C1415.4,1564.2 1418.9,1567.1 1424.8,1570.1 C1430.8,1573.1 1435.2,1574.1 1435.9,1572.8 C1436.6,1571.4 1433.1,1568.5 1427.1,1565.5 C1421.2,1562.5 1416.7,1561.4 1416.0,1562.8Z" fill="#FFCC00" />
<path d="M1416.0,1562.8 C1415.8,1563.4 1419.5,1565.8 1425.5,1568.8 C1431.4,1571.7 1435.6,1573.3 1435.9,1572.8 C1436.2,1572.2 1432.4,1569.8 1426.5,1566.8 C1420.5,1563.8 1416.3,1562.2 1416.0,1562.8Z" fill="#FF6600" />
<path d="M1433.9,1568.8 C1432.4,1569.0 1431.8,1571.9 1432.4,1576.1 C1433.0,1580.3 1434.4,1582.9 1435.9,1582.7 C1437.4,1582.5 1438.1,1579.5 1437.5,1575.4 C1436.9,1571.2 1435.5,1568.6 1433.9,1568.8Z" fill="#FFCC00" />
<path d="M1433.9,1568.8 C1433.3,1568.9 1433.2,1571.7 1433.8,1575.9 C1434.4,1580.1 1435.3,1582.8 1435.9,1582.7 C1436.6,1582.6 1436.6,1579.8 1436.0,1575.6 C1435.4,1571.4 1434.6,1568.7 1433.9,1568.8Z" fill="#FF6600" />
<path d="M1459.7,1576.7 C1458.6,1577.8 1460.3,1580.9 1463.9,1584.5 C1467.4,1588.1 1470.6,1589.7 1471.7,1588.6 C1472.8,1587.5 1471.1,1584.4 1467.5,1580.9 C1464.0,1577.3 1460.8,1575.6 1459.7,1576.7Z" fill="#FFCC00" />
<path d="M1459.7,1576.7 C1459.3,1577.2 1461.4,1579.9 1464.9,1583.5 C1468.5,1587.0 1471.2,1589.1 1471.7,1588.6 C1472.1,1588.2 1470.0,1585.5 1466.5,1581.9 C1462.9,1578.3 1460.2,1576.3 1459.7,1576.7Z" fill="#FF6600" />
<path d="M1465.7,1564.8 C1467.1,1565.5 1468.8,1564.4 1470.0,1562.0 C1471.2,1559.6 1471.1,1557.6 1469.7,1556.9 C1468.3,1556.2 1466.6,1557.3 1465.4,1559.7 C1464.2,1562.1 1464.3,1564.1 1465.7,1564.8Z" fill="#FFCC00" />
<path d="M1465.7,1564.8 C1466.3,1565.1 1467.5,1563.7 1468.7,1561.3 C1469.9,1558.9 1470.3,1557.2 1469.7,1556.9 C1469.1,1556.6 1467.9,1558.0 1466.7,1560.3 C1465.5,1562.7 1465.1,1564.5 1465.7,1564.8Z" fill="#FF6600" />
<path d="M1501.5,1513.2 C1500.1,1512.4 1498.0,1513.8 1496.3,1516.8 C1494.5,1519.8 1494.2,1522.3 1495.5,1523.1 C1496.8,1523.9 1498.9,1522.4 1500.7,1519.5 C1502.5,1516.5 1502.8,1514.0 1501.5,1513.2Z" fill="#FFCC00" />
<path d="M1501.5,1513.2 C1500.9,1512.8 1499.3,1514.6 1497.5,1517.6 C1495.7,1520.6 1494.9,1522.8 1495.5,1523.1 C1496.1,1523.4 1497.6,1521.7 1499.4,1518.7 C1501.2,1515.7 1502.0,1513.5 1501.5,1513.2Z" fill="#FF6600" />
<path d="M1445.8,1525.1 C1444.5,1525.8 1444.3,1527.8 1445.5,1530.2 C1446.7,1532.6 1448.4,1533.7 1449.8,1533.0 C1451.2,1532.3 1451.3,1530.3 1450.1,1527.9 C1448.9,1525.5 1447.2,1524.4 1445.8,1525.1Z" fill="#FFCC00" />
<path d="M1445.8,1525.1 C1445.3,1525.4 1445.7,1527.2 1446.8,1529.5 C1448.0,1531.9 1449.2,1533.3 1449.8,1533.0 C1450.4,1532.7 1450.0,1531.0 1448.8,1528.6 C1447.6,1526.2 1446.4,1524.8 1445.8,1525.1Z" fill="#FF6600" />
<path d="M1398.2,1548.9 C1398.7,1550.4 1401.4,1550.6 1404.9,1549.4 C1408.5,1548.2 1410.6,1546.4 1410.1,1544.9 C1409.6,1543.5 1406.9,1543.3 1403.3,1544.5 C1399.7,1545.7 1397.7,1547.5 1398.2,1548.9Z" fill="#FFCC00" />
<path d="M1398.2,1548.9 C1398.4,1549.5 1400.9,1549.2 1404.5,1548.0 C1408.0,1546.8 1410.3,1545.6 1410.1,1544.9 C1409.9,1544.3 1407.4,1544.7 1403.8,1545.9 C1400.2,1547.1 1398.0,1548.3 1398.2,1548.9Z" fill="#FF6600" />
<path d="M1469.7,1592.6 C1468.2,1593.1 1468.4,1597.3 1470.2,1603.3 C1472.0,1609.2 1474.1,1612.9 1475.6,1612.5 C1477.1,1612.0 1476.9,1607.8 1475.1,1601.8 C1473.3,1595.8 1471.2,1592.2 1469.7,1592.6Z" fill="#FFCC00" />
<path d="M1469.7,1592.6 C1469.0,1592.8 1469.8,1596.9 1471.6,1602.9 C1473.4,1608.8 1475.0,1612.7 1475.6,1612.5 C1476.3,1612.3 1475.5,1608.2 1473.7,1602.2 C1471.9,1596.3 1470.3,1592.4 1469.7,1592.6Z" fill="#FF6600" />
<path d="M1390.2,1556.9 C1389.4,1559.1 1392.0,1561.8 1396.8,1563.6 C1401.5,1565.4 1405.3,1565.1 1406.1,1562.8 C1407.0,1560.6 1404.3,1557.9 1399.6,1556.1 C1394.8,1554.3 1391.1,1554.6 1390.2,1556.9Z" fill="#FFCC00" />
<path d="M1431.9,1405.9 L1435.9,1401.9" fill="none" stroke="#FF6600" stroke-width="3.2" stroke-linejoin="round" stroke-linecap="round" />
<path d="M1494.5,1686.0 L1498.5,1691.9" fill="none" stroke="#FF6600" stroke-width="3.2" stroke-linejoin="round" stroke-linecap="round" />
<rect x="1285.0" y="1400.7" width="304.8" height="304.4" fill="url(#dots)"/>
</g>
<ellipse cx="1437.4" cy="1552.9" rx="152.4" ry="152.2" fill="none" stroke="#3a3a3a" stroke-width="1.5"/>
<clipPath id="c9"><ellipse cx="308.3" cy="682.7" rx="151.3" ry="152.0"/></clipPath>
<g clip-path="url(#c9)">
<ellipse cx="308.3" cy="682.7" rx="153.3" ry="154.0" fill="#66FF00"/>
<path d="M448,683L455,687L460,692L459,697L452,701L445,704L444,709L447,714L450,719L451,724L448,728L444,732L442,736L442,740L441,745L439,749L435,752L431,755L427,758L424,761L421,765L419,769L418,773L414,776L410,778L406,780L402,783L400,786L397,790L393,792L388,793L384,794L381,797L378,801L375,803L370,804L365,804L361,804L357,805L354,809L351,813L348,818L344,822L340,825L336,827L331,828L327,827L322,827L317,826L313,824L308,822L304,820L300,819L295,821L290,824L286,825L282,822L278,818L274,815L271,813L266,812L262,812L257,811L253,811L248,811L242,812L238,811L235,806L234,800L232,795L229,792L223,793L217,793L212,791L209,788L207,784L204,781L201,778L199,773L197,769L195,765L191,762L186,760L184,756L183,751L184,746L182,742L179,739L176,735L175,731L177,725L178,721L176,717L172,713L168,710L166,705L166,701L166,696L165,692L165,687L165,683L167,678L168,674L170,670L171,665L172,661L171,656L169,652L168,647L170,642L173,639L176,635L175,630L173,624L175,620L181,618L189,617L195,615L196,611L194,605L195,600L199,598L205,597L208,594L208,589L208,582L210,578L213,575L218,574L222,572L226,570L230,567L233,565L237,562L240,559L245,558L249,557L253,555L255,549L258,542L261,536L266,537L272,541L278,545L282,546L286,545L291,544L295,544L300,543L304,540L308,537L313,538L317,544L321,550L325,551L330,547L335,543L339,546L342,553L344,558L349,557L356,551L362,546L367,547L370,552L372,557L376,559L380,561L384,563L386,568L388,573L391,576L396,577L400,578L404,581L407,584L409,588L412,591L415,595L416,599L417,603L420,607L424,609L431,610L437,612L440,615L440,621L438,626L438,631L440,635L443,639L444,643L442,648L441,653L443,657L449,660L454,664L453,669L449,674L446,678Z" fill="#00FF00"/>
<path d="M425,684L429,688L433,692L436,696L437,700L437,704L436,708L435,712L431,715L426,718L421,721L416,723L413,725L413,729L417,735L421,742L421,746L416,748L410,749L408,752L411,758L414,766L412,769L405,769L397,767L393,768L391,772L388,774L382,774L377,772L375,775L376,784L377,793L375,797L370,796L365,795L362,798L360,803L356,804L350,801L345,797L341,797L338,801L335,804L331,802L326,799L323,800L320,808L317,815L312,815L308,809L305,802L301,802L297,807L292,811L289,809L286,802L283,797L280,796L275,798L271,799L267,799L263,798L259,798L254,800L249,800L245,798L244,793L243,786L243,779L242,775L239,773L233,775L226,777L221,777L220,772L221,766L220,762L217,760L211,759L206,758L204,755L204,750L205,745L203,742L199,739L195,737L193,734L195,729L199,723L200,719L195,717L186,715L179,713L180,708L187,703L193,698L192,695L186,692L180,688L182,684L189,680L194,677L192,673L185,668L180,664L181,660L184,656L187,653L187,649L187,644L189,641L192,638L195,635L195,631L196,627L198,623L202,621L204,618L206,614L208,611L213,610L219,610L223,609L224,605L222,598L221,591L223,587L227,585L231,584L235,583L239,582L244,582L249,583L253,584L257,583L260,581L263,579L265,576L268,571L270,565L272,559L276,557L280,558L285,561L289,561L293,559L296,558L300,559L305,564L308,570L312,574L315,572L319,567L324,560L328,556L333,556L336,560L339,566L341,570L345,569L351,566L356,564L359,566L361,572L362,579L364,582L370,579L377,576L382,576L383,581L383,587L385,591L391,590L398,589L403,590L404,594L405,599L406,603L409,606L409,611L406,618L403,624L405,627L412,627L420,627L422,630L420,636L417,641L419,644L425,646L430,649L429,653L425,658L421,662L422,666L425,669L426,673L424,677L423,680Z" fill="#00FF66"/>
<path d="M270.7,549.1 C274.7,545.4 296.8,541.4 302.9,543.1 C308.9,544.8 310.9,555.5 306.9,559.2 C302.9,562.9 284.8,566.9 278.7,565.2 C272.7,563.6 266.7,552.8 270.7,549.1Z" fill="#00FF00" />
<path d="M200.3,585.3 C201.0,581.0 204.6,580.0 206.3,583.3 C208.0,586.7 211.0,601.1 210.3,605.5 C209.7,609.8 204.0,612.8 202.3,609.5 C200.6,606.1 199.6,589.7 200.3,585.3Z" fill="#66FF00" />
<path d="M216.4,621.5 C219.1,614.8 228.8,606.8 234.5,601.4 C240.2,596.1 243.2,593.7 250.6,589.4 C257.9,585.0 268.7,578.0 278.7,575.3 C288.8,572.6 301.2,572.6 310.9,573.3 C320.6,573.9 328.3,577.0 337.1,579.3 C345.8,581.7 355.2,583.0 363.2,587.4 C371.2,591.7 380.3,598.4 385.3,605.5 C390.4,612.5 392.4,622.2 393.4,629.6 C394.4,637.0 393.7,643.7 391.4,649.7 C389.0,655.7 384.0,660.8 379.3,665.8 C374.6,670.8 369.2,676.9 363.2,679.9 C357.2,682.9 349.8,683.2 343.1,683.9 C336.4,684.6 329.3,684.9 323.0,683.9 C316.6,682.9 310.2,680.9 304.9,677.9 C299.5,674.8 296.2,667.8 290.8,665.8 C285.4,663.8 277.4,667.8 272.7,665.8 C268.0,663.8 268.0,656.4 262.6,653.7 C257.3,651.0 247.9,651.7 240.5,649.7 C233.1,647.7 222.4,646.3 218.4,641.7 C214.4,637.0 213.7,628.2 216.4,621.5Z" fill="#00FFCC" />
<path d="M262.6,629.6 C264.6,624.9 272.0,621.5 274.7,625.6 C277.4,629.6 279.4,647.4 278.7,653.7 C278.1,660.1 273.4,663.8 270.7,663.8 C268.0,663.8 264.0,659.4 262.6,653.7 C261.3,648.0 260.6,634.3 262.6,629.6Z" fill="#00FF66" />
<path d="M200.3,645.7 C203.0,641.3 211.3,639.0 216.4,639.6 C221.4,640.3 228.8,644.7 230.5,649.7 C232.1,654.7 229.8,665.1 226.4,669.8 C223.1,674.5 214.7,678.5 210.3,677.9 C206.0,677.2 202.0,671.2 200.3,665.8 C198.6,660.4 197.6,650.0 200.3,645.7Z" fill="#00FFCC" />
<path d="M186.2,694.0 C188.2,689.6 198.9,689.3 202.3,691.9 C205.6,694.6 208.3,705.7 206.3,710.0 C204.3,714.4 193.6,720.8 190.2,718.1 C186.9,715.4 184.2,698.3 186.2,694.0Z" fill="#00FFCC" />
<path d="M202.3,722.1 C204.0,719.1 216.4,718.1 220.4,720.1 C224.4,722.1 228.1,731.2 226.4,734.2 C224.8,737.2 214.4,740.2 210.3,738.2 C206.3,736.2 200.6,725.1 202.3,722.1Z" fill="#00FFCC" />
<path d="M298.8,746.2 C302.5,739.9 312.2,739.9 321.0,738.2 C329.7,736.5 344.4,734.8 351.1,736.2 C357.8,737.5 357.8,741.2 361.2,746.2 C364.5,751.3 366.9,763.7 371.2,766.4 C375.6,769.0 384.0,759.7 387.3,762.3 C390.7,765.0 394.0,777.1 391.4,782.4 C388.7,787.8 379.6,791.8 371.2,794.5 C362.9,797.2 351.1,798.9 341.1,798.5 C331.0,798.2 317.9,796.2 310.9,792.5 C303.9,788.8 300.8,784.1 298.8,776.4 C296.8,768.7 295.1,752.6 298.8,746.2Z" fill="#00FFCC" />
<path d="M242.5,806.6 C243.2,804.9 253.2,803.2 254.6,804.6 C255.9,805.9 252.6,814.3 250.6,814.6 C248.6,815.0 241.8,808.3 242.5,806.6Z" fill="#00FFCC" />
<path d="M314.9,597.4 C316.9,593.4 322.6,593.7 327.0,593.4 C331.4,593.0 337.7,592.7 341.1,595.4 C344.4,598.1 346.4,603.8 347.1,609.5 C347.8,615.2 347.8,625.6 345.1,629.6 C342.4,633.6 335.7,631.6 331.0,633.6 C326.3,635.6 320.3,641.7 316.9,641.7 C313.6,641.7 311.2,637.6 310.9,633.6 C310.6,629.6 314.3,623.6 314.9,617.5 C315.6,611.5 312.9,601.4 314.9,597.4Z" fill="#00B8FF" />
<path d="M262.6,683.9 C265.3,681.9 272.7,678.9 278.7,681.9 C284.8,684.9 294.5,696.0 298.8,702.0 C303.2,708.0 306.2,715.1 304.9,718.1 C303.5,721.1 295.8,722.1 290.8,720.1 C285.8,718.1 279.4,710.4 274.7,706.0 C270.0,701.7 264.6,697.6 262.6,694.0 C260.6,690.3 260.0,685.9 262.6,683.9Z" fill="#66FF00" />
<path d="M270.7,689.9 C271.7,688.3 276.4,688.9 280.7,691.9 C285.1,695.0 293.8,704.0 296.8,708.0 C299.8,712.1 300.2,714.7 298.8,716.1 C297.5,717.4 292.8,718.4 288.8,716.1 C284.8,713.7 277.7,706.4 274.7,702.0 C271.7,697.6 269.7,691.6 270.7,689.9Z" fill="#CCFF00" />
<path d="M273.7,695.0 L282.7,704.0 L293.8,713.1" fill="none" stroke="#FF6600" stroke-width="4.0" stroke-linejoin="round" stroke-linecap="round" />
<path d="M275.7,697.0 L283.8,705.0 L292.8,712.1" fill="none" stroke="#FF0000" stroke-width="2.0" stroke-linejoin="round" stroke-linecap="round" />
<path d="M363.2,706.0 C365.9,702.7 379.0,699.0 385.3,696.0 C391.7,692.9 399.1,686.9 401.4,687.9 C403.8,688.9 401.7,697.6 399.4,702.0 C397.1,706.4 392.0,708.7 387.3,714.1 C382.6,719.4 375.6,731.2 371.2,734.2 C366.9,737.2 361.5,735.2 361.2,732.2 C360.9,729.1 368.9,720.4 369.2,716.1 C369.6,711.7 360.5,709.4 363.2,706.0Z" fill="#66FF00" />
<path d="M367.2,706.0 L397.4,694.0" fill="none" stroke="#CCFF00" stroke-width="4.0" stroke-linejoin="round" stroke-linecap="round" />
<path d="M391.4,698.0 L385.3,718.1 L371.2,730.2" fill="none" stroke="#CCFF00" stroke-width="3.2" stroke-linejoin="round" stroke-linecap="round" />
<path d="M373.3,704.0 L389.3,700.0" fill="none" stroke="#FF6600" stroke-width="1.6" stroke-linejoin="round" stroke-linecap="round" />
<path d="M212.4,571.3 L254.6,559.2" fill="none" stroke="#CCFF00" stroke-width="4.0" stroke-linejoin="round" stroke-linecap="round" />
<path d="M216.4,570.3 L246.5,561.2" fill="none" stroke="#FF6600" stroke-width="1.6" stroke-linejoin="round" stroke-linecap="round" />
<path d="M363.2,553.2 L387.3,565.2" fill="none" stroke="#CCFF00" stroke-width="4.0" stroke-linejoin="round" stroke-linecap="round" />
<path d="M365.2,554.2 L383.3,563.2" fill="none" stroke="#FF6600" stroke-width="1.6" stroke-linejoin="round" stroke-linecap="round" />
<path d="M200.3,585.3 L208.3,603.4" fill="none" stroke="#CCFF00" stroke-width="3.2" stroke-linejoin="round" stroke-linecap="round" />
<path d="M429.6,611.5 L443.7,625.6" fill="none" stroke="#CCFF00" stroke-width="2.4" stroke-linejoin="round" stroke-linecap="round" />
<path d="M304.9,830.7 L316.9,830.7" fill="none" stroke="#FF6600" stroke-width="2.4" stroke-linejoin="round" stroke-linecap="round" />
<path d="M278.7,719.1 L274.7,746.2 L268.7,750.3 L259.6,780.4 L258.6,792.5 L261.6,826.7" fill="none" stroke="#1a1a1a" stroke-width="2.2" stroke-linejoin="round" stroke-linecap="round" />
<path d="M397.4,716.1 L417.5,713.1 L429.6,726.1 L451.7,732.2" fill="none" stroke="#1a1a1a" stroke-width="2.2" stroke-linejoin="round" stroke-linecap="round" />
<rect x="157.0" y="530.7" width="302.6" height="304.0" fill="url(#dots)"/>
</g>
<ellipse cx="308.3" cy="682.7" rx="151.3" ry="152.0" fill="none" stroke="#3a3a3a" stroke-width="1.5"/>
<clipPath id="c10"><ellipse cx="682.4" cy="679.9" rx="150.3" ry="150.8"/></clipPath>
<g clip-path="url(#c10)">
<ellipse cx="682.4" cy="679.9" rx="152.3" ry="152.8" fill="#00FF00"/>
<path d="M811,680L811,684L812,688L813,692L813,696L811,700L808,704L806,708L806,712L805,716L803,719L799,722L796,725L797,729L799,735L799,739L794,741L787,742L783,744L783,748L785,754L784,759L779,760L774,760L770,763L771,768L770,774L767,776L762,776L757,776L756,781L757,789L757,798L755,803L751,804L745,803L740,802L735,802L731,802L725,799L720,795L715,792L711,792L709,798L707,806L703,812L699,812L695,808L690,803L686,802L682,804L678,808L674,811L670,811L666,811L662,810L658,808L655,805L651,802L647,802L642,804L637,806L632,806L629,804L625,802L622,799L618,797L616,793L614,787L612,783L610,780L608,776L606,772L605,768L602,766L596,767L589,767L585,766L582,763L579,760L574,759L568,758L564,755L565,749L568,743L567,739L565,735L562,732L563,727L564,722L563,719L559,716L555,713L553,709L552,705L550,701L545,697L545,693L551,688L559,684L562,680L556,676L548,671L547,667L553,664L560,661L561,657L556,652L553,647L557,643L564,641L566,638L562,632L558,626L560,622L568,621L575,621L577,618L576,612L577,608L582,607L588,606L590,603L588,597L587,591L591,589L598,590L604,591L606,587L606,581L608,577L612,576L617,577L621,575L622,570L624,565L627,562L631,561L636,562L640,561L642,556L645,551L649,549L654,552L659,557L663,559L667,556L670,550L674,546L678,547L682,552L686,554L691,551L695,545L700,540L704,542L708,548L711,553L714,556L719,556L722,557L726,559L729,562L733,563L737,564L740,566L744,568L748,569L753,569L758,569L760,573L761,578L763,582L767,584L772,585L775,588L775,593L774,599L776,603L780,604L787,604L792,605L797,607L800,611L801,615L799,620L797,626L796,631L799,634L805,636L812,638L814,642L811,647L807,652L806,656L809,660L813,663L815,667L815,672L813,676Z" fill="#00FF66"/>
<path d="M689.9,540.1 C695.0,536.8 719.4,532.7 726.1,534.1 C732.8,535.4 735.2,544.8 730.2,548.2 C725.1,551.5 702.7,555.5 696.0,554.2 C689.3,552.9 684.9,543.5 689.9,540.1Z" fill="#66FF00" />
<path d="M762.3,564.2 C758.3,558.2 770.4,565.6 778.4,572.3 C786.5,579.0 806.6,598.4 810.6,604.5 C814.6,610.5 810.6,615.2 802.6,608.5 C794.5,601.8 766.4,570.3 762.3,564.2Z" fill="#66FF00" />
<path d="M599.4,562.2 L625.6,556.2" fill="none" stroke="#66FF00" stroke-width="5.6" stroke-linejoin="round" stroke-linecap="round" />
<path d="M736.2,550.2 L762.3,562.2" fill="none" stroke="#CCFF00" stroke-width="4.0" stroke-linejoin="round" stroke-linecap="round" />
<path d="M575.3,586.4 L581.3,600.5" fill="none" stroke="#CCFF00" stroke-width="3.2" stroke-linejoin="round" stroke-linecap="round" />
<path d="M681.9,604.5 C682.6,597.4 685.9,591.1 689.9,586.4 C694.0,581.7 700.0,577.3 706.0,576.3 C712.1,575.3 719.4,578.7 726.1,580.3 C732.8,582.0 740.5,583.0 746.2,586.4 C751.9,589.7 756.6,594.1 760.3,600.5 C764.0,606.8 766.7,616.5 768.4,624.6 C770.0,632.6 771.4,642.0 770.4,648.7 C769.4,655.4 767.0,660.8 762.3,664.8 C757.6,668.8 749.9,672.2 742.2,672.9 C734.5,673.5 722.8,671.5 716.1,668.8 C709.4,666.2 705.3,661.5 702.0,656.8 C698.6,652.1 698.6,645.4 696.0,640.7 C693.3,636.0 688.3,634.6 685.9,628.6 C683.6,622.6 681.2,611.5 681.9,604.5Z" fill="#00FFCC" />
<path d="M629.6,600.5 C630.3,594.8 633.6,585.0 637.6,580.3 C641.7,575.6 648.4,572.3 653.7,572.3 C659.1,572.3 666.8,575.6 669.8,580.3 C672.8,585.0 672.5,595.1 671.8,600.5 C671.2,605.8 669.5,609.2 665.8,612.5 C662.1,615.9 655.1,620.2 649.7,620.6 C644.3,620.9 637.0,617.9 633.6,614.5 C630.3,611.2 628.9,606.2 629.6,600.5Z" fill="#00FFCC" />
<path d="M601.4,604.5 C603.1,600.5 610.1,593.1 613.5,592.4 C616.8,591.7 621.2,596.8 621.5,600.5 C621.9,604.1 618.5,611.8 615.5,614.5 C612.5,617.2 605.8,618.2 603.4,616.5 C601.1,614.9 599.8,608.5 601.4,604.5Z" fill="#00FFCC" />
<path d="M569.2,632.6 C569.9,625.9 574.6,621.2 577.3,620.6 C580.0,619.9 583.0,623.2 585.3,628.6 C587.7,634.0 591.0,646.7 591.4,652.7 C591.7,658.8 590.4,663.5 587.4,664.8 C584.3,666.2 576.3,666.2 573.3,660.8 C570.3,655.4 568.6,639.3 569.2,632.6Z" fill="#00FFCC" />
<path d="M559.2,686.9 C562.5,683.9 573.6,682.9 581.3,682.9 C589.0,682.9 600.4,683.9 605.5,686.9 C610.5,690.0 612.2,697.0 611.5,701.0 C610.8,705.0 606.8,709.4 601.4,711.1 C596.1,712.8 586.0,712.8 579.3,711.1 C572.6,709.4 564.6,705.0 561.2,701.0 C557.9,697.0 555.8,690.0 559.2,686.9Z" fill="#00FFCC" />
<path d="M571.3,717.1 C572.6,713.4 579.6,712.8 585.3,713.1 C591.0,713.4 603.8,715.4 605.5,719.1 C607.1,722.8 600.1,732.5 595.4,735.2 C590.7,737.9 581.3,738.2 577.3,735.2 C573.3,732.2 569.9,720.8 571.3,717.1Z" fill="#00FFCC" />
<path d="M677.9,737.2 C680.9,732.2 689.3,732.2 696.0,731.2 C702.7,730.2 712.1,730.2 718.1,731.2 C724.1,732.2 729.5,732.2 732.2,737.2 C734.8,742.3 734.5,754.0 734.2,761.4 C733.8,768.7 733.2,776.1 730.2,781.5 C727.1,786.8 722.1,791.2 716.1,793.5 C710.0,795.9 699.6,797.2 694.0,795.5 C688.3,793.9 684.6,789.2 681.9,783.5 C679.2,777.8 678.5,769.1 677.9,761.4 C677.2,753.6 674.8,742.3 677.9,737.2Z" fill="#00FFCC" />
<path d="M617.5,801.6 C618.2,799.9 626.6,798.2 627.6,799.6 C628.6,800.9 625.2,809.3 623.6,809.6 C621.9,810.0 616.8,803.3 617.5,801.6Z" fill="#00FFCC" />
<path d="M718.1,610.5 C718.8,608.5 722.1,607.2 723.1,608.5 C724.1,609.8 724.8,616.5 724.1,618.6 C723.4,620.6 720.1,621.9 719.1,620.6 C718.1,619.2 717.4,612.5 718.1,610.5Z" fill="#00B8FF" />
<path d="M629.6,648.7 C631.6,647.4 639.6,650.7 645.7,652.7 C651.7,654.8 659.8,658.8 665.8,660.8 C671.8,662.8 679.5,662.5 681.9,664.8 C684.2,667.2 682.9,673.2 679.9,674.9 C676.9,676.5 669.5,675.9 663.8,674.9 C658.1,673.9 650.7,671.2 645.7,668.8 C640.7,666.5 636.3,664.1 633.6,660.8 C630.9,657.4 627.6,650.1 629.6,648.7Z" fill="#66FF00" />
<path d="M641.7,656.8 C642.3,655.4 645.7,657.4 649.7,658.8 C653.7,660.1 661.1,663.5 665.8,664.8 C670.5,666.2 676.5,665.5 677.9,666.8 C679.2,668.2 676.9,671.9 673.8,672.9 C670.8,673.9 664.5,673.9 659.8,672.9 C655.1,671.9 648.7,669.5 645.7,666.8 C642.7,664.1 641.0,658.1 641.7,656.8Z" fill="#CCFF00" />
<path d="M645.7,658.8 L653.7,668.8 L669.8,670.8 L677.9,668.8" fill="none" stroke="#FF6600" stroke-width="2.8" stroke-linejoin="round" stroke-linecap="round" />
<path d="M661.8,670.8 L671.8,669.8" fill="none" stroke="#FF0000" stroke-width="1.6" stroke-linejoin="round" stroke-linecap="round" />
<path d="M734.2,701.0 C736.2,697.7 749.9,695.7 756.3,693.0 C762.7,690.3 769.7,684.3 772.4,684.9 C775.1,685.6 774.1,692.3 772.4,697.0 C770.7,701.7 766.4,707.7 762.3,713.1 C758.3,718.4 752.3,726.5 748.3,729.2 C744.2,731.9 738.9,731.9 738.2,729.2 C737.5,726.5 744.9,717.8 744.2,713.1 C743.6,708.4 732.2,704.4 734.2,701.0Z" fill="#66FF00" />
<path d="M738.2,699.0 L770.4,693.0" fill="none" stroke="#CCFF00" stroke-width="4.0" stroke-linejoin="round" stroke-linecap="round" />
<path d="M766.4,697.0 L760.3,717.1 L746.2,729.2" fill="none" stroke="#CCFF00" stroke-width="3.2" stroke-linejoin="round" stroke-linecap="round" />
<path d="M650.7,676.9 L645.7,693.0 L655.7,709.1 L649.7,721.1 L645.7,743.3 L637.6,757.3 L631.6,779.5 L636.6,789.5" fill="none" stroke="#1a1a1a" stroke-width="2.2" stroke-linejoin="round" stroke-linecap="round" />
<path d="M636.6,789.5 L635.6,823.7" fill="none" stroke="#8a8a8a" stroke-width="2.6" stroke-linejoin="round" stroke-linecap="round" />
<path d="M770.4,713.1 L788.5,709.1 L804.6,723.1 L824.7,727.2" fill="none" stroke="#1a1a1a" stroke-width="2.2" stroke-linejoin="round" stroke-linecap="round" />
<rect x="532.1" y="529.1" width="300.6" height="301.6" fill="url(#dots)"/>
</g>
<ellipse cx="682.4" cy="679.9" rx="150.3" ry="150.8" fill="none" stroke="#3a3a3a" stroke-width="1.5"/>
<clipPath id="c11"><ellipse cx="1061.6" cy="683.7" rx="154.2" ry="155.1"/></clipPath>
<g clip-path="url(#c11)">
<ellipse cx="1061.6" cy="683.7" rx="156.2" ry="157.1" fill="#00FF88"/>
<path d="M1198,684L1200,688L1200,693L1202,697L1207,702L1212,708L1210,712L1203,715L1196,718L1193,722L1194,727L1190,730L1179,730L1165,729L1159,730L1164,736L1174,746L1180,754L1177,757L1171,758L1167,761L1168,766L1169,773L1167,777L1163,779L1158,781L1155,783L1150,785L1146,785L1142,788L1141,793L1141,801L1138,804L1129,798L1119,789L1112,784L1111,788L1110,796L1107,799L1101,794L1095,786L1091,786L1090,794L1088,802L1084,804L1080,799L1076,797L1072,801L1069,809L1065,814L1061,812L1057,808L1054,807L1050,809L1046,809L1042,804L1040,794L1039,785L1036,782L1031,788L1025,797L1018,804L1014,803L1012,798L1010,792L1006,793L998,800L989,806L985,804L985,796L985,789L979,789L968,797L956,803L951,801L954,792L957,782L956,776L953,774L952,769L956,760L961,752L961,747L956,746L951,744L953,739L957,733L955,730L944,730L929,731L922,729L925,724L932,717L935,712L930,709L921,706L917,702L919,697L923,692L927,688L928,684L930,680L934,676L940,672L947,669L952,667L956,664L958,661L959,657L960,654L960,651L955,645L944,637L933,628L927,621L931,617L940,617L946,616L946,610L942,603L942,597L949,597L959,599L967,600L970,598L971,593L973,590L979,591L986,592L992,594L997,595L1001,594L1002,590L1000,579L997,567L998,559L1005,563L1014,574L1021,582L1023,577L1022,563L1022,550L1026,545L1031,549L1037,554L1041,556L1045,556L1049,556L1054,559L1058,561L1061,560L1065,559L1069,561L1073,563L1076,565L1080,564L1084,564L1088,566L1092,567L1097,562L1105,551L1112,542L1117,544L1117,556L1115,571L1116,577L1123,572L1132,565L1138,563L1138,571L1135,582L1135,589L1139,590L1144,590L1147,592L1149,596L1153,598L1160,597L1167,596L1171,599L1170,605L1168,611L1170,615L1176,616L1181,618L1181,623L1177,629L1174,635L1175,639L1180,641L1182,645L1180,649L1174,655L1169,660L1166,664L1167,667L1169,670L1173,673L1181,676L1191,680Z" fill="#00FF28"/>
<path d="M975.2,641.3 L995.2,627.3 L1015.3,637.3 L1019.3,589.2 L1031.3,589.2 L1043.4,601.2 L1047.4,575.1 L1063.4,585.2 L1079.4,593.2 L1083.5,585.2 L1095.5,583.1 L1103.5,601.2 L1119.5,585.2 L1123.6,593.2 L1115.5,613.2 L1099.5,645.3 L1123.6,645.3 L1143.6,643.3 L1147.6,653.3 L1123.6,669.4 L1115.5,685.4 L1143.6,685.4 L1155.6,705.5 L1167.7,737.5 L1155.6,749.6 L1123.6,737.5 L1115.5,765.6 L1095.5,765.6 L1083.5,801.7 L1055.4,803.7 L1047.4,785.7 L1031.3,765.6 L1019.3,757.6 L993.2,761.6 L953.1,765.6 L963.2,749.6 L975.2,725.5 L969.2,705.5 L997.2,699.4 L1007.3,685.4 L993.2,665.4 L987.2,653.3Z" fill="#66FF00" />
<path d="M1055.4,665.4 C1056.1,662.0 1061.4,659.3 1063.4,661.3 C1065.4,663.3 1068.1,674.0 1067.4,677.4 C1066.7,680.7 1061.4,683.4 1059.4,681.4 C1057.4,679.4 1054.7,668.7 1055.4,665.4Z" fill="#00FF28" />
<path d="M1051.4,649.3 C1051.4,646.0 1062.7,635.6 1067.4,629.3 C1072.1,622.9 1076.4,613.9 1079.4,611.2 C1082.5,608.5 1084.8,609.5 1085.5,613.2 C1086.1,616.9 1086.5,627.3 1083.5,633.3 C1080.4,639.3 1072.8,646.6 1067.4,649.3 C1062.1,652.0 1051.4,652.7 1051.4,649.3Z" fill="#CCFF00" />
<path d="M1011.3,657.3 C1012.6,657.3 1016.6,660.7 1019.3,665.4 C1022.0,670.0 1023.3,679.4 1027.3,685.4 C1031.3,691.4 1038.7,697.4 1043.4,701.4 C1048.0,705.5 1053.0,706.8 1055.4,709.5 C1057.7,712.1 1058.1,712.8 1057.4,717.5 C1056.7,722.2 1053.7,734.5 1051.4,737.5 C1049.0,740.5 1044.7,738.9 1043.4,735.5 C1042.0,732.2 1046.0,722.5 1043.4,717.5 C1040.7,712.5 1032.0,708.8 1027.3,705.5 C1022.6,702.1 1017.3,702.1 1015.3,697.4 C1013.3,692.8 1015.9,682.7 1015.3,677.4 C1014.6,672.0 1011.9,668.7 1011.3,665.4 C1010.6,662.0 1009.9,657.3 1011.3,657.3Z" fill="#CCFF00" />
<path d="M987.2,723.5 C988.5,720.5 997.9,709.1 1003.3,705.5 C1008.6,701.8 1017.3,699.8 1019.3,701.4 C1021.3,703.1 1019.3,711.8 1015.3,715.5 C1011.3,719.2 999.9,722.2 995.2,723.5 C990.6,724.8 985.9,726.5 987.2,723.5Z" fill="#CCFF00" />
<path d="M1075.4,703.4 C1076.1,701.4 1078.8,699.8 1083.5,701.4 C1088.1,703.1 1099.2,709.8 1103.5,713.5 C1107.8,717.1 1110.9,721.8 1109.5,723.5 C1108.2,725.2 1100.5,725.2 1095.5,723.5 C1090.5,721.8 1082.8,716.8 1079.4,713.5 C1076.1,710.1 1074.8,705.5 1075.4,703.4Z" fill="#CCFF00" />
<path d="M1057.4,719.5 C1059.1,718.8 1068.4,721.8 1071.4,723.5 C1074.4,725.2 1077.1,728.8 1075.4,729.5 C1073.8,730.2 1064.4,729.2 1061.4,727.5 C1058.4,725.8 1055.7,720.2 1057.4,719.5Z" fill="#CCFF00" />
<path d="M997.2,711.5 L1004.3,706.5" fill="none" stroke="#FF6600" stroke-width="2.4" stroke-linejoin="round" stroke-linecap="round" />
<path d="M1026.3,677.4 L1027.7,685.4" fill="none" stroke="#FF6600" stroke-width="2.0" stroke-linejoin="round" stroke-linecap="round" />
<path d="M1193.8,749.8 L1180.5,745.6" stroke="#00FFE6" stroke-width="1.2" stroke-linecap="round" opacity="1.0"/>
<path d="M926.5,645.9 L937.0,651.1" stroke="#00FFE6" stroke-width="1.2" stroke-linecap="round" opacity="1.0"/>
<path d="M935.7,593.9 L945.9,599.0" stroke="#00FFE6" stroke-width="1.2" stroke-linecap="round" opacity="1.0"/>
<path d="M955.0,785.6 L960.7,775.9" stroke="#00FFE6" stroke-width="1.2" stroke-linecap="round" opacity="1.0"/>
<path d="M1114.4,551.1 L1114.8,563.1" stroke="#00FFE6" stroke-width="1.2" stroke-linecap="round" opacity="1.0"/>
<path d="M1007.8,805.5 L1009.4,796.8" stroke="#00FFE6" stroke-width="1.2" stroke-linecap="round" opacity="1.0"/>
<path d="M983.8,797.4 L992.4,788.1" stroke="#00FFE6" stroke-width="1.2" stroke-linecap="round" opacity="1.0"/>
<path d="M977.8,801.4 L983.7,798.1" stroke="#00FFE6" stroke-width="1.2" stroke-linecap="round" opacity="1.0"/>
<path d="M1183.5,602.7 L1177.2,603.6" stroke="#00FFE6" stroke-width="1.2" stroke-linecap="round" opacity="1.0"/>
<path d="M1090.3,815.2 L1087.4,806.9" stroke="#00FFE6" stroke-width="1.2" stroke-linecap="round" opacity="1.0"/>
<path d="M1142.5,574.7 L1139.5,579.4" stroke="#00FFE6" stroke-width="1.2" stroke-linecap="round" opacity="1.0"/>
<path d="M1205.8,722.6 L1198.2,717.0" stroke="#00FFE6" stroke-width="1.2" stroke-linecap="round" opacity="1.0"/>
<path d="M1189.2,630.0 L1178.1,634.8" stroke="#00FFE6" stroke-width="1.2" stroke-linecap="round" opacity="1.0"/>
<path d="M1190.3,643.4 L1181.3,641.8" stroke="#00FFE6" stroke-width="1.2" stroke-linecap="round" opacity="1.0"/>
<path d="M1193.6,732.5 L1186.0,730.9" stroke="#00FFE6" stroke-width="1.2" stroke-linecap="round" opacity="1.0"/>
<path d="M1199.3,678.1 L1187.3,681.6" stroke="#00FFE6" stroke-width="1.2" stroke-linecap="round" opacity="1.0"/>
<path d="M1158.3,588.1 L1152.6,589.9" stroke="#00FFE6" stroke-width="1.2" stroke-linecap="round" opacity="1.0"/>
<path d="M1209.8,696.8 L1203.0,695.7" stroke="#00FFE6" stroke-width="1.2" stroke-linecap="round" opacity="1.0"/>
<path d="M1001.7,818.7 L1008.6,810.0" stroke="#00FFE6" stroke-width="1.2" stroke-linecap="round" opacity="1.0"/>
<path d="M1172.4,790.0 L1167.7,784.5" stroke="#00FFE6" stroke-width="1.2" stroke-linecap="round" opacity="1.0"/>
<path d="M1117.7,544.0 L1114.1,553.2" stroke="#00FFE6" stroke-width="1.2" stroke-linecap="round" opacity="1.0"/>
<path d="M1149.4,811.0 L1146.1,801.2" stroke="#00FFE6" stroke-width="1.2" stroke-linecap="round" opacity="1.0"/>
<path d="M1061.4,825.8 L1063.4,837.8" fill="none" stroke="#FF0000" stroke-width="2.4" stroke-linejoin="round" stroke-linecap="round" />
<rect x="907.4" y="528.6" width="308.4" height="310.2" fill="url(#dots)"/>
</g>
<ellipse cx="1061.6" cy="683.7" rx="154.2" ry="155.1" fill="none" stroke="#3a3a3a" stroke-width="1.5"/>
<clipPath id="c12"><ellipse cx="1432.9" cy="685.5" rx="154.9" ry="155.8"/></clipPath>
<g clip-path="url(#c12)">
<ellipse cx="1432.9" cy="685.5" rx="156.9" ry="157.8" fill="#00FF88"/>
<path d="M1339.4,574.3 C1348.8,569.9 1387.3,569.9 1397.7,566.2 C1408.1,562.5 1397.4,553.8 1401.7,552.1 C1406.1,550.5 1417.8,553.2 1423.8,556.2 C1429.9,559.2 1429.5,567.6 1437.9,570.2 C1446.3,572.9 1464.7,572.6 1474.1,572.3 C1483.5,571.9 1489.2,567.2 1494.2,568.2 C1499.3,569.2 1499.9,574.3 1504.3,578.3 C1508.7,582.3 1515.4,587.0 1520.4,592.4 C1525.4,597.7 1528.8,602.8 1534.5,610.5 C1540.2,618.2 1549.9,630.6 1554.6,638.6 C1559.3,646.7 1561.3,650.7 1562.6,658.7 C1564.0,666.8 1563.3,678.9 1562.6,686.9 C1562.0,695.0 1559.3,700.3 1558.6,707.0 C1557.9,713.7 1562.6,723.8 1558.6,727.1 C1554.6,730.5 1541.8,728.8 1534.5,727.1 C1527.1,725.5 1521.1,721.1 1514.4,717.1 C1507.7,713.1 1502.6,708.0 1494.2,703.0 C1485.9,698.0 1474.1,692.3 1464.1,686.9 C1454.0,681.5 1444.0,675.5 1433.9,670.8 C1423.8,666.1 1411.8,659.4 1403.7,658.7 C1395.7,658.1 1390.7,661.4 1385.6,666.8 C1380.6,672.2 1376.9,689.3 1373.6,690.9 C1370.2,692.6 1368.2,687.6 1365.5,676.8 C1362.8,666.1 1360.5,637.6 1357.5,626.6 C1354.5,615.5 1350.1,616.2 1347.4,610.5 C1344.7,604.8 1342.7,598.4 1341.4,592.4 C1340.0,586.3 1330.0,578.6 1339.4,574.3Z" fill="#00FF28" />
<path d="M1393.7,662.8 C1395.7,657.4 1405.4,654.1 1413.8,654.7 C1422.2,655.4 1435.6,662.8 1444.0,666.8 C1452.3,670.8 1462.4,674.2 1464.1,678.9 C1465.8,683.6 1460.7,692.9 1454.0,695.0 C1447.3,697.0 1432.6,692.3 1423.8,690.9 C1415.1,689.6 1406.8,691.6 1401.7,686.9 C1396.7,682.2 1391.7,668.1 1393.7,662.8Z" fill="#00FF88" />
<path d="M1377.6,610.5 C1381.3,608.1 1395.0,607.1 1403.7,606.5 C1412.5,605.8 1421.5,607.1 1429.9,606.5 C1438.3,605.8 1446.6,602.4 1454.0,602.4 C1461.4,602.4 1468.1,603.8 1474.1,606.5 C1480.2,609.1 1485.2,615.2 1490.2,618.5 C1495.3,621.9 1500.3,623.2 1504.3,626.6 C1508.3,629.9 1512.7,631.3 1514.4,638.6 C1516.0,646.0 1516.0,664.1 1514.4,670.8 C1512.7,677.5 1509.3,679.5 1504.3,678.9 C1499.3,678.2 1490.9,670.5 1484.2,666.8 C1477.5,663.1 1470.8,660.1 1464.1,656.7 C1457.4,653.4 1452.3,649.7 1444.0,646.7 C1435.6,643.7 1422.2,641.3 1413.8,638.6 C1405.4,636.0 1399.0,633.6 1393.7,630.6 C1388.3,627.6 1384.3,623.9 1381.6,620.5 C1378.9,617.2 1373.9,612.8 1377.6,610.5Z" fill="#66FF00" />
<path d="M1421.8,574.3 C1421.2,571.6 1429.2,574.9 1433.9,578.3 C1438.6,581.6 1449.3,591.7 1450.0,594.4 C1450.7,597.1 1442.6,597.7 1437.9,594.4 C1433.2,591.0 1422.5,577.0 1421.8,574.3Z" fill="#66FF00" />
<path d="M1474.1,646.7 C1476.1,646.3 1483.2,650.7 1486.2,652.7 C1489.2,654.7 1492.2,657.4 1492.2,658.7 C1492.2,660.1 1489.2,661.4 1486.2,660.8 C1483.2,660.1 1476.1,657.1 1474.1,654.7 C1472.1,652.4 1472.1,647.0 1474.1,646.7Z" fill="#CCFF00" />
<path d="M1484.2,614.5 C1485.5,614.2 1492.2,617.2 1494.2,618.5 C1496.3,619.9 1497.6,622.2 1496.3,622.5 C1494.9,622.9 1488.2,621.9 1486.2,620.5 C1484.2,619.2 1482.8,614.8 1484.2,614.5Z" fill="#CCFF00" />
<path d="M1313.2,703.0 C1315.6,702.3 1325.0,713.7 1333.3,719.1 C1341.7,724.4 1353.5,729.8 1363.5,735.2 C1373.6,740.5 1381.9,746.9 1393.7,751.3 C1405.4,755.6 1422.2,758.6 1433.9,761.3 C1445.6,764.0 1455.4,763.7 1464.1,767.4 C1472.8,771.0 1481.8,778.1 1486.2,783.4 C1490.6,788.8 1492.2,794.5 1490.2,799.5 C1488.2,804.6 1480.2,811.6 1474.1,813.6 C1468.1,815.6 1464.1,813.3 1454.0,811.6 C1444.0,809.9 1425.2,806.6 1413.8,803.6 C1402.4,800.5 1394.0,796.9 1385.6,793.5 C1377.3,790.2 1369.5,787.8 1363.5,783.4 C1357.5,779.1 1354.5,773.4 1349.4,767.4 C1344.4,761.3 1338.4,754.6 1333.3,747.2 C1328.3,739.9 1322.6,730.5 1319.3,723.1 C1315.9,715.7 1310.9,703.7 1313.2,703.0Z" fill="#00FF28" />
<path d="M1291.6,680.7 L1301.7,679.9" stroke="#00FFE6" stroke-width="1.6" stroke-linecap="round" opacity="1.0"/>
<path d="M1500.5,571.1 L1494.0,577.5" stroke="#00FFE6" stroke-width="1.6" stroke-linecap="round" opacity="1.0"/>
<path d="M1311.8,590.6 L1318.4,594.5" stroke="#00FFE6" stroke-width="1.6" stroke-linecap="round" opacity="1.0"/>
<path d="M1388.3,810.7 L1390.3,805.3" stroke="#00FFE6" stroke-width="1.6" stroke-linecap="round" opacity="1.0"/>
<path d="M1390.0,824.5 L1399.8,814.9" stroke="#00FFE6" stroke-width="1.6" stroke-linecap="round" opacity="1.0"/>
<path d="M1457.7,550.2 L1453.0,557.3" stroke="#00FFE6" stroke-width="1.6" stroke-linecap="round" opacity="1.0"/>
<path d="M1448.3,837.2 L1447.2,830.0" stroke="#00FFE6" stroke-width="1.6" stroke-linecap="round" opacity="1.0"/>
<path d="M1287.3,631.0 L1296.2,638.5" stroke="#00FFE6" stroke-width="1.6" stroke-linecap="round" opacity="1.0"/>
<path d="M1352.0,798.4 L1360.4,788.6" stroke="#00FFE6" stroke-width="1.6" stroke-linecap="round" opacity="1.0"/>
<path d="M1408.0,556.9 L1409.4,562.3" stroke="#00FFE6" stroke-width="1.6" stroke-linecap="round" opacity="1.0"/>
<path d="M1385.2,813.6 L1393.9,804.7" stroke="#00FFE6" stroke-width="1.6" stroke-linecap="round" opacity="1.0"/>
<path d="M1454.2,815.8 L1451.1,809.9" stroke="#00FFE6" stroke-width="1.6" stroke-linecap="round" opacity="1.0"/>
<path d="M1410.2,548.4 L1418.6,559.5" stroke="#00FFE6" stroke-width="1.6" stroke-linecap="round" opacity="1.0"/>
<path d="M1303.8,656.9 L1316.4,658.2" stroke="#00FFE6" stroke-width="1.6" stroke-linecap="round" opacity="1.0"/>
<path d="M1441.5,830.9 L1434.8,819.8" stroke="#00FFE6" stroke-width="1.6" stroke-linecap="round" opacity="1.0"/>
<path d="M1451.9,839.0 L1447.5,831.3" stroke="#00FFE6" stroke-width="1.6" stroke-linecap="round" opacity="1.0"/>
<path d="M1574.1,620.9 L1567.5,626.9" stroke="#00FFE6" stroke-width="1.6" stroke-linecap="round" opacity="1.0"/>
<path d="M1580.5,711.0 L1569.5,706.2" stroke="#00FFE6" stroke-width="1.6" stroke-linecap="round" opacity="1.0"/>
<path d="M1383.0,556.7 L1385.2,564.0" stroke="#00FFE6" stroke-width="1.6" stroke-linecap="round" opacity="1.0"/>
<path d="M1471.3,549.3 L1469.8,558.9" stroke="#00FFE6" stroke-width="1.6" stroke-linecap="round" opacity="1.0"/>
<path d="M1501.4,546.2 L1495.4,550.8" stroke="#00FFE6" stroke-width="1.6" stroke-linecap="round" opacity="1.0"/>
<path d="M1486.9,556.7 L1482.9,562.8" stroke="#00FFE6" stroke-width="1.6" stroke-linecap="round" opacity="1.0"/>
<path d="M1292.8,647.5 L1303.1,657.1" stroke="#00FFE6" stroke-width="1.6" stroke-linecap="round" opacity="1.0"/>
<path d="M1391.6,548.8 L1395.9,553.7" stroke="#00FFE6" stroke-width="1.6" stroke-linecap="round" opacity="1.0"/>
<path d="M1491.2,563.2 L1488.5,574.0" stroke="#00FFE6" stroke-width="1.6" stroke-linecap="round" opacity="1.0"/>
<path d="M1465.7,830.3 L1461.7,825.1" stroke="#00FFE6" stroke-width="1.6" stroke-linecap="round" opacity="1.0"/>
<path d="M1572.9,682.1 L1564.9,680.0" stroke="#00FFE6" stroke-width="1.6" stroke-linecap="round" opacity="1.0"/>
<path d="M1469.5,832.6 L1469.4,825.5" stroke="#00FFE6" stroke-width="1.6" stroke-linecap="round" opacity="1.0"/>
<path d="M1434.5,554.2 L1431.5,562.2" stroke="#00FFE6" stroke-width="1.6" stroke-linecap="round" opacity="1.0"/>
<path d="M1292.3,693.7 L1297.5,691.5" stroke="#00FFE6" stroke-width="1.6" stroke-linecap="round" opacity="1.0"/>
<path d="M1391.7,686.9 C1393.0,684.2 1397.7,681.5 1399.7,682.9 C1401.7,684.2 1404.1,691.3 1403.7,695.0 C1403.4,698.6 1399.7,704.3 1397.7,705.0 C1395.7,705.7 1392.7,702.0 1391.7,699.0 C1390.7,696.0 1390.3,689.6 1391.7,686.9Z" fill="#00B8FF" />
<path d="M1394.7,688.9 C1395.2,687.1 1397.9,686.6 1398.7,687.9 C1399.5,689.3 1400.2,695.1 1399.7,697.0 C1399.2,698.8 1396.5,700.3 1395.7,699.0 C1394.9,697.6 1394.2,690.8 1394.7,688.9Z" fill="#0066FF" />
<path d="M1429.9,699.0 C1431.2,695.6 1438.6,692.6 1439.9,695.0 C1441.3,697.3 1439.3,709.7 1437.9,713.1 C1436.6,716.4 1433.2,717.4 1431.9,715.1 C1430.6,712.7 1428.5,702.3 1429.9,699.0Z" fill="#00B8FF" />
<path d="M1363.5,711.0 C1364.8,708.9 1371.9,707.4 1373.6,709.0 C1375.2,710.7 1374.9,718.9 1373.6,721.1 C1372.2,723.3 1367.2,723.8 1365.5,722.1 C1363.8,720.4 1362.2,713.2 1363.5,711.0Z" fill="#00FFE6" />
<path d="M1417.8,727.1 C1419.3,724.6 1426.2,723.1 1427.9,725.1 C1429.5,727.1 1429.4,736.7 1427.9,739.2 C1426.4,741.7 1420.5,742.2 1418.8,740.2 C1417.1,738.2 1416.3,729.6 1417.8,727.1Z" fill="#00FFE6" />
<path d="M1480.2,715.1 C1481.7,712.4 1488.9,715.4 1490.2,719.1 C1491.6,722.8 1489.7,734.5 1488.2,737.2 C1486.7,739.9 1482.5,738.9 1481.2,735.2 C1479.8,731.5 1478.7,717.7 1480.2,715.1Z" fill="#00FFE6" />
<path d="M1399.7,717.1 C1401.1,715.1 1406.8,715.1 1407.8,717.1 C1408.8,719.1 1407.1,727.1 1405.7,729.1 C1404.4,731.2 1400.7,731.2 1399.7,729.1 C1398.7,727.1 1398.4,719.1 1399.7,717.1Z" fill="#00FFE6" />
<path d="M1301.2,606.5 C1302.8,600.4 1310.9,598.4 1313.2,602.4 C1315.6,606.5 1316.9,624.6 1315.2,630.6 C1313.6,636.6 1305.5,642.7 1303.2,638.6 C1300.8,634.6 1299.5,612.5 1301.2,606.5Z" fill="#66FF00" />
<path d="M1526.4,777.4 C1528.1,775.1 1534.1,773.1 1538.5,773.4 C1542.9,773.7 1552.6,777.1 1552.6,779.4 C1552.6,781.8 1542.5,786.1 1538.5,787.5 C1534.5,788.8 1530.4,789.1 1528.4,787.5 C1526.4,785.8 1524.7,779.8 1526.4,777.4Z" fill="#CCFF00" />
<path d="M1532.5,782.4 L1552.6,781.0" fill="none" stroke="#FF0000" stroke-width="2.0" stroke-linejoin="round" stroke-linecap="round" />
<path d="M1312.2,620.5 L1326.3,622.5 L1345.4,678.9 L1371.6,709.0 L1395.7,701.0 L1406.8,715.1 L1425.9,722.1 L1433.9,717.1 L1484.2,741.2 L1530.4,763.3 L1536.5,777.4" fill="none" stroke="#1a1a1a" stroke-width="2.4" stroke-linejoin="round" stroke-linecap="round" />
<path d="M1345.4,678.9 L1340.4,684.9" fill="none" stroke="#1a1a1a" stroke-width="2.0" stroke-linejoin="round" stroke-linecap="round" />
<rect x="1278.0" y="529.7" width="309.8" height="311.6" fill="url(#dots)"/>
</g>
<ellipse cx="1432.9" cy="685.5" rx="154.9" ry="155.8" fill="none" stroke="#3a3a3a" stroke-width="1.5"/>
<clipPath id="c13"><ellipse cx="310.4" cy="1116.5" rx="154.3" ry="154.9"/></clipPath>
<g clip-path="url(#c13)">
<ellipse cx="310.4" cy="1116.5" rx="156.3" ry="156.9" fill="#00FF28"/>
<path d="M469,1116L469,1121L469,1126L468,1131L468,1136L467,1141L466,1146L465,1151L464,1156L463,1161L461,1166L460,1170L458,1175L456,1180L454,1184L452,1189L450,1193L447,1197L444,1202L442,1206L439,1210L436,1214L433,1218L429,1222L426,1225L423,1229L419,1232L415,1236L412,1239L408,1242L404,1245L400,1248L395,1251L391,1253L387,1256L382,1258L378,1260L373,1262L369,1264L364,1266L359,1268L355,1269L350,1270L345,1272L340,1273L335,1273L330,1274L325,1275L320,1275L315,1275L310,1275L305,1275L300,1275L295,1275L290,1274L285,1273L281,1273L276,1272L271,1270L266,1269L261,1268L256,1266L252,1264L247,1262L243,1260L238,1258L234,1256L229,1253L225,1251L221,1248L217,1245L213,1242L209,1239L205,1236L202,1232L198,1229L194,1225L191,1222L188,1218L185,1214L182,1210L179,1206L176,1202L174,1197L171,1193L169,1189L167,1184L164,1180L163,1175L161,1170L159,1166L158,1161L156,1156L155,1151L154,1146L153,1141L153,1136L152,1131L152,1126L151,1121L151,1116L151,1111L152,1107L152,1102L153,1097L153,1092L154,1087L155,1082L156,1077L158,1072L159,1067L161,1063L163,1058L164,1053L167,1049L169,1044L171,1040L174,1036L176,1031L179,1027L182,1023L185,1019L188,1015L191,1011L194,1008L198,1004L202,1001L205,997L209,994L213,991L217,988L221,985L225,982L229,980L234,977L238,975L243,973L247,971L252,969L256,967L261,965L266,964L271,963L276,961L281,960L285,960L290,959L295,958L300,958L305,958L310,958L315,958L320,958L325,958L330,959L335,960L340,960L345,961L350,963L355,964L359,965L364,967L369,969L373,971L378,973L382,975L387,977L391,980L395,982L400,985L404,988L408,991L412,994L415,997L419,1001L423,1004L426,1008L429,1011L433,1015L436,1019L439,1023L442,1027L444,1031L447,1036L450,1040L452,1044L454,1049L456,1053L458,1058L460,1063L461,1067L463,1072L464,1077L465,1082L466,1087L467,1092L468,1097L468,1102L469,1107L469,1111Z" fill="#66FF00"/>
<path d="M459,1116L462,1121L463,1126L461,1131L458,1135L457,1140L459,1145L461,1150L460,1155L458,1159L457,1164L457,1169L456,1174L453,1178L448,1181L445,1185L445,1190L446,1197L445,1202L441,1205L436,1208L432,1211L430,1216L428,1220L424,1223L419,1225L415,1228L413,1233L410,1237L405,1239L400,1239L395,1241L392,1245L389,1250L386,1255L382,1257L376,1257L371,1256L366,1257L361,1257L357,1259L353,1263L349,1266L344,1269L339,1269L334,1268L329,1267L325,1267L320,1269L315,1271L310,1272L305,1272L301,1271L296,1268L292,1264L287,1263L282,1265L276,1268L271,1270L266,1268L262,1264L258,1262L252,1263L247,1263L242,1261L240,1254L238,1248L233,1246L226,1249L219,1251L214,1249L211,1244L210,1238L207,1233L204,1230L201,1226L197,1223L193,1220L189,1217L187,1212L188,1205L190,1199L189,1194L184,1191L178,1189L174,1186L173,1181L172,1176L169,1172L163,1169L159,1166L157,1161L157,1156L156,1151L152,1147L150,1142L153,1136L158,1131L162,1126L162,1121L158,1116L155,1112L155,1107L157,1102L159,1097L159,1093L159,1088L159,1083L161,1078L163,1074L165,1069L166,1065L166,1059L166,1054L167,1049L169,1045L173,1041L177,1038L180,1034L182,1029L184,1024L187,1021L191,1018L195,1015L198,1011L201,1007L204,1003L208,1001L213,998L216,995L218,990L222,986L226,984L233,985L239,986L243,984L246,979L248,973L252,970L258,970L263,972L269,973L273,971L277,969L282,968L287,969L292,968L296,965L301,961L305,959L310,960L315,964L320,966L325,965L330,961L335,961L339,964L343,970L347,973L353,971L359,967L364,967L368,970L371,976L375,979L380,980L385,980L390,982L394,984L399,986L403,989L406,993L408,999L410,1004L413,1007L418,1009L424,1010L428,1013L432,1016L437,1019L442,1021L446,1024L448,1029L447,1036L447,1041L449,1046L452,1050L455,1054L456,1059L457,1064L458,1068L460,1073L462,1078L462,1083L462,1087L463,1092L464,1097L462,1102L460,1107L458,1112Z" fill="#00FF28"/>
<path d="M447,1116L447,1121L447,1125L447,1129L448,1134L448,1138L446,1142L442,1146L438,1149L438,1153L441,1159L444,1165L445,1170L441,1173L436,1176L431,1178L429,1182L427,1186L424,1189L421,1191L417,1194L416,1198L414,1202L412,1206L409,1209L406,1212L405,1217L404,1222L401,1226L397,1228L391,1228L387,1229L384,1232L381,1236L376,1237L371,1236L367,1236L363,1239L361,1244L358,1248L354,1251L349,1251L344,1250L340,1248L335,1249L332,1252L328,1257L324,1262L320,1263L315,1259L310,1253L306,1249L302,1250L297,1254L293,1256L288,1255L285,1250L281,1247L277,1247L272,1249L267,1250L263,1247L260,1243L257,1240L253,1238L249,1237L245,1236L240,1235L236,1233L233,1231L230,1227L228,1223L225,1219L221,1217L216,1216L212,1215L209,1211L208,1207L207,1202L207,1197L206,1193L204,1189L201,1186L196,1184L189,1183L184,1181L183,1176L186,1170L188,1165L187,1161L182,1158L178,1155L177,1151L178,1146L179,1141L177,1138L174,1134L172,1130L174,1125L177,1121L177,1116L173,1112L169,1108L168,1103L171,1099L176,1095L181,1092L181,1088L180,1083L179,1078L179,1074L180,1069L180,1065L180,1060L182,1056L187,1053L192,1051L194,1048L193,1042L192,1036L194,1032L200,1031L207,1031L210,1028L211,1023L211,1018L215,1015L221,1016L226,1015L228,1010L228,1004L231,999L236,1000L243,1003L248,1003L250,999L251,991L253,985L258,983L263,984L268,985L272,983L276,982L280,983L285,985L290,987L294,986L298,983L302,980L306,978L310,977L315,978L319,979L323,981L327,982L332,982L336,982L341,981L345,982L348,985L352,988L356,990L361,989L366,988L370,989L373,993L376,997L379,1001L383,1002L388,1002L393,1003L398,1004L401,1007L403,1011L404,1017L404,1023L405,1028L407,1031L411,1033L417,1034L421,1036L424,1039L424,1044L424,1050L424,1054L428,1056L434,1058L440,1060L443,1064L445,1068L444,1073L443,1078L443,1082L443,1087L442,1091L442,1096L441,1100L441,1104L443,1108L445,1112Z" fill="#00FF88"/>
<path d="M180.2,1084.7 C181.8,1074.6 185.2,1069.6 190.2,1064.6 C195.3,1059.6 202.3,1055.9 210.3,1054.5 C218.4,1053.2 232.5,1052.2 238.5,1056.5 C244.5,1060.9 245.9,1073.3 246.5,1080.7 C247.2,1088.1 241.8,1094.8 242.5,1100.8 C243.2,1106.8 245.9,1110.8 250.6,1116.9 C255.3,1122.9 264.0,1131.0 270.7,1137.0 C277.4,1143.0 284.8,1147.1 290.8,1153.1 C296.8,1159.1 303.5,1171.9 306.9,1173.2 C310.2,1174.5 308.2,1163.1 310.9,1161.1 C313.6,1159.1 319.6,1164.5 323.0,1161.1 C326.3,1157.8 327.7,1146.0 331.0,1141.0 C334.4,1136.0 343.1,1135.7 343.1,1131.0 C343.1,1126.3 332.4,1119.9 331.0,1112.9 C329.7,1105.8 335.7,1095.4 335.0,1088.7 C334.4,1082.0 331.7,1077.3 327.0,1072.6 C322.3,1067.9 310.9,1065.3 306.9,1060.6 C302.9,1055.9 305.5,1053.9 302.9,1044.5 C300.2,1035.1 289.5,1012.3 290.8,1004.2 C292.1,996.2 300.8,997.2 310.9,996.2 C321.0,995.2 339.4,996.2 351.1,998.2 C362.9,1000.2 371.9,1003.9 381.3,1008.3 C390.7,1012.6 399.7,1017.3 407.4,1024.4 C415.2,1031.4 422.9,1041.1 427.6,1050.5 C432.3,1059.9 433.9,1068.9 435.6,1080.7 C437.3,1092.4 438.3,1107.5 437.6,1120.9 C436.9,1134.3 434.9,1148.4 431.6,1161.1 C428.2,1173.9 424.2,1187.3 417.5,1197.3 C410.8,1207.4 402.4,1214.1 391.4,1221.5 C380.3,1228.8 364.5,1237.6 351.1,1241.6 C337.7,1245.6 324.3,1246.3 310.9,1245.6 C297.5,1244.9 283.4,1241.9 270.7,1237.6 C257.9,1233.2 245.2,1226.8 234.5,1219.5 C223.7,1212.1 214.0,1203.0 206.3,1193.3 C198.6,1183.6 192.6,1172.5 188.2,1161.1 C183.9,1149.7 181.5,1137.7 180.2,1124.9 C178.8,1112.2 178.5,1094.8 180.2,1084.7Z" fill="#00FFE6" />
<path d="M214.4,1008.3 C218.4,1004.6 234.5,1001.2 240.5,1004.2 C246.5,1007.3 252.2,1021.0 250.6,1026.4 C248.9,1031.7 236.2,1036.4 230.5,1036.4 C224.8,1036.4 219.1,1031.1 216.4,1026.4 C213.7,1021.7 210.3,1012.0 214.4,1008.3Z" fill="#00FFE6" />
<path d="M258.6,996.2 C260.6,993.9 271.3,992.5 274.7,994.2 C278.1,995.9 280.7,1003.9 278.7,1006.3 C276.7,1008.6 266.0,1009.9 262.6,1008.3 C259.3,1006.6 256.6,998.6 258.6,996.2Z" fill="#00FFE6" />
<path d="M351.1,1072.6 C351.5,1068.6 361.2,1061.2 361.2,1056.5 C361.2,1051.8 351.1,1047.8 351.1,1044.5 C351.1,1041.1 356.2,1038.8 361.2,1036.4 C366.2,1034.1 376.3,1029.1 381.3,1030.4 C386.3,1031.7 389.0,1039.4 391.4,1044.5 C393.7,1049.5 396.1,1055.9 395.4,1060.6 C394.7,1065.3 386.3,1069.3 387.3,1072.6 C388.3,1076.0 398.1,1076.7 401.4,1080.7 C404.8,1084.7 404.8,1092.4 407.4,1096.8 C410.1,1101.1 415.5,1102.8 417.5,1106.8 C419.5,1110.8 420.5,1116.9 419.5,1120.9 C418.5,1124.9 413.1,1126.9 411.5,1131.0 C409.8,1135.0 410.8,1140.7 409.5,1145.0 C408.1,1149.4 406.4,1154.4 403.4,1157.1 C400.4,1159.8 394.7,1157.1 391.4,1161.1 C388.0,1165.2 387.3,1175.2 383.3,1181.2 C379.3,1187.3 372.6,1194.0 367.2,1197.3 C361.9,1200.7 355.8,1202.7 351.1,1201.4 C346.4,1200.0 341.4,1194.0 339.1,1189.3 C336.7,1184.6 335.0,1176.9 337.1,1173.2 C339.1,1169.5 346.8,1170.5 351.1,1167.2 C355.5,1163.8 359.8,1158.1 363.2,1153.1 C366.6,1148.1 369.2,1142.4 371.2,1137.0 C373.3,1131.6 375.3,1126.9 375.3,1120.9 C375.3,1114.9 371.9,1106.8 371.2,1100.8 C370.6,1094.8 373.3,1088.1 371.2,1084.7 C369.2,1081.3 362.5,1082.7 359.2,1080.7 C355.8,1078.7 350.8,1076.7 351.1,1072.6Z" fill="#00B8FF" />
<path d="M262.6,1197.3 C262.0,1193.3 267.3,1188.6 270.7,1189.3 C274.0,1190.0 282.1,1197.3 282.7,1201.4 C283.4,1205.4 278.1,1214.1 274.7,1213.4 C271.3,1212.8 263.3,1201.4 262.6,1197.3Z" fill="#00B8FF" />
<path d="M284.8,1201.4 C286.1,1198.7 294.5,1197.7 296.8,1199.3 C299.2,1201.0 300.2,1208.7 298.8,1211.4 C297.5,1214.1 291.1,1217.1 288.8,1215.4 C286.4,1213.8 283.4,1204.0 284.8,1201.4Z" fill="#00B8FF" />
<path d="M302.9,1199.3 C304.5,1195.7 313.3,1194.3 314.9,1197.3 C316.6,1200.4 314.6,1213.8 312.9,1217.4 C311.2,1221.1 306.5,1222.5 304.9,1219.5 C303.2,1216.4 301.2,1203.0 302.9,1199.3Z" fill="#00B8FF" />
<path d="M321.0,1209.4 C322.0,1208.1 326.0,1209.7 327.0,1211.4 C328.0,1213.1 328.0,1218.1 327.0,1219.5 C326.0,1220.8 322.0,1221.1 321.0,1219.5 C320.0,1217.8 320.0,1210.7 321.0,1209.4Z" fill="#00B8FF" />
<path d="M206.3,1169.2 C207.7,1166.8 214.4,1165.5 216.4,1167.2 C218.4,1168.8 219.7,1176.9 218.4,1179.2 C217.0,1181.6 210.3,1182.9 208.3,1181.2 C206.3,1179.6 205.0,1171.5 206.3,1169.2Z" fill="#00B8FF" />
<path d="M333.0,1026.4 C335.4,1024.4 347.4,1020.0 351.1,1020.3 C354.8,1020.7 357.5,1026.4 355.2,1028.4 C352.8,1030.4 340.7,1032.7 337.1,1032.4 C333.4,1032.1 330.7,1028.4 333.0,1026.4Z" fill="#00B8FF" />
<path d="M246.5,1036.4 C248.6,1033.7 255.3,1041.8 262.6,1044.5 C270.0,1047.2 284.1,1047.8 290.8,1052.5 C297.5,1057.2 296.2,1067.3 302.9,1072.6 C309.6,1078.0 326.3,1076.7 331.0,1084.7 C335.7,1092.7 329.0,1113.2 331.0,1120.9 C333.0,1128.6 343.1,1126.9 343.1,1131.0 C343.1,1135.0 334.4,1140.0 331.0,1145.0 C327.7,1150.1 326.3,1156.4 323.0,1161.1 C319.6,1165.8 314.3,1174.9 310.9,1173.2 C307.6,1171.5 306.2,1156.4 302.9,1151.1 C299.5,1145.7 297.5,1144.0 290.8,1141.0 C284.1,1138.0 270.3,1137.0 262.6,1133.0 C254.9,1129.0 245.9,1122.2 244.5,1116.9 C243.2,1111.5 251.6,1106.8 254.6,1100.8 C257.6,1094.8 263.3,1087.4 262.6,1080.7 C262.0,1074.0 253.2,1067.9 250.6,1060.6 C247.9,1053.2 244.5,1039.1 246.5,1036.4Z" fill="#00FF88" />
<path d="M254.6,1052.5 L280.7,1072.6 L290.8,1096.8 L310.9,1088.7 L327.0,1084.7 L314.9,1112.9 L331.0,1131.0 L310.9,1133.0 L314.9,1157.1 L298.8,1137.0 L270.7,1133.0 L254.6,1137.0 L278.7,1116.9 L270.7,1100.8Z" fill="#00FF28" />
<path d="M274.7,1104.8 C276.7,1102.1 284.1,1098.4 290.8,1100.8 C297.5,1103.1 310.6,1113.9 314.9,1118.9 C319.3,1123.9 319.0,1129.0 316.9,1131.0 C314.9,1133.0 309.2,1133.3 302.9,1131.0 C296.5,1128.6 283.4,1121.2 278.7,1116.9 C274.0,1112.5 272.7,1107.5 274.7,1104.8Z" fill="#66FF00" />
<path d="M262.6,1052.5 L282.7,1058.6" fill="none" stroke="#CCFF00" stroke-width="3.2" stroke-linejoin="round" stroke-linecap="round" />
<path d="M278.7,1116.9 L282.7,1133.0" fill="none" stroke="#CCFF00" stroke-width="2.4" stroke-linejoin="round" stroke-linecap="round" />
<path d="M288.8,1112.9 L308.9,1124.9" fill="none" stroke="#FFCC00" stroke-width="6.4" stroke-linejoin="round" stroke-linecap="round" />
<path d="M290.8,1113.9 L308.9,1124.9" fill="none" stroke="#FF0000" stroke-width="3.6" stroke-linejoin="round" stroke-linecap="round" />
<path d="M435.6,1149.1 L439.6,1173.2" fill="none" stroke="#CCFF00" stroke-width="4.0" stroke-linejoin="round" stroke-linecap="round" />
<path d="M451.7,1112.9 L459.7,1133.0" fill="none" stroke="#CCFF00" stroke-width="3.2" stroke-linejoin="round" stroke-linecap="round" />
<path d="M186.2,1169.2 L188.2,1185.3" fill="none" stroke="#CCFF00" stroke-width="2.4" stroke-linejoin="round" stroke-linecap="round" />
<path d="M262.6,1255.7 L286.8,1261.7" fill="none" stroke="#CCFF00" stroke-width="2.4" stroke-linejoin="round" stroke-linecap="round" />
<path d="M189.2,1019.3 L196.3,1020.3 L204.3,1026.4 L210.3,1036.4" fill="none" stroke="#9a9a9a" stroke-width="3.0" stroke-linejoin="round" stroke-linecap="round" />
<path d="M210.3,1036.4 L222.4,1044.5 L250.6,1048.5 L254.6,1054.5 L270.7,1100.8 L282.7,1104.8 L290.8,1112.9" fill="none" stroke="#1a1a1a" stroke-width="2.4" stroke-linejoin="round" stroke-linecap="round" />
<rect x="156.1" y="961.6" width="308.6" height="309.8" fill="url(#dots)"/>
</g>
<ellipse cx="310.4" cy="1116.5" rx="154.3" ry="154.9" fill="none" stroke="#3a3a3a" stroke-width="1.5"/>
<clipPath id="c14"><ellipse cx="682.4" cy="1118.4" rx="154.3" ry="155.3"/></clipPath>
<g clip-path="url(#c14)">
<ellipse cx="682.4" cy="1118.4" rx="156.3" ry="157.3" fill="#00FF28"/>
<path d="M841,1118L841,1123L841,1128L840,1133L840,1138L839,1143L838,1148L837,1153L836,1158L835,1163L833,1168L832,1172L830,1177L828,1182L826,1186L824,1191L822,1195L819,1199L816,1204L814,1208L811,1212L808,1216L805,1220L801,1224L798,1227L795,1231L791,1234L787,1238L784,1241L780,1244L776,1247L772,1250L767,1253L763,1255L759,1258L754,1260L750,1262L745,1264L741,1266L736,1268L731,1270L727,1271L722,1272L717,1274L712,1275L707,1275L702,1276L697,1277L692,1277L687,1277L682,1277L677,1277L672,1277L667,1277L662,1276L657,1275L653,1275L648,1274L643,1272L638,1271L633,1270L628,1268L624,1266L619,1264L615,1262L610,1260L606,1258L601,1255L597,1253L593,1250L589,1247L585,1244L581,1241L577,1238L574,1234L570,1231L566,1227L563,1224L560,1220L557,1216L554,1212L551,1208L548,1204L546,1199L543,1195L541,1191L539,1186L536,1182L535,1177L533,1172L531,1168L530,1163L528,1158L527,1153L526,1148L525,1143L525,1138L524,1133L524,1128L523,1123L523,1118L523,1114L524,1109L524,1104L525,1099L525,1094L526,1089L527,1084L528,1079L530,1074L531,1069L533,1065L535,1060L536,1055L539,1051L541,1046L543,1042L546,1038L548,1033L551,1029L554,1025L557,1021L560,1017L563,1013L566,1010L570,1006L574,1003L577,999L581,996L585,993L589,990L593,987L597,984L601,982L606,979L610,977L615,975L619,973L624,971L628,969L633,967L638,966L643,965L648,963L653,962L657,962L662,961L667,960L672,960L677,960L682,960L687,960L692,960L697,960L702,961L707,962L712,962L717,963L722,965L727,966L731,967L736,969L741,971L745,973L750,975L754,977L759,979L763,982L767,984L772,987L776,990L780,993L784,996L787,999L791,1003L795,1006L798,1010L801,1013L805,1017L808,1021L811,1025L814,1029L816,1033L819,1038L822,1042L824,1046L826,1051L828,1055L830,1060L832,1065L833,1069L835,1074L836,1079L837,1084L838,1089L839,1094L840,1099L840,1104L841,1109L841,1114Z" fill="#66FF00"/>
<path d="M838,1118L835,1123L834,1128L834,1133L836,1138L838,1143L837,1148L834,1153L831,1157L829,1161L830,1166L832,1172L832,1178L829,1182L824,1185L820,1188L817,1192L816,1197L815,1203L813,1207L809,1211L805,1214L802,1218L800,1222L796,1225L791,1227L786,1229L782,1232L781,1238L780,1244L776,1248L771,1249L765,1249L760,1250L756,1253L752,1256L748,1258L743,1259L738,1260L734,1262L730,1264L725,1266L721,1268L716,1270L712,1272L707,1273L702,1273L697,1272L692,1272L687,1271L682,1271L678,1271L673,1270L668,1269L664,1266L659,1264L655,1262L650,1264L644,1268L638,1272L633,1271L629,1267L625,1263L621,1261L615,1261L610,1260L607,1256L604,1251L601,1247L596,1245L592,1243L588,1240L585,1236L581,1233L575,1232L569,1232L566,1228L565,1222L564,1216L561,1212L556,1210L551,1208L548,1204L547,1198L545,1194L543,1190L541,1185L540,1180L539,1175L538,1170L536,1166L535,1161L537,1156L538,1151L536,1146L531,1142L526,1138L525,1133L529,1128L533,1123L532,1118L526,1114L521,1108L521,1103L525,1099L529,1094L529,1089L528,1084L529,1079L533,1075L538,1072L540,1067L539,1062L538,1056L539,1051L542,1047L546,1043L550,1040L554,1037L557,1034L560,1030L562,1026L565,1021L567,1017L569,1013L573,1009L576,1005L580,1003L584,1000L587,996L590,991L592,986L596,982L602,982L608,984L614,984L617,979L619,973L622,967L627,966L634,968L639,970L644,969L648,965L652,961L657,961L663,964L668,968L673,972L678,972L682,968L687,963L692,961L697,961L702,964L706,967L711,968L716,969L720,970L725,973L729,975L734,975L740,974L745,974L749,978L752,983L755,987L759,990L763,992L767,994L771,996L776,998L781,999L785,1002L787,1007L789,1012L793,1015L798,1016L804,1018L807,1022L807,1028L808,1033L812,1036L817,1039L822,1042L824,1046L824,1052L825,1057L828,1061L832,1065L833,1069L831,1075L828,1081L827,1086L830,1090L835,1094L839,1099L841,1103L842,1108L841,1114Z" fill="#00FF28"/>
<path d="M823,1118L821,1123L819,1127L818,1131L817,1136L816,1140L815,1144L815,1148L816,1153L818,1158L818,1163L815,1166L809,1169L803,1171L799,1173L800,1178L803,1185L805,1191L803,1195L797,1197L792,1198L790,1202L792,1210L794,1217L791,1221L784,1220L776,1218L771,1219L771,1225L771,1233L768,1237L762,1236L757,1236L754,1239L752,1245L749,1250L744,1249L737,1245L732,1244L729,1249L727,1257L724,1261L718,1259L712,1253L707,1250L703,1249L699,1250L695,1249L691,1249L687,1254L682,1261L678,1266L673,1265L669,1259L665,1254L661,1253L656,1255L652,1255L648,1252L644,1250L640,1250L635,1251L630,1251L627,1247L624,1242L621,1239L617,1237L613,1236L609,1233L605,1232L601,1231L596,1230L592,1227L592,1221L593,1214L591,1210L586,1209L579,1210L574,1208L572,1204L573,1198L572,1193L570,1190L567,1187L563,1184L560,1181L556,1178L553,1174L552,1170L553,1165L552,1161L549,1157L546,1153L545,1149L547,1144L549,1140L546,1136L540,1132L534,1128L533,1123L536,1118L540,1114L541,1110L541,1105L541,1101L544,1097L547,1093L550,1089L551,1085L551,1080L551,1076L552,1072L553,1067L554,1063L555,1059L557,1055L559,1051L561,1047L564,1043L568,1041L572,1038L575,1036L578,1032L580,1028L581,1024L583,1019L584,1014L587,1010L590,1007L595,1005L600,1005L604,1004L608,1002L612,1000L616,998L621,997L624,996L628,992L631,988L635,986L639,986L645,989L649,989L653,987L656,983L661,981L665,982L670,984L674,984L678,981L682,977L687,975L691,976L695,980L699,985L703,986L708,984L713,982L718,980L722,981L726,983L730,986L734,988L738,989L742,991L746,993L750,995L754,997L758,1000L761,1003L763,1007L766,1010L771,1011L775,1013L778,1017L779,1022L779,1028L780,1032L785,1034L791,1034L796,1036L799,1039L800,1044L802,1048L805,1051L808,1054L810,1059L810,1063L809,1068L809,1073L810,1077L812,1081L814,1085L816,1089L818,1093L820,1097L821,1101L822,1105L823,1110L823,1114Z" fill="#00FF88"/>
<path d="M553.2,1084.7 C554.8,1074.6 558.2,1069.6 563.2,1064.6 C568.3,1059.6 575.3,1055.9 583.3,1054.5 C591.4,1053.2 605.5,1052.2 611.5,1056.5 C617.5,1060.9 618.9,1073.3 619.5,1080.7 C620.2,1088.1 614.8,1094.8 615.5,1100.8 C616.2,1106.8 618.9,1110.8 623.6,1116.9 C628.3,1122.9 637.0,1131.0 643.7,1137.0 C650.4,1143.0 657.8,1147.1 663.8,1153.1 C669.8,1159.1 676.5,1171.9 679.9,1173.2 C683.2,1174.5 681.2,1163.1 683.9,1161.1 C686.6,1159.1 692.6,1164.5 696.0,1161.1 C699.3,1157.8 700.7,1146.0 704.0,1141.0 C707.4,1136.0 716.1,1135.7 716.1,1131.0 C716.1,1126.3 705.4,1119.9 704.0,1112.9 C702.7,1105.8 708.7,1095.4 708.0,1088.7 C707.4,1082.0 704.7,1077.3 700.0,1072.6 C695.3,1067.9 683.9,1065.3 679.9,1060.6 C675.9,1055.9 678.5,1053.9 675.9,1044.5 C673.2,1035.1 662.5,1012.3 663.8,1004.2 C665.1,996.2 673.8,997.2 683.9,996.2 C694.0,995.2 712.4,996.2 724.1,998.2 C735.9,1000.2 744.9,1003.9 754.3,1008.3 C763.7,1012.6 772.7,1017.3 780.4,1024.4 C788.2,1031.4 795.9,1041.1 800.6,1050.5 C805.3,1059.9 806.9,1068.9 808.6,1080.7 C810.3,1092.4 811.3,1107.5 810.6,1120.9 C809.9,1134.3 807.9,1148.4 804.6,1161.1 C801.2,1173.9 797.2,1187.3 790.5,1197.3 C783.8,1207.4 775.4,1214.1 764.4,1221.5 C753.3,1228.8 737.5,1237.6 724.1,1241.6 C710.7,1245.6 697.3,1246.3 683.9,1245.6 C670.5,1244.9 656.4,1241.9 643.7,1237.6 C630.9,1233.2 618.2,1226.8 607.5,1219.5 C596.7,1212.1 587.0,1203.0 579.3,1193.3 C571.6,1183.6 565.6,1172.5 561.2,1161.1 C556.9,1149.7 554.5,1137.7 553.2,1124.9 C551.8,1112.2 551.5,1094.8 553.2,1084.7Z" fill="#00FFE6" />
<path d="M587.4,1008.3 C591.4,1004.6 607.5,1001.2 613.5,1004.2 C619.5,1007.3 625.2,1021.0 623.6,1026.4 C621.9,1031.7 609.2,1036.4 603.5,1036.4 C597.8,1036.4 592.1,1031.1 589.4,1026.4 C586.7,1021.7 583.3,1012.0 587.4,1008.3Z" fill="#00FFE6" />
<path d="M631.6,996.2 C633.6,993.9 644.3,992.5 647.7,994.2 C651.1,995.9 653.7,1003.9 651.7,1006.3 C649.7,1008.6 639.0,1009.9 635.6,1008.3 C632.3,1006.6 629.6,998.6 631.6,996.2Z" fill="#00FFE6" />
<path d="M696.0,1036.4 C699.0,1030.4 709.4,1026.7 714.1,1024.4 C718.8,1022.0 722.5,1021.3 724.1,1022.4 C725.8,1023.4 726.1,1028.0 724.1,1030.4 C722.1,1032.7 714.7,1033.1 712.1,1036.4 C709.4,1039.8 707.7,1044.5 708.0,1050.5 C708.4,1056.5 714.7,1067.6 714.1,1072.6 C713.4,1077.7 707.0,1082.7 704.0,1080.7 C701.0,1078.7 697.3,1067.9 696.0,1060.6 C694.6,1053.2 693.0,1042.5 696.0,1036.4Z" fill="#00B8FF" />
<path d="M724.1,1044.5 C726.8,1040.8 734.2,1039.8 740.2,1038.4 C746.3,1037.1 756.3,1033.4 760.3,1036.4 C764.4,1039.4 763.4,1050.5 764.4,1056.5 C765.4,1062.6 767.7,1068.6 766.4,1072.6 C765.0,1076.7 761.3,1079.3 756.3,1080.7 C751.3,1082.0 741.9,1081.3 736.2,1080.7 C730.5,1080.0 724.1,1080.0 722.1,1076.7 C720.1,1073.3 723.8,1065.9 724.1,1060.6 C724.5,1055.2 721.4,1048.2 724.1,1044.5Z" fill="#00B8FF" />
<path d="M760.3,1096.8 C761.7,1095.1 768.4,1092.1 770.4,1092.7 C772.4,1093.4 773.7,1099.1 772.4,1100.8 C771.1,1102.5 764.4,1103.5 762.3,1102.8 C760.3,1102.1 759.0,1098.4 760.3,1096.8Z" fill="#00B8FF" />
<path d="M774.4,1116.9 C778.1,1114.2 782.5,1111.2 784.5,1112.9 C786.5,1114.5 788.2,1122.2 786.5,1126.9 C784.8,1131.6 778.8,1138.7 774.4,1141.0 C770.1,1143.4 762.3,1143.0 760.3,1141.0 C758.3,1139.0 760.0,1133.0 762.3,1129.0 C764.7,1124.9 770.7,1119.6 774.4,1116.9Z" fill="#00B8FF" />
<path d="M750.3,1169.2 C752.0,1167.8 760.3,1167.8 762.3,1169.2 C764.4,1170.5 764.0,1175.9 762.3,1177.2 C760.7,1178.6 754.3,1178.6 752.3,1177.2 C750.3,1175.9 748.6,1170.5 750.3,1169.2Z" fill="#00B8FF" />
<path d="M740.2,1187.3 C741.1,1185.3 743.6,1183.6 744.2,1185.3 C744.9,1186.9 745.1,1195.3 744.2,1197.3 C743.4,1199.3 739.9,1199.0 739.2,1197.3 C738.5,1195.7 739.4,1189.3 740.2,1187.3Z" fill="#00B8FF" />
<path d="M581.3,1173.2 C581.7,1171.9 590.0,1170.2 591.4,1171.2 C592.7,1172.2 591.0,1178.9 589.4,1179.2 C587.7,1179.6 581.0,1174.5 581.3,1173.2Z" fill="#00B8FF" />
<path d="M591.4,1161.1 C593.4,1159.1 602.8,1154.8 605.5,1155.1 C608.1,1155.4 609.5,1161.1 607.5,1163.1 C605.5,1165.2 596.1,1167.5 593.4,1167.2 C590.7,1166.8 589.4,1163.1 591.4,1161.1Z" fill="#00B8FF" />
<path d="M657.8,1205.4 C658.8,1203.7 664.5,1204.0 665.8,1205.4 C667.1,1206.7 666.8,1211.7 665.8,1213.4 C664.8,1215.1 661.1,1216.8 659.8,1215.4 C658.4,1214.1 656.8,1207.1 657.8,1205.4Z" fill="#00B8FF" />
<path d="M619.5,1036.4 C621.6,1033.7 628.3,1041.8 635.6,1044.5 C643.0,1047.2 657.1,1047.8 663.8,1052.5 C670.5,1057.2 669.2,1067.3 675.9,1072.6 C682.6,1078.0 697.3,1078.0 704.0,1084.7 C710.7,1091.4 711.4,1105.1 716.1,1112.9 C720.8,1120.6 732.2,1125.6 732.2,1131.0 C732.2,1136.3 720.8,1138.7 716.1,1145.0 C711.4,1151.4 707.4,1163.1 704.0,1169.2 C700.7,1175.2 700.0,1182.6 696.0,1181.2 C692.0,1179.9 685.2,1165.8 679.9,1161.1 C674.5,1156.4 671.2,1157.1 663.8,1153.1 C656.4,1149.1 643.3,1143.0 635.6,1137.0 C627.9,1131.0 618.9,1122.9 617.5,1116.9 C616.2,1110.8 624.6,1106.8 627.6,1100.8 C630.6,1094.8 636.3,1087.4 635.6,1080.7 C635.0,1074.0 626.2,1067.9 623.6,1060.6 C620.9,1053.2 617.5,1039.1 619.5,1036.4Z" fill="#00FF88" />
<path d="M627.6,1052.5 L653.7,1072.6 L667.8,1100.8 L687.9,1100.8 L704.0,1092.7 L700.0,1120.9 L720.1,1133.0 L700.0,1141.0 L698.0,1169.2 L683.9,1145.0 L651.7,1133.0 L631.6,1137.0 L655.7,1120.9 L643.7,1100.8Z" fill="#00FF28" />
<path d="M679.9,1116.9 C681.6,1113.2 687.9,1110.8 692.0,1112.9 C696.0,1114.9 703.3,1124.3 704.0,1129.0 C704.7,1133.6 699.7,1140.0 696.0,1141.0 C692.3,1142.0 684.6,1139.0 681.9,1135.0 C679.2,1131.0 678.2,1120.6 679.9,1116.9Z" fill="#66FF00" />
<path d="M687.9,1112.9 L692.0,1124.9" fill="none" stroke="#CCFF00" stroke-width="2.4" stroke-linejoin="round" stroke-linecap="round" />
<path d="M694.0,1131.0 L710.1,1133.0" fill="none" stroke="#CCFF00" stroke-width="4.8" stroke-linejoin="round" stroke-linecap="round" />
<path d="M696.0,1131.4 L708.0,1132.6" fill="none" stroke="#FFCC00" stroke-width="2.0" stroke-linejoin="round" stroke-linecap="round" />
<path d="M635.6,1054.5 L655.7,1060.6" fill="none" stroke="#CCFF00" stroke-width="3.2" stroke-linejoin="round" stroke-linecap="round" />
<path d="M651.7,1120.9 L655.7,1133.0" fill="none" stroke="#CCFF00" stroke-width="2.4" stroke-linejoin="round" stroke-linecap="round" />
<path d="M808.6,1161.1 L810.6,1173.2" fill="none" stroke="#CCFF00" stroke-width="3.2" stroke-linejoin="round" stroke-linecap="round" />
<path d="M561.2,1022.4 L569.3,1024.4 L577.3,1030.4 L581.3,1038.4" fill="none" stroke="#9a9a9a" stroke-width="3.0" stroke-linejoin="round" stroke-linecap="round" />
<path d="M581.3,1038.4 L593.4,1046.5 L623.6,1050.5 L625.6,1056.5 L641.7,1103.8 L653.7,1107.8 L682.9,1126.9" fill="none" stroke="#1a1a1a" stroke-width="2.4" stroke-linejoin="round" stroke-linecap="round" />
<rect x="528.1" y="963.1" width="308.6" height="310.6" fill="url(#dots)"/>
</g>
<ellipse cx="682.4" cy="1118.4" rx="154.3" ry="155.3" fill="none" stroke="#3a3a3a" stroke-width="1.5"/>
<clipPath id="c15"><ellipse cx="1060.7" cy="1119.9" rx="153.1" ry="154.9"/></clipPath>
<g clip-path="url(#c15)">
<ellipse cx="1060.7" cy="1119.9" rx="155.1" ry="156.9" fill="#00FFE6"/>
<path d="M1201,1120L1202,1124L1203,1129L1204,1133L1206,1138L1206,1143L1201,1147L1193,1150L1187,1152L1188,1157L1195,1163L1201,1170L1200,1175L1192,1177L1184,1178L1180,1181L1180,1185L1178,1190L1175,1192L1171,1195L1170,1199L1173,1207L1176,1215L1176,1222L1173,1225L1166,1226L1159,1225L1152,1224L1146,1223L1142,1225L1141,1230L1140,1237L1139,1243L1135,1246L1130,1246L1123,1243L1118,1241L1113,1242L1111,1246L1108,1252L1106,1259L1102,1262L1097,1261L1092,1259L1087,1259L1083,1263L1080,1269L1075,1271L1070,1268L1065,1261L1061,1257L1056,1256L1052,1257L1048,1258L1043,1256L1039,1255L1035,1255L1031,1254L1027,1252L1023,1249L1019,1249L1013,1253L1006,1257L1002,1257L1000,1249L1000,1239L999,1232L994,1232L987,1236L979,1241L973,1241L969,1238L968,1232L968,1225L968,1219L966,1215L962,1213L957,1212L952,1210L949,1207L947,1203L945,1199L942,1195L939,1192L937,1188L935,1184L934,1180L931,1176L928,1172L924,1169L920,1166L918,1161L920,1156L923,1151L926,1146L925,1141L918,1138L912,1134L912,1129L918,1124L927,1120L931,1116L928,1112L920,1107L916,1102L916,1097L919,1093L921,1089L921,1084L923,1080L928,1077L935,1075L939,1072L940,1068L939,1062L937,1057L937,1052L938,1047L940,1043L944,1041L949,1039L953,1037L955,1033L956,1027L957,1022L961,1020L967,1020L972,1019L973,1014L973,1007L974,1001L979,999L985,1000L990,1000L993,996L995,991L998,986L1002,984L1007,985L1013,988L1019,991L1024,993L1028,991L1031,985L1034,978L1038,974L1043,976L1047,980L1052,982L1056,979L1061,975L1065,973L1070,975L1074,979L1078,979L1083,976L1088,975L1092,980L1094,989L1097,995L1102,991L1111,981L1119,974L1123,976L1122,989L1121,1002L1122,1008L1129,1004L1137,999L1142,1000L1142,1008L1141,1016L1145,1018L1153,1015L1162,1012L1165,1016L1164,1023L1163,1030L1166,1033L1172,1034L1175,1037L1175,1042L1173,1048L1176,1052L1183,1053L1190,1054L1191,1059L1187,1065L1185,1071L1189,1074L1196,1076L1203,1079L1205,1083L1203,1088L1201,1093L1200,1098L1198,1103L1196,1107L1196,1111L1198,1116Z" fill="#00FF88"/>
<path d="M1172,1120L1171,1123L1179,1127L1190,1132L1195,1137L1192,1141L1183,1143L1175,1145L1169,1148L1163,1150L1156,1151L1153,1153L1157,1158L1164,1165L1171,1172L1173,1177L1171,1180L1168,1184L1166,1187L1162,1189L1156,1189L1149,1189L1146,1191L1147,1196L1147,1201L1144,1204L1138,1202L1131,1200L1129,1202L1130,1209L1132,1219L1132,1225L1129,1227L1123,1225L1117,1222L1113,1223L1111,1227L1109,1233L1106,1234L1100,1230L1094,1223L1090,1220L1088,1226L1087,1236L1084,1243L1080,1242L1076,1238L1072,1236L1068,1240L1065,1244L1061,1245L1057,1240L1053,1236L1050,1236L1046,1237L1042,1236L1039,1231L1037,1227L1033,1226L1029,1228L1025,1230L1021,1230L1016,1232L1010,1236L1003,1242L997,1245L994,1242L992,1236L990,1231L989,1225L989,1219L990,1211L990,1205L987,1204L982,1204L978,1202L978,1197L979,1192L976,1190L969,1191L963,1191L962,1187L964,1181L963,1178L955,1178L945,1179L943,1175L950,1168L961,1159L966,1154L960,1153L949,1152L938,1151L932,1149L929,1145L929,1141L931,1136L935,1132L939,1128L940,1124L940,1120L942,1116L950,1113L959,1110L963,1108L961,1104L953,1099L944,1094L937,1088L932,1083L933,1078L941,1077L952,1077L959,1076L956,1071L947,1062L942,1055L948,1053L962,1057L974,1061L976,1058L971,1050L966,1042L967,1038L971,1036L972,1031L969,1022L967,1014L972,1012L982,1019L993,1027L1000,1031L1004,1031L1008,1031L1013,1034L1019,1038L1022,1037L1022,1030L1021,1020L1022,1012L1024,1007L1027,1004L1030,1002L1034,999L1038,1001L1043,1007L1047,1015L1051,1021L1054,1021L1057,1015L1061,1009L1064,1005L1068,1005L1072,1004L1076,1001L1080,996L1085,993L1089,993L1093,995L1097,996L1101,996L1104,999L1106,1006L1106,1014L1108,1019L1112,1019L1118,1015L1123,1014L1126,1018L1128,1021L1134,1019L1142,1015L1149,1013L1151,1018L1149,1026L1148,1033L1152,1034L1158,1034L1162,1036L1160,1043L1157,1050L1156,1055L1158,1058L1161,1061L1163,1064L1165,1067L1169,1069L1175,1071L1178,1073L1178,1078L1177,1082L1177,1086L1177,1090L1174,1095L1168,1099L1164,1104L1166,1107L1173,1109L1178,1112L1176,1116Z" fill="#00FF28"/>
<path d="M1198.7,1146.7 L1187.6,1150.0" stroke="#00FFE6" stroke-width="2.4" stroke-linecap="round" opacity="1.0"/>
<path d="M946.3,1082.8 L956.5,1090.8" stroke="#00FFE6" stroke-width="2.4" stroke-linecap="round" opacity="1.0"/>
<path d="M1018.6,1244.9 L1019.7,1235.4" stroke="#00FFE6" stroke-width="2.4" stroke-linecap="round" opacity="1.0"/>
<path d="M946.3,1171.0 L955.5,1171.3" stroke="#00FFE6" stroke-width="2.4" stroke-linecap="round" opacity="1.0"/>
<path d="M1047.0,1006.9 L1044.2,1014.6" stroke="#00FFE6" stroke-width="2.4" stroke-linecap="round" opacity="1.0"/>
<path d="M1069.7,988.0 L1067.0,998.6" stroke="#00FFE6" stroke-width="2.4" stroke-linecap="round" opacity="1.0"/>
<path d="M1125.1,1227.8 L1119.5,1222.8" stroke="#00FFE6" stroke-width="2.4" stroke-linecap="round" opacity="1.0"/>
<path d="M1018.3,1014.3 L1019.5,1020.8" stroke="#00FFE6" stroke-width="2.4" stroke-linecap="round" opacity="1.0"/>
<path d="M1156.9,1044.3 L1144.9,1048.5" stroke="#00FFE6" stroke-width="2.4" stroke-linecap="round" opacity="1.0"/>
<path d="M1141.6,1236.7 L1137.7,1231.4" stroke="#00FFE6" stroke-width="2.4" stroke-linecap="round" opacity="1.0"/>
<path d="M1160.8,1177.9 L1153.7,1169.5" stroke="#00FFE6" stroke-width="2.4" stroke-linecap="round" opacity="1.0"/>
<path d="M1154.5,1199.7 L1147.1,1192.2" stroke="#00FFE6" stroke-width="2.4" stroke-linecap="round" opacity="1.0"/>
<path d="M1147.1,1223.5 L1145.6,1217.8" stroke="#00FFE6" stroke-width="2.4" stroke-linecap="round" opacity="1.0"/>
<path d="M993.9,1003.8 L1003.4,1013.2" stroke="#00FFE6" stroke-width="2.4" stroke-linecap="round" opacity="1.0"/>
<path d="M1101.1,1246.4 L1102.7,1233.4" stroke="#00FFE6" stroke-width="2.4" stroke-linecap="round" opacity="1.0"/>
<path d="M1097.5,993.1 L1093.0,1000.1" stroke="#00FFE6" stroke-width="2.4" stroke-linecap="round" opacity="1.0"/>
<path d="M968.1,1013.7 L975.9,1022.6" stroke="#00FFE6" stroke-width="2.4" stroke-linecap="round" opacity="1.0"/>
<path d="M988.8,1024.8 L991.6,1031.9" stroke="#00FFE6" stroke-width="2.4" stroke-linecap="round" opacity="1.0"/>
<path d="M1029.1,1010.9 L1031.5,1017.3" stroke="#00FFE6" stroke-width="2.4" stroke-linecap="round" opacity="1.0"/>
<path d="M949.0,1066.1 L954.3,1072.7" stroke="#00FFE6" stroke-width="2.4" stroke-linecap="round" opacity="1.0"/>
<path d="M964.9,1203.2 L973.4,1192.7" stroke="#00FFE6" stroke-width="2.4" stroke-linecap="round" opacity="1.0"/>
<path d="M944.5,1099.2 L955.7,1105.3" stroke="#00FFE6" stroke-width="2.4" stroke-linecap="round" opacity="1.0"/>
<path d="M1071.2,1252.2 L1073.0,1245.2" stroke="#00FFE6" stroke-width="2.4" stroke-linecap="round" opacity="1.0"/>
<path d="M938.9,1123.5 L952.7,1122.9" stroke="#00FFE6" stroke-width="2.4" stroke-linecap="round" opacity="1.0"/>
<path d="M992.5,1135.0 C992.5,1133.0 1004.6,1114.2 1012.6,1106.8 C1020.7,1099.4 1029.4,1094.7 1040.8,1090.7 C1052.2,1086.7 1071.0,1086.7 1081.0,1082.7 C1091.1,1078.7 1093.1,1072.0 1101.1,1066.6 C1109.2,1061.2 1125.9,1050.5 1129.3,1050.5 C1132.6,1050.5 1127.3,1060.6 1121.2,1066.6 C1115.2,1072.6 1099.8,1080.7 1093.1,1086.7 C1086.4,1092.7 1085.7,1098.1 1081.0,1102.8 C1076.3,1107.5 1071.6,1114.2 1064.9,1114.9 C1058.2,1115.5 1049.5,1106.1 1040.8,1106.8 C1032.1,1107.5 1020.7,1114.2 1012.6,1118.9 C1004.6,1123.6 992.5,1137.0 992.5,1135.0Z" fill="#66FF00" />
<path d="M1012.6,1074.6 C1016.0,1071.6 1033.8,1069.3 1040.8,1068.6 C1047.8,1067.9 1054.2,1068.3 1054.9,1070.6 C1055.5,1073.0 1050.5,1080.0 1044.8,1082.7 C1039.1,1085.4 1026.0,1088.0 1020.7,1086.7 C1015.3,1085.4 1009.3,1077.7 1012.6,1074.6Z" fill="#66FF00" />
<path d="M1052.9,1126.9 C1055.2,1120.2 1062.9,1120.2 1066.9,1122.9 C1071.0,1125.6 1074.6,1136.3 1077.0,1143.0 C1079.3,1149.7 1078.3,1159.8 1081.0,1163.1 C1083.7,1166.5 1091.1,1159.8 1093.1,1163.1 C1095.1,1166.5 1095.1,1176.5 1093.1,1183.2 C1091.1,1189.9 1084.4,1200.0 1081.0,1203.4 C1077.7,1206.7 1075.7,1207.4 1073.0,1203.4 C1070.3,1199.3 1068.3,1185.9 1064.9,1179.2 C1061.6,1172.5 1054.9,1171.8 1052.9,1163.1 C1050.8,1154.4 1050.5,1133.6 1052.9,1126.9Z" fill="#66FF00" />
<path d="M1064.9,1032.4 C1065.6,1029.4 1075.7,1022.0 1081.0,1016.3 C1086.4,1010.6 1095.1,998.5 1097.1,998.2 C1099.1,997.9 1096.4,1008.3 1093.1,1014.3 C1089.7,1020.3 1081.7,1031.4 1077.0,1034.4 C1072.3,1037.4 1064.3,1035.4 1064.9,1032.4Z" fill="#66FF00" />
<path d="M994.5,1046.5 C994.5,1042.5 1001.6,1042.5 1004.6,1046.5 C1007.6,1050.5 1012.6,1066.6 1012.6,1070.6 C1012.6,1074.6 1007.6,1074.6 1004.6,1070.6 C1001.6,1066.6 994.5,1050.5 994.5,1046.5Z" fill="#66FF00" />
<path d="M1062.9,1040.4 C1061.9,1033.7 1067.6,1036.1 1071.0,1042.5 C1074.3,1048.8 1082.0,1072.0 1083.0,1078.7 C1084.0,1085.4 1080.3,1089.0 1077.0,1082.7 C1073.6,1076.3 1063.9,1047.1 1062.9,1040.4Z" fill="#CCFF00" />
<path d="M1093.1,1074.6 C1094.4,1072.3 1104.8,1064.6 1107.2,1064.6 C1109.5,1064.6 1108.5,1072.3 1107.2,1074.6 C1105.8,1077.0 1101.5,1078.7 1099.1,1078.7 C1096.8,1078.7 1091.7,1077.0 1093.1,1074.6Z" fill="#CCFF00" />
<path d="M996.5,1131.0 C996.5,1128.9 1005.3,1114.9 1008.6,1110.8 C1012.0,1106.8 1016.7,1104.8 1016.7,1106.8 C1016.7,1108.8 1012.0,1118.9 1008.6,1122.9 C1005.3,1126.9 996.5,1133.0 996.5,1131.0Z" fill="#CCFF00" />
<path d="M1049.8,1155.1 C1049.8,1151.1 1053.4,1136.3 1054.9,1133.0 C1056.4,1129.6 1058.9,1131.0 1058.9,1135.0 C1058.9,1139.0 1056.4,1153.7 1054.9,1157.1 C1053.4,1160.4 1049.8,1159.1 1049.8,1155.1Z" fill="#CCFF00" />
<path d="M1020.7,1104.8 L1040.8,1112.8 L1052.9,1120.9" fill="none" stroke="#FF6600" stroke-width="2.0" stroke-linejoin="round" stroke-linecap="round" />
<path d="M1006.6,1116.9 L1009.6,1120.9" fill="none" stroke="#FF0000" stroke-width="1.6" stroke-linejoin="round" stroke-linecap="round" />
<rect x="907.6" y="965.0" width="306.2" height="309.8" fill="url(#dots)"/>
</g>
<ellipse cx="1060.7" cy="1119.9" rx="153.1" ry="154.9" fill="none" stroke="#3a3a3a" stroke-width="1.5"/>
<clipPath id="c16"><ellipse cx="1430.1" cy="1115.1" rx="154.7" ry="154.7"/></clipPath>
<g clip-path="url(#c16)">
<ellipse cx="1430.1" cy="1115.1" rx="156.7" ry="156.7" fill="#00FFE6"/>
<path d="M1563,1115L1563,1119L1567,1124L1569,1128L1567,1132L1560,1136L1554,1139L1554,1143L1558,1148L1565,1154L1568,1160L1567,1165L1565,1168L1562,1172L1561,1177L1557,1180L1550,1181L1542,1181L1539,1184L1541,1191L1547,1200L1548,1206L1542,1207L1531,1204L1522,1202L1519,1204L1519,1210L1518,1215L1515,1217L1510,1218L1508,1222L1507,1228L1506,1234L1502,1237L1497,1237L1492,1237L1489,1240L1485,1243L1481,1243L1476,1242L1471,1242L1468,1246L1465,1252L1462,1256L1457,1254L1451,1249L1447,1246L1443,1247L1439,1252L1435,1257L1430,1261L1425,1262L1421,1258L1417,1250L1414,1243L1410,1240L1406,1242L1401,1246L1396,1249L1391,1249L1387,1248L1382,1248L1378,1248L1374,1244L1373,1236L1372,1229L1370,1225L1365,1226L1358,1229L1352,1230L1347,1229L1345,1225L1343,1220L1343,1214L1342,1209L1337,1208L1328,1211L1318,1213L1313,1212L1315,1204L1321,1194L1324,1187L1320,1185L1314,1184L1311,1180L1312,1175L1312,1171L1307,1169L1298,1167L1294,1164L1297,1158L1305,1151L1311,1146L1309,1142L1303,1139L1297,1136L1293,1132L1290,1128L1288,1124L1288,1120L1291,1115L1294,1111L1296,1107L1295,1102L1294,1098L1295,1094L1297,1090L1297,1085L1294,1080L1294,1076L1300,1073L1308,1071L1313,1069L1311,1063L1304,1056L1299,1048L1301,1044L1307,1042L1313,1041L1316,1038L1317,1033L1318,1028L1320,1024L1324,1021L1329,1021L1336,1021L1342,1021L1345,1018L1344,1011L1343,1003L1344,996L1348,995L1354,995L1358,994L1360,988L1363,983L1367,981L1373,984L1379,987L1384,988L1388,986L1392,985L1397,985L1401,984L1405,983L1409,982L1413,983L1418,986L1422,988L1426,987L1430,984L1434,982L1439,980L1443,978L1448,977L1452,978L1456,982L1459,987L1462,991L1467,989L1472,986L1477,986L1480,989L1483,993L1487,993L1493,991L1498,992L1499,998L1498,1008L1499,1014L1504,1014L1512,1010L1520,1007L1524,1009L1525,1014L1527,1019L1529,1022L1532,1026L1534,1029L1536,1033L1540,1035L1546,1036L1551,1038L1554,1042L1555,1046L1555,1052L1555,1056L1556,1060L1559,1064L1563,1067L1568,1070L1571,1074L1570,1079L1565,1085L1560,1090L1560,1095L1563,1098L1567,1102L1568,1106L1566,1111Z" fill="#00FF88"/>
<path d="M1351.5,1056.6 C1354.8,1048.2 1371.6,1045.8 1381.6,1046.5 C1391.7,1047.2 1401.7,1055.6 1411.8,1060.6 C1421.8,1065.6 1431.9,1070.6 1442.0,1076.7 C1452.0,1082.7 1463.8,1090.1 1472.1,1096.8 C1480.5,1103.5 1488.9,1110.2 1492.2,1116.9 C1495.6,1123.6 1493.9,1130.3 1492.2,1137.0 C1490.6,1143.7 1488.9,1153.8 1482.2,1157.1 C1475.5,1160.5 1463.8,1160.5 1452.0,1157.1 C1440.3,1153.8 1423.5,1143.7 1411.8,1137.0 C1400.1,1130.3 1390.0,1123.6 1381.6,1116.9 C1373.2,1110.2 1366.5,1106.8 1361.5,1096.8 C1356.5,1086.7 1348.1,1064.9 1351.5,1056.6Z" fill="#00FFE6" />
<path d="M1387.7,996.2 C1391.0,990.2 1401.1,980.8 1411.8,980.1 C1422.5,979.5 1440.3,986.2 1452.0,992.2 C1463.8,998.2 1472.1,1009.0 1482.2,1016.3 C1492.2,1023.7 1504.0,1029.1 1512.4,1036.5 C1520.7,1043.8 1527.4,1052.2 1532.5,1060.6 C1537.5,1069.0 1541.5,1078.0 1542.5,1086.7 C1543.5,1095.5 1540.9,1106.2 1538.5,1112.9 C1536.2,1119.6 1532.8,1126.3 1528.4,1127.0 C1524.1,1127.6 1518.4,1121.9 1512.4,1116.9 C1506.3,1111.9 1500.6,1103.5 1492.2,1096.8 C1483.9,1090.1 1472.1,1082.7 1462.1,1076.7 C1452.0,1070.6 1440.3,1067.3 1431.9,1060.6 C1423.5,1053.9 1418.5,1043.8 1411.8,1036.5 C1405.1,1029.1 1395.7,1023.0 1391.7,1016.3 C1387.7,1009.6 1384.3,1002.3 1387.7,996.2Z" fill="#00FF28" />
<path d="M1307.2,1096.8 C1309.2,1092.1 1315.9,1102.2 1323.3,1108.9 C1330.7,1115.6 1341.7,1129.0 1351.5,1137.0 C1361.2,1145.1 1371.6,1151.8 1381.6,1157.1 C1391.7,1162.5 1401.7,1165.8 1411.8,1169.2 C1421.8,1172.6 1433.6,1172.6 1442.0,1177.2 C1450.3,1181.9 1457.0,1190.7 1462.1,1197.4 C1467.1,1204.1 1472.1,1210.8 1472.1,1217.5 C1472.1,1224.2 1468.8,1234.9 1462.1,1237.6 C1455.4,1240.3 1443.6,1236.9 1431.9,1233.6 C1420.2,1230.2 1403.4,1223.5 1391.7,1217.5 C1379.9,1211.4 1371.6,1205.7 1361.5,1197.4 C1351.5,1189.0 1339.7,1177.2 1331.3,1167.2 C1323.0,1157.1 1315.2,1148.8 1311.2,1137.0 C1307.2,1125.3 1305.2,1101.5 1307.2,1096.8Z" fill="#00FF28" />
<path d="M1383.6,1169.2 C1385.6,1168.2 1396.4,1169.9 1399.7,1171.2 C1403.1,1172.6 1405.8,1176.2 1403.7,1177.2 C1401.7,1178.3 1391.0,1178.6 1387.7,1177.2 C1384.3,1175.9 1381.6,1170.2 1383.6,1169.2Z" fill="#66FF00" />
<path d="M1419.8,1201.4 C1422.5,1200.7 1436.3,1202.4 1440.0,1203.4 C1443.6,1204.4 1444.6,1206.7 1442.0,1207.4 C1439.3,1208.1 1427.5,1208.4 1423.9,1207.4 C1420.2,1206.4 1417.2,1202.1 1419.8,1201.4Z" fill="#66FF00" />
<path d="M1293.7,1106.5 L1300.6,1110.2" stroke="#00FFE6" stroke-width="2.0" stroke-linecap="round" opacity="1.0"/>
<path d="M1411.9,973.0 L1410.0,982.0" stroke="#00FFE6" stroke-width="2.0" stroke-linecap="round" opacity="1.0"/>
<path d="M1416.3,979.3 L1417.2,985.2" stroke="#00FFE6" stroke-width="2.0" stroke-linecap="round" opacity="1.0"/>
<path d="M1562.8,1090.1 L1554.4,1090.6" stroke="#00FFE6" stroke-width="2.0" stroke-linecap="round" opacity="1.0"/>
<path d="M1509.0,1213.1 L1501.2,1203.9" stroke="#00FFE6" stroke-width="2.0" stroke-linecap="round" opacity="1.0"/>
<path d="M1314.9,1213.9 L1322.0,1207.2" stroke="#00FFE6" stroke-width="2.0" stroke-linecap="round" opacity="1.0"/>
<path d="M1549.0,1182.3 L1539.9,1179.5" stroke="#00FFE6" stroke-width="2.0" stroke-linecap="round" opacity="1.0"/>
<path d="M1555.4,1058.1 L1545.5,1058.7" stroke="#00FFE6" stroke-width="2.0" stroke-linecap="round" opacity="1.0"/>
<path d="M1309.3,1207.3 L1317.4,1199.5" stroke="#00FFE6" stroke-width="2.0" stroke-linecap="round" opacity="1.0"/>
<path d="M1284.4,1156.8 L1292.0,1149.5" stroke="#00FFE6" stroke-width="2.0" stroke-linecap="round" opacity="1.0"/>
<path d="M1507.6,1011.6 L1503.0,1017.8" stroke="#00FFE6" stroke-width="2.0" stroke-linecap="round" opacity="1.0"/>
<path d="M1469.4,1248.9 L1466.0,1238.8" stroke="#00FFE6" stroke-width="2.0" stroke-linecap="round" opacity="1.0"/>
<path d="M1304.9,1130.0 L1316.0,1132.5" stroke="#00FFE6" stroke-width="2.0" stroke-linecap="round" opacity="1.0"/>
<path d="M1561.1,1158.4 L1552.6,1149.5" stroke="#00FFE6" stroke-width="2.0" stroke-linecap="round" opacity="1.0"/>
<path d="M1455.5,966.3 L1450.2,975.7" stroke="#00FFE6" stroke-width="2.0" stroke-linecap="round" opacity="1.0"/>
<path d="M1421.3,992.7 L1420.7,1004.2" stroke="#00FFE6" stroke-width="2.0" stroke-linecap="round" opacity="1.0"/>
<path d="M1310.4,1090.5 L1322.2,1097.1" stroke="#00FFE6" stroke-width="2.0" stroke-linecap="round" opacity="1.0"/>
<path d="M1457.6,995.8 L1458.2,1002.4" stroke="#00FFE6" stroke-width="2.0" stroke-linecap="round" opacity="1.0"/>
<path d="M1337.9,1201.5 L1345.7,1192.6" stroke="#00FFE6" stroke-width="2.0" stroke-linecap="round" opacity="1.0"/>
<path d="M1544.8,1111.1 L1536.7,1108.2" stroke="#00FFE6" stroke-width="2.0" stroke-linecap="round" opacity="1.0"/>
<path d="M1290.4,1113.7 L1303.0,1115.6" stroke="#00FFE6" stroke-width="2.0" stroke-linecap="round" opacity="1.0"/>
<path d="M1484.7,1216.0 L1477.0,1204.4" stroke="#00FFE6" stroke-width="2.0" stroke-linecap="round" opacity="1.0"/>
<path d="M1313.8,1101.8 L1323.4,1101.5" stroke="#00FFE6" stroke-width="2.0" stroke-linecap="round" opacity="1.0"/>
<path d="M1501.8,1235.3 L1497.1,1225.1" stroke="#00FFE6" stroke-width="2.0" stroke-linecap="round" opacity="1.0"/>
<path d="M1504.9,983.3 L1503.8,996.0" stroke="#00FFE6" stroke-width="2.0" stroke-linecap="round" opacity="1.0"/>
<path d="M1292.3,1094.0 L1305.1,1096.5" stroke="#00FFE6" stroke-width="2.0" stroke-linecap="round" opacity="1.0"/>
<path d="M1311.9,1153.5 L1319.0,1153.6" stroke="#00FFE6" stroke-width="2.0" stroke-linecap="round" opacity="1.0"/>
<path d="M1571.6,1130.6 L1558.5,1135.1" stroke="#00FFE6" stroke-width="2.0" stroke-linecap="round" opacity="1.0"/>
<path d="M1359.5,1090.8 C1361.2,1088.7 1369.6,1087.1 1371.6,1088.7 C1373.6,1090.4 1373.2,1098.8 1371.6,1100.8 C1369.9,1102.8 1363.5,1102.5 1361.5,1100.8 C1359.5,1099.1 1357.8,1092.8 1359.5,1090.8Z" fill="#00B8FF" />
<path d="M1362.5,1092.8 C1363.4,1091.8 1367.7,1090.9 1368.5,1091.8 C1369.4,1092.6 1368.4,1096.8 1367.5,1097.8 C1366.6,1098.8 1364.0,1098.6 1363.1,1097.8 C1362.3,1097.0 1361.6,1093.8 1362.5,1092.8Z" fill="#0066FF" />
<path d="M1454.0,1110.9 C1456.4,1107.5 1466.1,1102.8 1470.1,1104.8 C1474.1,1106.8 1479.2,1118.6 1478.2,1122.9 C1477.2,1127.3 1467.8,1130.6 1464.1,1131.0 C1460.4,1131.3 1457.7,1128.3 1456.0,1125.0 C1454.4,1121.6 1451.7,1114.2 1454.0,1110.9Z" fill="#00B8FF" />
<path d="M1458.1,1112.9 C1459.6,1110.5 1465.4,1107.2 1468.1,1108.9 C1470.8,1110.5 1474.8,1119.9 1474.1,1122.9 C1473.5,1126.0 1466.6,1127.0 1464.1,1127.0 C1461.6,1127.0 1460.1,1125.3 1459.1,1122.9 C1458.1,1120.6 1456.5,1115.2 1458.1,1112.9Z" fill="#0066FF" />
<path d="M1462.1,1116.9 C1462.7,1115.6 1465.9,1114.9 1467.1,1115.9 C1468.3,1116.9 1469.8,1121.6 1469.1,1122.9 C1468.4,1124.3 1464.3,1125.0 1463.1,1123.9 C1461.9,1122.9 1461.4,1118.2 1462.1,1116.9Z" fill="#0000FF" />
<path d="M1474.1,1137.0 C1476.2,1134.8 1486.2,1130.0 1488.2,1131.0 C1490.2,1132.0 1488.2,1140.9 1486.2,1143.1 C1484.2,1145.2 1478.2,1145.1 1476.2,1144.1 C1474.1,1143.1 1472.1,1139.2 1474.1,1137.0Z" fill="#00B8FF" />
<path d="M1477.2,1137.0 C1478.3,1135.8 1484.0,1133.5 1485.2,1134.0 C1486.4,1134.5 1485.4,1138.9 1484.2,1140.0 C1483.0,1141.2 1479.3,1141.5 1478.2,1141.0 C1477.0,1140.5 1476.0,1138.2 1477.2,1137.0Z" fill="#0066FF" />
<path d="M1458.1,1165.2 C1459.9,1164.0 1469.1,1162.3 1471.1,1163.2 C1473.1,1164.0 1472.0,1169.0 1470.1,1170.2 C1468.3,1171.4 1462.1,1171.0 1460.1,1170.2 C1458.1,1169.4 1456.2,1166.3 1458.1,1165.2Z" fill="#00B8FF" />
<path d="M1419.8,1133.0 C1421.2,1131.2 1428.6,1127.1 1429.9,1128.0 C1431.2,1128.8 1429.2,1136.2 1427.9,1138.0 C1426.5,1139.9 1423.2,1139.9 1421.8,1139.0 C1420.5,1138.2 1418.5,1134.8 1419.8,1133.0Z" fill="#00B8FF" />
<path d="M1399.7,1096.8 C1400.1,1095.1 1410.1,1091.8 1411.8,1092.8 C1413.5,1093.8 1411.8,1102.2 1409.8,1102.8 C1407.8,1103.5 1399.4,1098.5 1399.7,1096.8Z" fill="#00B8FF" />
<path d="M1311.2,1020.4 C1311.6,1018.7 1319.9,1017.7 1323.3,1018.4 C1326.6,1019.0 1331.7,1022.7 1331.3,1024.4 C1331.0,1026.1 1324.6,1029.1 1321.3,1028.4 C1317.9,1027.7 1310.9,1022.0 1311.2,1020.4Z" fill="#CCFF00" />
<path d="M1313.2,1021.4 L1327.3,1024.8" fill="none" stroke="#FF6600" stroke-width="2.0" stroke-linejoin="round" stroke-linecap="round" />
<path d="M1522.4,1208.4 C1523.8,1207.6 1531.8,1208.4 1534.5,1209.4 C1537.2,1210.4 1539.8,1213.6 1538.5,1214.5 C1537.2,1215.3 1529.1,1215.5 1526.4,1214.5 C1523.8,1213.4 1521.1,1209.3 1522.4,1208.4Z" fill="#CCFF00" />
<path d="M1525.4,1211.0 L1536.5,1213.0" fill="none" stroke="#FF6600" stroke-width="2.4" stroke-linejoin="round" stroke-linecap="round" />
<path d="M1311.2,1022.4 L1327.3,1025.4 L1349.4,1022.4 L1369.6,1034.4 L1371.6,1048.5 L1375.6,1064.6 L1389.7,1100.8 L1399.7,1104.8 L1429.9,1125.0 L1435.9,1129.0 L1458.1,1130.0 L1472.1,1143.1 L1472.1,1163.2 L1482.2,1177.2 L1502.3,1189.3 L1502.3,1201.4 L1530.5,1211.4" fill="none" stroke="#1a1a1a" stroke-width="2.4" stroke-linejoin="round" stroke-linecap="round" />
<path d="M1367.5,1092.8 L1383.6,1090.8" fill="none" stroke="#1a1a1a" stroke-width="2.0" stroke-linejoin="round" stroke-linecap="round" />
<rect x="1275.4" y="960.4" width="309.4" height="309.4" fill="url(#dots)"/>
</g>
<ellipse cx="1430.1" cy="1115.1" rx="154.7" ry="154.7" fill="none" stroke="#3a3a3a" stroke-width="1.5"/>
<clipPath id="c17"><ellipse cx="308.9" cy="1982.2" rx="154.9" ry="155.2"/></clipPath>
<g clip-path="url(#c17)">
<ellipse cx="308.9" cy="1982.2" rx="156.9" ry="157.2" fill="#00FFE8"/>
<path d="M444.3,2021.9 L433.1,2022.7" stroke="#0090FF" stroke-width="1.4" stroke-linecap="round" opacity="1.0"/>
<path d="M399.7,1872.3 L396.7,1876.4" stroke="#0090FF" stroke-width="1.4" stroke-linecap="round" opacity="1.0"/>
<path d="M377.3,2101.2 L373.3,2094.9" stroke="#0090FF" stroke-width="1.4" stroke-linecap="round" opacity="1.0"/>
<path d="M363.1,2126.2 L361.9,2118.6" stroke="#0090FF" stroke-width="1.4" stroke-linecap="round" opacity="1.0"/>
<path d="M226.6,2094.0 L233.1,2088.0" stroke="#0090FF" stroke-width="1.4" stroke-linecap="round" opacity="1.0"/>
<path d="M159.7,1994.2 L165.2,1991.6" stroke="#0090FF" stroke-width="1.4" stroke-linecap="round" opacity="1.0"/>
<path d="M409.4,2089.1 L399.7,2080.9" stroke="#0090FF" stroke-width="1.4" stroke-linecap="round" opacity="1.0"/>
<path d="M368.5,1856.1 L364.5,1861.8" stroke="#0090FF" stroke-width="1.4" stroke-linecap="round" opacity="1.0"/>
<path d="M342.9,1833.0 L341.2,1839.0" stroke="#0090FF" stroke-width="1.4" stroke-linecap="round" opacity="1.0"/>
<path d="M320.9,2133.5 L322.0,2123.4" stroke="#0090FF" stroke-width="1.4" stroke-linecap="round" opacity="1.0"/>
<path d="M342.0,1828.9 L336.0,1835.8" stroke="#0090FF" stroke-width="1.4" stroke-linecap="round" opacity="1.0"/>
<path d="M270.8,2131.8 L273.4,2126.5" stroke="#0090FF" stroke-width="1.4" stroke-linecap="round" opacity="1.0"/>
<path d="M427.0,1892.5 L419.2,1895.1" stroke="#0090FF" stroke-width="1.4" stroke-linecap="round" opacity="1.0"/>
<path d="M368.5,1843.0 L365.2,1850.3" stroke="#0090FF" stroke-width="1.4" stroke-linecap="round" opacity="1.0"/>
<path d="M456.5,1983.8 L449.0,1982.4" stroke="#0090FF" stroke-width="1.4" stroke-linecap="round" opacity="1.0"/>
<path d="M453.8,2000.0 L447.8,2000.2" stroke="#0090FF" stroke-width="1.4" stroke-linecap="round" opacity="1.0"/>
<path d="M459.8,1961.8 L449.4,1964.6" stroke="#0090FF" stroke-width="1.4" stroke-linecap="round" opacity="1.0"/>
<path d="M420.9,2062.1 L416.5,2053.3" stroke="#0090FF" stroke-width="1.4" stroke-linecap="round" opacity="1.0"/>
<path d="M296.2,1841.3 L301.1,1854.1" stroke="#0090FF" stroke-width="1.4" stroke-linecap="round" opacity="1.0"/>
<path d="M449.9,2024.3 L441.1,2025.5" stroke="#0090FF" stroke-width="1.4" stroke-linecap="round" opacity="1.0"/>
<path d="M434.1,1913.1 L429.3,1920.0" stroke="#0090FF" stroke-width="1.4" stroke-linecap="round" opacity="1.0"/>
<path d="M464.3,1995.3 L451.0,1992.5" stroke="#0090FF" stroke-width="1.4" stroke-linecap="round" opacity="1.0"/>
<path d="M442.2,2024.9 L436.1,2026.0" stroke="#0090FF" stroke-width="1.4" stroke-linecap="round" opacity="1.0"/>
<path d="M351.2,1842.1 L350.9,1847.4" stroke="#0090FF" stroke-width="1.4" stroke-linecap="round" opacity="1.0"/>
<path d="M166.4,2019.0 L174.2,2013.4" stroke="#0090FF" stroke-width="1.4" stroke-linecap="round" opacity="1.0"/>
<path d="M351.7,1849.7 L347.1,1857.4" stroke="#0090FF" stroke-width="1.4" stroke-linecap="round" opacity="1.0"/>
<path d="M416.6,2067.5 L407.7,2057.0" stroke="#0090FF" stroke-width="1.4" stroke-linecap="round" opacity="1.0"/>
<path d="M362.6,2122.3 L362.4,2116.4" stroke="#0090FF" stroke-width="1.4" stroke-linecap="round" opacity="1.0"/>
<path d="M444.0,2016.0 L437.5,2013.5" stroke="#0090FF" stroke-width="1.4" stroke-linecap="round" opacity="1.0"/>
<path d="M405.9,1878.4 L398.6,1887.7" stroke="#0090FF" stroke-width="1.4" stroke-linecap="round" opacity="1.0"/>
<path d="M443.6,2042.4 L438.7,2041.4" stroke="#0066FF" stroke-width="1.0" stroke-linecap="round" opacity="1.0"/>
<path d="M311.6,1829.4 L309.1,1838.2" stroke="#0066FF" stroke-width="1.0" stroke-linecap="round" opacity="1.0"/>
<path d="M161.3,2029.0 L169.4,2022.5" stroke="#0066FF" stroke-width="1.0" stroke-linecap="round" opacity="1.0"/>
<path d="M172.3,1921.1 L182.0,1922.4" stroke="#0066FF" stroke-width="1.0" stroke-linecap="round" opacity="1.0"/>
<path d="M259.9,1844.9 L264.3,1851.2" stroke="#0066FF" stroke-width="1.0" stroke-linecap="round" opacity="1.0"/>
<path d="M293.6,2126.7 L296.7,2115.4" stroke="#0066FF" stroke-width="1.0" stroke-linecap="round" opacity="1.0"/>
<path d="M457.3,2010.7 L451.9,2008.8" stroke="#0066FF" stroke-width="1.0" stroke-linecap="round" opacity="1.0"/>
<path d="M183.3,2064.7 L194.5,2061.2" stroke="#0066FF" stroke-width="1.0" stroke-linecap="round" opacity="1.0"/>
<path d="M248.7,1847.8 L250.6,1853.3" stroke="#0066FF" stroke-width="1.0" stroke-linecap="round" opacity="1.0"/>
<path d="M157.2,1948.5 L170.0,1947.3" stroke="#0066FF" stroke-width="1.0" stroke-linecap="round" opacity="1.0"/>
<path d="M457,1982L452,1987L445,1991L440,1994L442,1999L446,2004L447,2008L443,2012L437,2015L434,2018L438,2024L444,2031L448,2037L446,2041L440,2044L436,2047L434,2051L433,2056L431,2059L426,2062L421,2063L417,2066L415,2070L415,2075L413,2080L410,2083L405,2085L401,2086L398,2089L396,2094L394,2100L392,2104L388,2107L384,2108L379,2109L374,2109L369,2110L365,2111L362,2115L359,2122L357,2128L352,2130L346,2126L340,2121L335,2119L331,2121L327,2122L322,2119L317,2113L313,2113L309,2119L304,2127L300,2129L296,2122L292,2115L288,2115L282,2123L276,2130L272,2127L270,2115L269,2106L264,2107L257,2114L250,2119L246,2116L244,2109L240,2108L233,2111L226,2112L224,2107L227,2096L228,2086L225,2084L217,2087L209,2088L206,2085L204,2081L202,2076L199,2073L196,2070L193,2066L190,2063L184,2061L179,2059L179,2053L184,2046L189,2039L188,2034L181,2033L172,2031L168,2028L169,2023L171,2017L173,2012L175,2008L178,2003L180,1998L176,1995L169,1991L163,1987L166,1982L173,1978L178,1974L174,1969L166,1964L162,1959L168,1955L176,1952L177,1948L170,1942L162,1934L164,1930L176,1929L188,1930L191,1927L186,1919L181,1912L183,1907L190,1906L196,1905L196,1900L192,1892L192,1885L197,1883L205,1884L211,1884L213,1880L213,1873L215,1868L220,1868L227,1869L233,1870L236,1867L238,1862L241,1858L245,1857L250,1857L254,1855L257,1850L259,1843L262,1837L266,1836L272,1837L277,1840L282,1842L287,1843L291,1842L296,1840L300,1840L305,1841L309,1843L313,1845L318,1844L322,1841L327,1837L332,1837L336,1840L340,1844L344,1847L348,1847L353,1847L356,1850L359,1855L363,1858L368,1857L374,1855L380,1854L383,1857L386,1861L389,1865L394,1865L399,1865L403,1868L403,1875L404,1881L406,1885L413,1885L420,1884L424,1887L423,1893L422,1900L423,1905L428,1907L434,1908L437,1911L437,1917L434,1923L432,1929L433,1933L437,1936L443,1939L448,1942L453,1945L456,1949L456,1954L452,1959L448,1964L447,1969L451,1973L456,1977Z" fill="#00FF88"/>
<path d="M432,1982L441,1986L445,1991L438,1994L422,1996L412,1998L413,2002L425,2008L436,2015L440,2020L436,2023L428,2025L423,2027L423,2031L425,2037L426,2042L427,2047L427,2052L426,2056L424,2060L419,2062L412,2062L403,2060L396,2059L394,2062L396,2069L399,2078L399,2084L392,2083L383,2077L376,2074L374,2078L375,2087L376,2095L372,2097L367,2096L363,2096L360,2100L357,2104L353,2103L346,2096L340,2089L337,2090L335,2099L334,2110L330,2116L326,2113L321,2107L317,2103L313,2102L309,2100L305,2097L302,2096L298,2099L293,2107L288,2115L283,2118L279,2115L276,2109L273,2104L270,2101L267,2099L264,2096L261,2093L259,2089L256,2086L252,2086L246,2088L241,2089L237,2087L237,2082L237,2075L236,2070L232,2070L226,2071L221,2070L219,2066L218,2062L214,2061L207,2061L202,2060L200,2056L202,2050L202,2045L199,2043L195,2040L193,2036L195,2031L197,2026L194,2023L190,2021L187,2018L187,2013L189,2009L190,2005L188,2001L186,1998L186,1994L186,1990L184,1986L179,1982L178,1978L181,1974L188,1971L192,1967L190,1963L185,1958L182,1954L182,1949L184,1946L186,1942L187,1938L189,1934L192,1931L195,1928L196,1924L198,1921L203,1919L209,1919L213,1917L213,1912L209,1904L205,1896L205,1890L208,1887L213,1886L217,1885L223,1884L228,1884L233,1884L236,1882L239,1880L244,1879L249,1880L253,1881L255,1876L255,1867L256,1859L260,1857L266,1862L272,1867L276,1868L278,1863L281,1857L285,1855L289,1856L293,1859L298,1861L302,1863L305,1862L309,1857L313,1851L317,1848L321,1855L323,1868L325,1878L329,1875L336,1862L343,1850L347,1850L348,1861L349,1872L352,1873L358,1868L364,1866L365,1873L363,1884L364,1889L370,1886L380,1878L387,1875L390,1878L390,1884L393,1887L398,1888L403,1888L406,1891L407,1895L408,1900L408,1905L407,1911L405,1917L408,1919L415,1919L425,1918L429,1921L425,1927L418,1935L417,1939L426,1940L437,1940L441,1944L434,1950L424,1956L420,1961L426,1963L434,1966L436,1970L431,1974L427,1978Z" fill="#00FF28"/>
<path d="M216.1,1994.2 L228.9,1982.9 L223.7,1971.5 L240.1,1963.0 L232.9,1949.7 L243.4,1943.9 L239.0,1929.8 L252.7,1927.0 L249.1,1906.9 L261.6,1906.5 L266.3,1897.0 L277.3,1899.9 L283.3,1889.6 L293.8,1895.8 L301.3,1886.4 L309.9,1889.2 L317.4,1883.4 L323.0,1897.6 L332.5,1888.7 L335.9,1902.1 L346.6,1893.7 L350.6,1901.5 L362.4,1894.8 L362.8,1906.2 L376.7,1898.5 L378.3,1910.4 L389.4,1912.2 L388.8,1923.7 L402.4,1922.3 L401.4,1930.4 L416.6,1929.7 L403.7,1943.0 L412.9,1947.2 L402.3,1958.3 L406.5,1963.7 L393.8,1972.2 L400.3,1978.5 L392.5,1986.9 L405.6,1996.7 L396.3,2003.0 L398.2,2012.2 L384.2,2015.8 L386.3,2026.6 L381.4,2028.4 L392.8,2040.6 L389.7,2042.7 L392.0,2053.8 L377.2,2050.2 L375.6,2059.6 L362.2,2054.9 L361.9,2068.3 L350.5,2064.1 L347.8,2081.1 L336.7,2076.7 L331.9,2092.7 L324.7,2083.9 L320.5,2095.2 L313.9,2083.1 L305.5,2087.8 L297.8,2070.6 L288.3,2069.7 L284.2,2056.7 L273.3,2063.7 L269.4,2053.7 L258.6,2056.4 L256.3,2046.5 L243.4,2049.6 L246.9,2034.3 L230.9,2035.2 L233.0,2023.4 L218.7,2019.2 L220.5,2008.8 L201.8,2004.6 L215.4,1999.5 L212.4,1997.5Z" fill="#8CFF00" />
<path d="M270.2,1915.4 C270.8,1918.7 270.8,1932.2 274.1,1935.2 C277.5,1938.2 287.4,1933.6 290.0,1933.2" fill="none" stroke="#E8FF00" stroke-width="3.0" stroke-linejoin="round" stroke-linecap="round" />
<path d="M288.0,1909.4 C287.4,1903.1 298.3,1913.0 301.9,1917.4 C305.6,1921.7 309.2,1928.9 309.9,1935.2 C310.6,1941.5 309.6,1959.4 305.9,1955.1 C302.3,1950.8 288.7,1915.7 288.0,1909.4Z" fill="#E8FF00" />
<path d="M282.1,1943.2 C284.1,1945.2 290.4,1952.4 294.0,1955.1 C297.6,1957.7 302.3,1958.4 303.9,1959.1" fill="none" stroke="#E8FF00" stroke-width="3.0" stroke-linejoin="round" stroke-linecap="round" />
<path d="M337.7,1949.1 C339.7,1947.5 347.0,1942.2 349.6,1939.2 C352.3,1936.2 352.9,1932.6 353.6,1931.3" fill="none" stroke="#E8FF00" stroke-width="3.0" stroke-linejoin="round" stroke-linecap="round" />
<path d="M365.5,1943.2 C367.2,1941.7 375.1,1938.9 377.4,1939.2 C379.7,1939.5 381.1,1943.7 379.4,1945.2 C377.8,1946.6 369.8,1948.5 367.5,1948.1 C365.2,1947.8 363.9,1944.7 365.5,1943.2Z" fill="#E8FF00" />
<path d="M254.3,1971.0 C251.0,1967.0 264.9,1971.0 270.2,1973.0 C275.5,1974.9 282.7,1978.9 286.1,1982.9 C289.4,1986.9 295.3,1998.8 290.0,1996.8 C284.7,1994.8 257.6,1974.9 254.3,1971.0Z" fill="#E8FF00" />
<path d="M270.2,2014.7 C272.0,2013.3 278.8,2019.3 280.1,2022.6 C281.4,2025.9 279.9,2033.2 278.1,2034.5 C276.3,2035.9 270.5,2033.9 269.2,2030.6 C267.9,2027.3 268.3,2016.0 270.2,2014.7Z" fill="#E8FF00" />
<path d="M298.0,2014.7 C301.6,2016.7 314.5,2023.3 319.8,2026.6 C325.1,2029.9 328.1,2033.2 329.8,2034.5" fill="none" stroke="#E8FF00" stroke-width="3.0" stroke-linejoin="round" stroke-linecap="round" />
<path d="M353.6,1978.9 C354.6,1976.3 359.2,1978.3 361.5,1982.9 C363.9,1987.5 367.2,2001.8 367.5,2006.7 C367.8,2011.7 365.5,2014.0 363.5,2012.7 C361.5,2011.4 357.2,2004.4 355.6,1998.8 C353.9,1993.2 352.6,1981.6 353.6,1978.9Z" fill="#E8FF00" />
<path d="M347.6,2030.6 C351.3,2029.6 362.5,2024.9 369.5,2024.6 C376.4,2024.3 386.0,2027.9 389.3,2028.6" fill="none" stroke="#E8FF00" stroke-width="3.0" stroke-linejoin="round" stroke-linecap="round" />
<path d="M226.5,1992.8 C225.8,1993.9 227.3,1995.9 230.3,1997.7 C233.3,1999.5 235.7,1999.9 236.4,1998.8 C237.1,1997.7 235.5,1995.7 232.6,1993.9 C229.6,1992.1 227.1,1991.7 226.5,1992.8Z" fill="#E8FF00" />
<path d="M258.3,2008.7 C257.7,2009.9 258.1,2011.1 259.3,2011.7 C260.5,2012.3 261.6,2011.9 262.2,2010.7 C262.8,2009.5 262.4,2008.3 261.2,2007.8 C260.0,2007.2 258.8,2007.5 258.3,2008.7Z" fill="#E8FF00" />
<rect x="154.0" y="1827.0" width="309.8" height="310.4" fill="url(#dots)"/>
</g>
<ellipse cx="308.9" cy="1982.2" rx="154.9" ry="155.2" fill="none" stroke="#3a3a3a" stroke-width="1.5"/>
<path d="M321.8,2060.4 L319.8,2082.2" fill="none" stroke="#FF6600" stroke-width="3.2" stroke-linejoin="round" stroke-linecap="round" />
<path d="M317.8,2024.6 L323.8,2030.6" fill="none" stroke="#FF6600" stroke-width="2.0" stroke-linejoin="round" stroke-linecap="round" />
<path d="M290.0,1931.3 L298.0,1929.3" fill="none" stroke="#FF6600" stroke-width="1.6" stroke-linejoin="round" stroke-linecap="round" />
<path d="M288.0,1953.1 L294.0,1955.1" fill="none" stroke="#FF6600" stroke-width="1.6" stroke-linejoin="round" stroke-linecap="round" />
<clipPath id="c18"><ellipse cx="685.2" cy="1979.7" rx="155.2" ry="155.7"/></clipPath>
<g clip-path="url(#c18)">
<ellipse cx="685.2" cy="1979.7" rx="157.2" ry="157.7" fill="#00FFE8"/>
<path d="M572.2,2078.8 L580.1,2070.4" stroke="#0090FF" stroke-width="1.4" stroke-linecap="round" opacity="1.0"/>
<path d="M752.6,2098.7 L746.3,2094.4" stroke="#0090FF" stroke-width="1.4" stroke-linecap="round" opacity="1.0"/>
<path d="M782.2,2090.3 L778.9,2081.6" stroke="#0090FF" stroke-width="1.4" stroke-linecap="round" opacity="1.0"/>
<path d="M783.4,2076.5 L778.7,2072.6" stroke="#0090FF" stroke-width="1.4" stroke-linecap="round" opacity="1.0"/>
<path d="M782.8,2095.9 L780.8,2085.9" stroke="#0090FF" stroke-width="1.4" stroke-linecap="round" opacity="1.0"/>
<path d="M653.3,2131.8 L657.0,2124.8" stroke="#0090FF" stroke-width="1.4" stroke-linecap="round" opacity="1.0"/>
<path d="M762.6,1859.0 L761.9,1866.8" stroke="#0090FF" stroke-width="1.4" stroke-linecap="round" opacity="1.0"/>
<path d="M595.1,1862.6 L604.9,1867.0" stroke="#0090FF" stroke-width="1.4" stroke-linecap="round" opacity="1.0"/>
<path d="M835.6,1997.4 L829.4,1993.1" stroke="#0090FF" stroke-width="1.4" stroke-linecap="round" opacity="1.0"/>
<path d="M621.0,1853.9 L623.4,1865.8" stroke="#0090FF" stroke-width="1.4" stroke-linecap="round" opacity="1.0"/>
<path d="M534.8,1936.6 L545.8,1943.5" stroke="#0090FF" stroke-width="1.4" stroke-linecap="round" opacity="1.0"/>
<path d="M757.2,1846.4 L753.8,1855.7" stroke="#0090FF" stroke-width="1.4" stroke-linecap="round" opacity="1.0"/>
<path d="M542.6,1952.3 L549.8,1955.3" stroke="#0090FF" stroke-width="1.4" stroke-linecap="round" opacity="1.0"/>
<path d="M756.6,1858.8 L753.1,1863.4" stroke="#0090FF" stroke-width="1.4" stroke-linecap="round" opacity="1.0"/>
<path d="M558.6,1920.2 L570.7,1921.3" stroke="#0090FF" stroke-width="1.4" stroke-linecap="round" opacity="1.0"/>
<path d="M835.8,1967.8 L821.9,1967.3" stroke="#0090FF" stroke-width="1.4" stroke-linecap="round" opacity="1.0"/>
<path d="M578.8,1877.9 L585.5,1889.2" stroke="#0090FF" stroke-width="1.4" stroke-linecap="round" opacity="1.0"/>
<path d="M829.8,1994.6 L820.3,1989.7" stroke="#0090FF" stroke-width="1.4" stroke-linecap="round" opacity="1.0"/>
<path d="M545.9,1946.5 L557.7,1945.1" stroke="#0090FF" stroke-width="1.4" stroke-linecap="round" opacity="1.0"/>
<path d="M836.3,2004.4 L830.1,2005.5" stroke="#0090FF" stroke-width="1.4" stroke-linecap="round" opacity="1.0"/>
<path d="M713.4,2126.2 L712.7,2117.4" stroke="#0090FF" stroke-width="1.4" stroke-linecap="round" opacity="1.0"/>
<path d="M758.9,1863.1 L755.3,1866.6" stroke="#0090FF" stroke-width="1.4" stroke-linecap="round" opacity="1.0"/>
<path d="M666.7,1824.6 L666.1,1829.7" stroke="#0090FF" stroke-width="1.4" stroke-linecap="round" opacity="1.0"/>
<path d="M791.0,1864.6 L788.9,1872.1" stroke="#0090FF" stroke-width="1.4" stroke-linecap="round" opacity="1.0"/>
<path d="M553.0,1902.1 L556.9,1907.0" stroke="#0090FF" stroke-width="1.4" stroke-linecap="round" opacity="1.0"/>
<path d="M796.3,2088.7 L791.8,2078.0" stroke="#0090FF" stroke-width="1.4" stroke-linecap="round" opacity="1.0"/>
<path d="M550.6,2014.9 L561.8,2009.3" stroke="#0090FF" stroke-width="1.4" stroke-linecap="round" opacity="1.0"/>
<path d="M571.0,1876.4 L573.1,1881.9" stroke="#0090FF" stroke-width="1.4" stroke-linecap="round" opacity="1.0"/>
<path d="M544.2,2014.7 L556.7,2009.6" stroke="#0090FF" stroke-width="1.4" stroke-linecap="round" opacity="1.0"/>
<path d="M558.3,1908.0 L566.4,1911.7" stroke="#0090FF" stroke-width="1.4" stroke-linecap="round" opacity="1.0"/>
<path d="M544.3,1918.2 L547.9,1921.9" stroke="#0066FF" stroke-width="1.0" stroke-linecap="round" opacity="1.0"/>
<path d="M582.4,1866.8 L592.2,1874.6" stroke="#0066FF" stroke-width="1.0" stroke-linecap="round" opacity="1.0"/>
<path d="M731.4,1833.8 L728.4,1839.1" stroke="#0066FF" stroke-width="1.0" stroke-linecap="round" opacity="1.0"/>
<path d="M558.0,1891.2 L566.9,1899.8" stroke="#0066FF" stroke-width="1.0" stroke-linecap="round" opacity="1.0"/>
<path d="M564.3,1880.3 L570.4,1882.6" stroke="#0066FF" stroke-width="1.0" stroke-linecap="round" opacity="1.0"/>
<path d="M598.5,1853.6 L603.6,1866.2" stroke="#0066FF" stroke-width="1.0" stroke-linecap="round" opacity="1.0"/>
<path d="M534.2,1940.7 L540.4,1940.7" stroke="#0066FF" stroke-width="1.0" stroke-linecap="round" opacity="1.0"/>
<path d="M836.6,1958.7 L826.0,1959.9" stroke="#0066FF" stroke-width="1.0" stroke-linecap="round" opacity="1.0"/>
<path d="M821.7,2036.5 L814.9,2035.5" stroke="#0066FF" stroke-width="1.0" stroke-linecap="round" opacity="1.0"/>
<path d="M542.6,2003.2 L553.2,1997.0" stroke="#0066FF" stroke-width="1.0" stroke-linecap="round" opacity="1.0"/>
<path d="M838,1979L832,1984L823,1988L819,1992L824,1997L833,2002L837,2008L833,2012L825,2015L819,2018L817,2022L816,2026L813,2030L810,2033L809,2037L812,2044L814,2050L812,2054L804,2055L798,2056L796,2060L798,2067L798,2072L793,2074L785,2073L780,2074L778,2078L778,2084L777,2091L774,2094L770,2096L765,2096L760,2097L755,2097L750,2097L746,2099L743,2102L740,2106L737,2111L734,2115L730,2118L725,2118L720,2117L715,2115L711,2115L707,2117L703,2120L699,2123L694,2125L690,2128L685,2131L680,2130L676,2123L673,2110L669,2102L665,2105L659,2117L652,2127L647,2127L645,2117L644,2106L641,2102L634,2107L627,2113L622,2113L619,2109L616,2104L613,2100L610,2097L608,2093L605,2088L601,2087L595,2088L587,2090L583,2088L581,2083L580,2077L577,2074L572,2072L570,2068L570,2063L570,2057L566,2054L558,2054L552,2052L552,2047L556,2040L559,2033L557,2030L551,2027L547,2024L548,2019L550,2014L548,2010L542,2006L535,2003L534,1998L538,1993L542,1988L544,1983L544,1979L545,1975L549,1970L550,1966L547,1962L541,1956L539,1951L545,1948L553,1945L557,1942L552,1936L544,1928L543,1923L551,1921L562,1921L569,1920L568,1915L563,1907L561,1901L564,1897L569,1894L571,1890L571,1885L575,1882L582,1882L591,1885L596,1885L598,1880L598,1873L598,1867L600,1862L602,1858L606,1855L611,1853L616,1853L621,1853L625,1852L629,1849L633,1849L639,1850L643,1850L646,1845L648,1835L651,1829L657,1833L664,1843L669,1852L673,1851L676,1843L680,1835L685,1834L689,1839L694,1842L698,1841L703,1837L708,1836L712,1839L716,1842L720,1843L724,1843L729,1845L732,1847L737,1848L742,1847L748,1846L752,1848L755,1853L758,1856L763,1856L768,1857L771,1861L771,1868L771,1874L776,1875L784,1874L789,1875L788,1882L785,1891L786,1896L795,1894L808,1890L817,1890L818,1895L815,1902L814,1908L816,1912L818,1917L815,1923L810,1930L806,1935L808,1939L815,1941L823,1944L827,1947L827,1952L823,1957L821,1962L822,1966L829,1970L836,1974Z" fill="#00FF88"/>
<path d="M808,1979L808,1983L810,1987L811,1991L813,1995L813,1999L809,2003L803,2005L798,2008L796,2011L799,2016L803,2022L807,2027L807,2032L805,2035L802,2039L799,2042L796,2044L791,2046L787,2048L784,2051L783,2055L782,2059L778,2061L772,2060L765,2059L762,2061L763,2068L768,2079L770,2089L768,2093L761,2091L753,2086L747,2084L743,2085L740,2088L738,2091L735,2094L732,2098L730,2104L727,2109L723,2108L717,2103L712,2098L707,2096L704,2100L701,2103L697,2103L692,2098L689,2094L685,2093L681,2097L677,2103L673,2106L669,2104L666,2099L663,2096L659,2097L653,2102L648,2108L643,2107L641,2100L641,2090L640,2084L635,2084L629,2089L622,2093L619,2091L617,2086L616,2081L613,2078L609,2076L607,2074L605,2070L603,2066L599,2065L594,2064L588,2064L584,2063L580,2060L577,2057L574,2054L572,2051L571,2046L573,2041L574,2035L574,2031L571,2028L567,2026L565,2022L569,2017L575,2011L577,2007L571,2004L560,2003L552,2000L555,1995L564,1990L571,1986L567,1983L555,1979L545,1975L544,1970L552,1966L560,1963L564,1960L566,1956L570,1953L574,1951L574,1947L567,1941L560,1934L559,1929L566,1928L576,1928L581,1926L580,1921L577,1915L579,1911L581,1908L582,1904L582,1899L584,1895L591,1896L598,1897L601,1895L598,1887L598,1880L604,1881L614,1888L622,1893L622,1887L618,1873L615,1861L619,1858L626,1862L631,1865L634,1862L636,1856L640,1853L645,1855L650,1858L654,1859L658,1858L662,1858L666,1859L670,1859L674,1858L677,1858L681,1859L685,1858L689,1853L693,1846L698,1845L701,1852L703,1862L706,1866L711,1861L717,1853L722,1850L725,1855L727,1862L731,1863L736,1861L740,1862L741,1869L741,1876L746,1876L755,1869L763,1865L765,1869L762,1880L758,1890L761,1893L767,1892L772,1892L773,1897L772,1902L774,1905L780,1905L786,1906L789,1909L790,1912L794,1915L799,1916L802,1919L800,1925L795,1931L795,1935L802,1937L810,1938L814,1942L810,1947L805,1952L805,1956L809,1959L814,1963L815,1967L813,1971L810,1975Z" fill="#00FF28"/>
<path d="M580.8,1964.3 L597.4,1954.4 L597.2,1940.3 L611.3,1932.8 L607.1,1919.2 L615.9,1915.3 L613.6,1901.0 L630.4,1908.9 L633.3,1899.2 L645.1,1902.3 L648.2,1892.3 L659.3,1901.3 L664.2,1892.7 L672.4,1893.3 L678.8,1881.9 L685.9,1883.1 L695.1,1870.0 L701.6,1882.8 L713.1,1867.2 L717.3,1882.9 L727.3,1881.1 L730.9,1894.1 L740.1,1890.8 L739.8,1902.3 L753.2,1894.9 L753.0,1910.1 L766.4,1911.3 L764.5,1924.9 L775.8,1928.2 L771.0,1940.6 L785.7,1944.5 L773.5,1956.2 L785.0,1961.9 L773.5,1971.8 L784.4,1978.5 L779.1,1985.3 L789.9,1993.0 L773.9,1998.0 L778.5,2007.4 L765.6,2011.8 L774.0,2023.2 L762.2,2024.6 L771.3,2038.3 L756.9,2036.2 L757.1,2045.3 L747.0,2045.1 L748.8,2056.2 L736.1,2049.4 L740.1,2065.7 L723.7,2056.8 L717.7,2067.9 L705.3,2061.4 L700.9,2079.9 L692.5,2073.6 L686.0,2092.6 L679.4,2069.1 L671.3,2072.3 L666.1,2054.9 L656.8,2060.4 L653.5,2048.4 L640.2,2057.9 L639.0,2045.5 L625.0,2051.7 L627.1,2038.6 L611.5,2042.6 L612.6,2031.9 L597.8,2032.9 L601.2,2022.3 L585.5,2021.4 L589.3,2012.1 L579.3,2007.8 L591.3,1997.5 L584.4,1991.0 L593.8,1981.9 L581.1,1973.3Z" fill="#8CFF00" />
<path d="M695.8,1902.4 C689.2,1901.4 696.8,1916.0 701.8,1920.3 C706.7,1924.6 719.0,1927.3 725.6,1928.3 C732.2,1929.2 746.5,1930.6 741.5,1926.3 C736.5,1922.0 702.4,1903.4 695.8,1902.4Z" fill="#E8FF00" />
<path d="M670.0,1914.4 C669.0,1915.2 669.9,1917.7 672.3,1920.7 C674.7,1923.7 676.9,1925.1 677.9,1924.3 C679.0,1923.5 678.1,1920.9 675.7,1918.0 C673.3,1915.0 671.0,1913.5 670.0,1914.4Z" fill="#E8FF00" />
<path d="M674.0,1932.2 C676.0,1932.9 681.6,1936.5 685.9,1936.2 C690.2,1935.9 697.5,1931.2 699.8,1930.2" fill="none" stroke="#E8FF00" stroke-width="3.0" stroke-linejoin="round" stroke-linecap="round" />
<path d="M640.2,1934.2 C642.4,1933.4 651.6,1933.4 654.1,1934.2 C656.6,1935.0 657.3,1938.3 655.1,1939.2 C653.0,1940.0 643.7,1940.0 641.2,1939.2 C638.7,1938.3 638.1,1935.0 640.2,1934.2Z" fill="#E8FF00" />
<path d="M689.9,1958.0 C691.9,1960.4 699.5,1967.3 701.8,1971.9 C704.1,1976.6 703.4,1983.5 703.8,1985.9" fill="none" stroke="#E8FF00" stroke-width="3.0" stroke-linejoin="round" stroke-linecap="round" />
<path d="M717.7,1948.1 C716.5,1948.6 717.2,1952.9 719.6,1958.9 C722.0,1964.8 724.4,1968.5 725.6,1968.0 C726.8,1967.5 726.1,1963.2 723.7,1957.2 C721.3,1951.3 718.9,1947.6 717.7,1948.1Z" fill="#E8FF00" />
<path d="M729.6,1977.9 C731.9,1976.3 744.8,1974.9 747.5,1975.9 C750.1,1976.9 747.8,1982.2 745.5,1983.9 C743.2,1985.5 736.2,1986.8 733.6,1985.9 C730.9,1984.9 727.3,1979.6 729.6,1977.9Z" fill="#E8FF00" />
<path d="M666.0,1989.8 C669.3,1990.8 679.9,1994.8 685.9,1995.8 C691.9,1996.8 699.1,1995.8 701.8,1995.8" fill="none" stroke="#E8FF00" stroke-width="3.0" stroke-linejoin="round" stroke-linecap="round" />
<path d="M642.2,1991.8 C642.5,1987.5 645.5,1985.9 648.2,1993.8 C650.8,2001.7 657.4,2031.9 658.1,2039.5 C658.7,2047.1 654.1,2042.8 652.1,2039.5 C650.1,2036.2 647.8,2027.6 646.2,2019.6 C644.5,2011.7 641.9,1996.1 642.2,1991.8Z" fill="#E8FF00" />
<path d="M666.0,2039.5 C668.7,2037.8 677.3,2032.2 681.9,2029.5 C686.6,2026.9 691.9,2024.6 693.8,2023.6" fill="none" stroke="#E8FF00" stroke-width="3.0" stroke-linejoin="round" stroke-linecap="round" />
<path d="M709.7,2021.6 C712.4,2019.9 723.3,2010.3 725.6,2011.7 C727.9,2013.0 724.0,2026.6 723.6,2029.5" fill="none" stroke="#E8FF00" stroke-width="3.0" stroke-linejoin="round" stroke-linecap="round" />
<path d="M602.5,2009.7 C602.9,2010.9 606.4,2010.5 611.2,2008.8 C616.0,2007.0 618.8,2005.0 618.4,2003.7 C617.9,2002.5 614.4,2002.9 609.7,2004.7 C604.9,2006.4 602.0,2008.5 602.5,2009.7Z" fill="#E8FF00" />
<path d="M614.4,1971.9 C615.0,1973.1 617.0,1973.1 619.3,1971.9 C621.7,1970.7 622.9,1969.1 622.3,1968.0 C621.8,1966.8 619.8,1966.8 617.4,1968.0 C615.0,1969.2 613.8,1970.8 614.4,1971.9Z" fill="#E8FF00" />
<path d="M681.9,2059.3 C680.7,2059.9 682.0,2064.3 684.9,2070.2 C687.9,2076.2 690.7,2079.8 691.9,2079.2 C693.0,2078.6 691.8,2074.3 688.8,2068.3 C685.9,2062.3 683.1,2058.8 681.9,2059.3Z" fill="#E8FF00" />
<rect x="530.0" y="1824.0" width="310.4" height="311.4" fill="url(#dots)"/>
</g>
<ellipse cx="685.2" cy="1979.7" rx="155.2" ry="155.7" fill="none" stroke="#3a3a3a" stroke-width="1.5"/>
<clipPath id="c19"><ellipse cx="1063.9" cy="1978.9" rx="154.3" ry="154.9"/></clipPath>
<g clip-path="url(#c19)">
<ellipse cx="1063.9" cy="1978.9" rx="156.3" ry="156.9" fill="#00FFE8"/>
<path d="M1061.8,1837.3 L1063.5,1844.3" stroke="#0090FF" stroke-width="1.4" stroke-linecap="round" opacity="1.0"/>
<path d="M944.2,2063.8 L951.4,2055.1" stroke="#0090FF" stroke-width="1.4" stroke-linecap="round" opacity="1.0"/>
<path d="M1179.5,1891.6 L1174.7,1898.5" stroke="#0090FF" stroke-width="1.4" stroke-linecap="round" opacity="1.0"/>
<path d="M934.5,1902.9 L939.5,1907.5" stroke="#0090FF" stroke-width="1.4" stroke-linecap="round" opacity="1.0"/>
<path d="M923.1,1954.3 L930.7,1952.4" stroke="#0090FF" stroke-width="1.4" stroke-linecap="round" opacity="1.0"/>
<path d="M1081.6,1823.1 L1083.4,1834.4" stroke="#0090FF" stroke-width="1.4" stroke-linecap="round" opacity="1.0"/>
<path d="M996.1,2114.9 L999.1,2110.0" stroke="#0090FF" stroke-width="1.4" stroke-linecap="round" opacity="1.0"/>
<path d="M979.7,1857.9 L985.2,1861.5" stroke="#0090FF" stroke-width="1.4" stroke-linecap="round" opacity="1.0"/>
<path d="M1218.5,1985.5 L1206.3,1986.2" stroke="#0090FF" stroke-width="1.4" stroke-linecap="round" opacity="1.0"/>
<path d="M959.6,2085.6 L964.5,2077.6" stroke="#0090FF" stroke-width="1.4" stroke-linecap="round" opacity="1.0"/>
<path d="M968.7,1870.3 L975.6,1879.8" stroke="#0090FF" stroke-width="1.4" stroke-linecap="round" opacity="1.0"/>
<path d="M1041.6,2124.6 L1043.3,2114.5" stroke="#0090FF" stroke-width="1.4" stroke-linecap="round" opacity="1.0"/>
<path d="M1095.0,1832.6 L1089.9,1839.4" stroke="#0090FF" stroke-width="1.4" stroke-linecap="round" opacity="1.0"/>
<path d="M1198.3,2035.5 L1186.9,2035.8" stroke="#0090FF" stroke-width="1.4" stroke-linecap="round" opacity="1.0"/>
<path d="M1208.7,2034.4 L1201.4,2033.1" stroke="#0090FF" stroke-width="1.4" stroke-linecap="round" opacity="1.0"/>
<path d="M1035.6,1832.8 L1034.1,1839.5" stroke="#0090FF" stroke-width="1.4" stroke-linecap="round" opacity="1.0"/>
<path d="M1122.6,2102.9 L1117.8,2096.9" stroke="#0090FF" stroke-width="1.4" stroke-linecap="round" opacity="1.0"/>
<path d="M997.7,2112.0 L1002.9,2103.2" stroke="#0090FF" stroke-width="1.4" stroke-linecap="round" opacity="1.0"/>
<path d="M1151.8,1867.8 L1148.0,1874.5" stroke="#0090FF" stroke-width="1.4" stroke-linecap="round" opacity="1.0"/>
<path d="M1203.1,1957.3 L1195.7,1954.9" stroke="#0090FF" stroke-width="1.4" stroke-linecap="round" opacity="1.0"/>
<path d="M1216.7,1986.2 L1203.5,1985.7" stroke="#0090FF" stroke-width="1.4" stroke-linecap="round" opacity="1.0"/>
<path d="M1043.3,2115.6 L1048.7,2106.5" stroke="#0090FF" stroke-width="1.4" stroke-linecap="round" opacity="1.0"/>
<path d="M1089.2,2117.5 L1089.9,2109.9" stroke="#0090FF" stroke-width="1.4" stroke-linecap="round" opacity="1.0"/>
<path d="M1035.7,2128.4 L1041.5,2120.9" stroke="#0090FF" stroke-width="1.4" stroke-linecap="round" opacity="1.0"/>
<path d="M912.1,1989.6 L923.0,1988.8" stroke="#0090FF" stroke-width="1.4" stroke-linecap="round" opacity="1.0"/>
<path d="M933.4,2054.9 L946.4,2052.6" stroke="#0090FF" stroke-width="1.4" stroke-linecap="round" opacity="1.0"/>
<path d="M926.5,2037.4 L934.0,2031.8" stroke="#0090FF" stroke-width="1.4" stroke-linecap="round" opacity="1.0"/>
<path d="M1070.9,1832.0 L1069.6,1837.0" stroke="#0090FF" stroke-width="1.4" stroke-linecap="round" opacity="1.0"/>
<path d="M911.7,1955.5 L919.7,1952.7" stroke="#0090FF" stroke-width="1.4" stroke-linecap="round" opacity="1.0"/>
<path d="M980.9,2104.7 L983.7,2095.6" stroke="#0090FF" stroke-width="1.4" stroke-linecap="round" opacity="1.0"/>
<path d="M1068.1,2123.2 L1070.3,2116.1" stroke="#0066FF" stroke-width="1.0" stroke-linecap="round" opacity="1.0"/>
<path d="M1081.9,2131.6 L1080.6,2123.5" stroke="#0066FF" stroke-width="1.0" stroke-linecap="round" opacity="1.0"/>
<path d="M1022.2,1841.3 L1024.3,1853.8" stroke="#0066FF" stroke-width="1.0" stroke-linecap="round" opacity="1.0"/>
<path d="M1057.3,2124.3 L1060.6,2115.5" stroke="#0066FF" stroke-width="1.0" stroke-linecap="round" opacity="1.0"/>
<path d="M1192.1,1912.8 L1184.1,1913.1" stroke="#0066FF" stroke-width="1.0" stroke-linecap="round" opacity="1.0"/>
<path d="M1042.6,2131.0 L1046.0,2121.1" stroke="#0066FF" stroke-width="1.0" stroke-linecap="round" opacity="1.0"/>
<path d="M985.0,1858.0 L988.9,1871.2" stroke="#0066FF" stroke-width="1.0" stroke-linecap="round" opacity="1.0"/>
<path d="M1161.5,1861.7 L1153.0,1871.5" stroke="#0066FF" stroke-width="1.0" stroke-linecap="round" opacity="1.0"/>
<path d="M1187.4,2059.1 L1183.7,2052.7" stroke="#0066FF" stroke-width="1.0" stroke-linecap="round" opacity="1.0"/>
<path d="M1098.6,2118.3 L1099.4,2105.4" stroke="#0066FF" stroke-width="1.0" stroke-linecap="round" opacity="1.0"/>
<path d="M1203,1979L1208,1984L1211,1988L1213,1993L1213,1998L1211,2002L1208,2006L1203,2010L1200,2014L1200,2018L1199,2023L1196,2026L1191,2029L1188,2033L1189,2038L1192,2044L1194,2050L1191,2054L1185,2056L1179,2057L1176,2060L1175,2065L1174,2070L1171,2074L1167,2076L1163,2078L1160,2081L1156,2084L1153,2086L1149,2088L1144,2090L1141,2092L1138,2095L1136,2101L1134,2106L1130,2108L1125,2108L1120,2107L1115,2109L1112,2113L1110,2121L1107,2127L1103,2129L1097,2127L1091,2120L1085,2112L1080,2108L1076,2109L1073,2116L1069,2126L1064,2132L1059,2131L1055,2125L1051,2120L1046,2119L1042,2119L1038,2116L1035,2111L1031,2108L1026,2110L1020,2115L1014,2118L1010,2115L1007,2112L1002,2110L997,2110L992,2109L990,2104L989,2097L987,2092L983,2091L978,2090L974,2087L973,2083L969,2080L963,2080L956,2081L953,2077L955,2069L957,2062L953,2060L945,2060L939,2058L939,2053L944,2045L946,2039L942,2037L935,2035L930,2032L929,2028L931,2022L931,2018L930,2013L928,2009L925,2006L921,2002L917,1998L915,1993L917,1988L920,1984L921,1979L921,1974L922,1970L927,1966L932,1962L933,1958L928,1953L922,1947L922,1943L927,1939L930,1935L928,1930L924,1924L925,1919L932,1917L941,1916L944,1913L941,1907L940,1900L944,1898L952,1897L957,1896L957,1890L956,1884L958,1879L964,1879L971,1880L975,1879L978,1875L981,1872L984,1869L987,1866L989,1860L990,1854L993,1849L997,1847L1001,1846L1005,1843L1010,1841L1015,1843L1021,1847L1026,1848L1029,1844L1032,1836L1036,1833L1041,1836L1047,1844L1052,1848L1056,1844L1060,1836L1064,1830L1069,1827L1073,1828L1078,1830L1083,1832L1087,1836L1090,1840L1094,1844L1098,1846L1103,1846L1107,1847L1111,1848L1115,1849L1120,1849L1124,1851L1128,1853L1131,1856L1135,1859L1139,1860L1143,1862L1146,1866L1149,1870L1154,1870L1162,1868L1169,1867L1173,1870L1172,1878L1169,1887L1168,1893L1171,1896L1176,1898L1181,1900L1184,1903L1185,1907L1186,1912L1187,1916L1189,1920L1194,1923L1200,1925L1203,1929L1201,1934L1195,1941L1192,1946L1195,1950L1204,1952L1211,1956L1211,1960L1205,1966L1200,1970L1200,1975Z" fill="#00FF88"/>
<path d="M1191,1979L1191,1983L1183,1987L1177,1990L1178,1993L1186,1998L1192,2004L1192,2008L1185,2010L1178,2012L1175,2015L1176,2019L1178,2024L1179,2029L1179,2033L1179,2038L1178,2042L1175,2045L1171,2047L1167,2049L1166,2053L1167,2059L1166,2064L1163,2066L1157,2067L1151,2066L1145,2065L1142,2067L1141,2073L1142,2079L1141,2085L1136,2085L1127,2079L1118,2071L1113,2069L1113,2075L1115,2087L1115,2098L1114,2104L1110,2106L1105,2105L1100,2104L1096,2102L1091,2101L1087,2101L1084,2103L1080,2106L1076,2107L1072,2107L1068,2105L1064,2104L1060,2101L1057,2098L1053,2096L1049,2098L1044,2104L1039,2110L1035,2111L1032,2105L1029,2098L1026,2096L1021,2099L1016,2101L1013,2098L1011,2091L1010,2085L1007,2082L1004,2081L1001,2079L998,2076L994,2076L986,2079L979,2082L975,2080L977,2072L980,2063L978,2060L969,2062L958,2066L952,2066L954,2059L961,2049L966,2041L967,2036L965,2034L961,2031L958,2029L954,2027L947,2025L938,2024L932,2022L930,2018L931,2013L933,2008L936,2004L938,1999L941,1995L945,1990L947,1986L945,1983L939,1979L936,1975L939,1971L945,1968L949,1964L947,1961L942,1956L938,1951L938,1947L940,1943L941,1939L941,1935L944,1931L951,1930L960,1930L962,1927L957,1920L951,1912L951,1907L958,1907L965,1907L968,1904L966,1898L966,1893L972,1893L980,1895L984,1893L983,1888L983,1881L987,1880L994,1883L999,1883L998,1876L996,1864L996,1856L1001,1856L1008,1860L1013,1862L1017,1859L1020,1857L1025,1859L1030,1863L1034,1864L1038,1861L1041,1857L1044,1855L1048,1855L1052,1855L1056,1853L1060,1852L1064,1857L1068,1864L1071,1869L1075,1866L1079,1859L1084,1852L1089,1850L1093,1851L1096,1854L1099,1859L1101,1864L1104,1867L1108,1867L1114,1864L1119,1862L1122,1865L1124,1870L1125,1875L1129,1876L1134,1876L1137,1879L1137,1885L1137,1891L1140,1892L1147,1890L1153,1890L1155,1893L1155,1898L1158,1901L1165,1901L1173,1899L1178,1901L1178,1907L1174,1914L1172,1919L1175,1922L1182,1924L1188,1925L1192,1928L1191,1933L1187,1939L1183,1944L1184,1948L1191,1951L1198,1953L1199,1958L1192,1963L1183,1968L1180,1972L1185,1975Z" fill="#00FF28"/>
<path d="M961.2,1927.0 L977.6,1928.4 L978.4,1920.8 L996.6,1925.2 L991.1,1909.2 L1005.7,1912.3 L1002.6,1895.3 L1018.3,1903.6 L1020.6,1889.7 L1032.7,1895.3 L1038.3,1883.0 L1049.2,1891.3 L1056.0,1873.6 L1063.6,1889.3 L1071.1,1883.0 L1076.5,1902.1 L1088.4,1887.7 L1096.3,1889.8 L1110.2,1876.1 L1112.8,1894.4 L1124.9,1896.1 L1123.5,1915.3 L1137.8,1905.7 L1134.8,1913.3 L1148.0,1905.7 L1142.8,1918.4 L1155.0,1917.6 L1149.1,1928.9 L1162.9,1927.4 L1156.8,1936.3 L1170.7,1936.0 L1158.0,1946.6 L1165.8,1950.3 L1152.8,1959.9 L1162.6,1964.8 L1148.5,1973.2 L1156.4,1980.0 L1145.5,1985.0 L1162.0,1991.8 L1154.4,1995.5 L1157.1,2003.2 L1141.3,2006.2 L1142.9,2015.6 L1128.4,2015.4 L1137.5,2028.8 L1123.9,2027.1 L1127.5,2038.7 L1115.7,2036.1 L1115.0,2045.2 L1105.9,2043.4 L1105.3,2054.8 L1096.8,2051.6 L1096.7,2068.3 L1088.6,2063.0 L1087.7,2081.9 L1078.5,2074.9 L1072.4,2087.4 L1064.9,2077.6 L1059.0,2085.9 L1054.2,2067.3 L1047.1,2069.3 L1043.2,2055.1 L1033.2,2063.6 L1028.3,2057.3 L1017.7,2061.0 L1018.1,2046.1 L1005.7,2050.2 L1006.6,2038.1 L989.6,2044.1 L991.2,2033.2 L979.7,2030.0 L980.9,2019.2 L969.4,2014.7 L977.4,2005.8 L964.4,2003.3 L973.5,1995.4 L966.7,1989.5 L981.7,1981.2 L975.9,1973.3 L979.2,1969.1 L963.9,1962.7 L973.3,1960.4 L963.3,1948.2 L969.6,1940.7Z" fill="#8CFF00" />
<path d="M991.4,1936.2 C994.1,1935.5 1006.1,1935.5 1009.3,1936.2 C1012.4,1936.9 1012.9,1939.5 1010.3,1940.2 C1007.6,1940.8 996.5,1940.8 993.4,1940.2 C990.2,1939.5 988.8,1936.9 991.4,1936.2Z" fill="#E8FF00" />
<path d="M1058.9,1896.5 C1057.6,1896.7 1057.6,1902.3 1058.8,1910.7 C1060.0,1919.0 1061.6,1924.5 1062.9,1924.3 C1064.2,1924.1 1064.3,1918.4 1063.1,1910.1 C1061.9,1901.7 1060.2,1896.3 1058.9,1896.5Z" fill="#E8FF00" />
<path d="M1053.0,1940.2 C1054.6,1937.4 1063.2,1930.9 1064.9,1932.2 C1066.5,1933.5 1064.6,1945.3 1062.9,1948.1 C1061.3,1950.9 1056.6,1950.4 1055.0,1949.1 C1053.3,1947.8 1051.3,1943.0 1053.0,1940.2Z" fill="#E8FF00" />
<path d="M1070.9,1932.2 C1069.7,1932.9 1070.9,1936.9 1073.9,1942.2 C1076.9,1947.6 1079.6,1950.7 1080.8,1950.1 C1081.9,1949.5 1080.7,1945.5 1077.7,1940.1 C1074.7,1934.7 1072.0,1931.6 1070.9,1932.2Z" fill="#E8FF00" />
<path d="M1084.8,1916.3 C1085.7,1919.0 1088.7,1927.6 1090.7,1932.2 C1092.7,1936.9 1095.7,1942.2 1096.7,1944.1" fill="none" stroke="#E8FF00" stroke-width="3.0" stroke-linejoin="round" stroke-linecap="round" />
<path d="M1104.6,1948.1 C1104.6,1949.4 1108.2,1950.3 1113.6,1950.3 C1118.9,1950.3 1122.5,1949.4 1122.5,1948.1 C1122.5,1946.8 1118.9,1945.9 1113.6,1945.9 C1108.2,1945.9 1104.6,1946.8 1104.6,1948.1Z" fill="#E8FF00" />
<path d="M1056.9,1962.0 C1056.3,1963.1 1057.8,1965.1 1060.8,1966.9 C1063.8,1968.7 1066.2,1969.1 1066.9,1968.0 C1067.6,1966.9 1066.0,1964.9 1063.0,1963.1 C1060.1,1961.3 1057.6,1960.9 1056.9,1962.0Z" fill="#E8FF00" />
<path d="M1012.3,1944.1 C1011.0,1944.2 1010.5,1951.4 1011.1,1962.1 C1011.7,1972.9 1012.9,1980.0 1014.2,1979.9 C1015.6,1979.8 1016.0,1972.6 1015.4,1961.9 C1014.8,1951.2 1013.6,1944.1 1012.3,1944.1Z" fill="#E8FF00" />
<path d="M993.4,2003.7 C994.2,2004.7 997.2,2003.4 1000.7,2000.4 C1004.3,1997.5 1006.1,1994.8 1005.3,1993.8 C1004.5,1992.8 1001.5,1994.1 998.0,1997.1 C994.4,2000.1 992.6,2002.7 993.4,2003.7Z" fill="#E8FF00" />
<path d="M1023.2,1997.8 C1022.2,1998.6 1023.1,2001.1 1025.5,2004.1 C1027.8,2007.1 1030.1,2008.5 1031.1,2007.7 C1032.2,2006.9 1031.2,2004.3 1028.9,2001.4 C1026.5,1998.4 1024.2,1997.0 1023.2,1997.8Z" fill="#E8FF00" />
<path d="M1017.2,2017.6 C1020.2,2019.3 1032.1,2024.3 1035.1,2027.6 C1038.1,2030.9 1035.1,2035.8 1035.1,2037.5" fill="none" stroke="#E8FF00" stroke-width="3.0" stroke-linejoin="round" stroke-linecap="round" />
<path d="M1045.0,2021.6 C1048.0,2023.9 1059.6,2032.2 1062.9,2035.5 C1066.2,2038.8 1064.6,2040.5 1064.9,2041.5" fill="none" stroke="#E8FF00" stroke-width="3.0" stroke-linejoin="round" stroke-linecap="round" />
<path d="M1070.9,2035.5 C1066.5,2036.5 1084.1,2021.9 1090.7,2017.6 C1097.3,2013.3 1106.3,2010.7 1110.6,2009.7 C1114.9,2008.7 1123.2,2007.4 1116.5,2011.7 C1109.9,2016.0 1075.2,2034.5 1070.9,2035.5Z" fill="#E8FF00" />
<path d="M1074.8,2035.5 C1073.6,2035.9 1073.9,2040.5 1075.7,2047.0 C1077.5,2053.6 1079.5,2057.7 1080.8,2057.4 C1082.0,2057.0 1081.7,2052.4 1079.9,2045.9 C1078.1,2039.3 1076.1,2035.2 1074.8,2035.5Z" fill="#E8FF00" />
<rect x="909.6" y="1824.0" width="308.6" height="309.8" fill="url(#dots)"/>
</g>
<ellipse cx="1063.9" cy="1978.9" rx="154.3" ry="154.9" fill="none" stroke="#3a3a3a" stroke-width="1.5"/>
<clipPath id="c20"><ellipse cx="1443.7" cy="1977.7" rx="156.1" ry="156.1"/></clipPath>
<g clip-path="url(#c20)">
<ellipse cx="1443.7" cy="1977.7" rx="158.1" ry="158.1" fill="#00FFE8"/>
<path d="M1404.1,1840.6 L1402.7,1853.9" stroke="#0090FF" stroke-width="1.4" stroke-linecap="round" opacity="1.0"/>
<path d="M1297.9,1943.4 L1309.4,1946.0" stroke="#0090FF" stroke-width="1.4" stroke-linecap="round" opacity="1.0"/>
<path d="M1573.4,1893.7 L1561.9,1899.3" stroke="#0090FF" stroke-width="1.4" stroke-linecap="round" opacity="1.0"/>
<path d="M1456.3,1821.9 L1455.0,1826.7" stroke="#0090FF" stroke-width="1.4" stroke-linecap="round" opacity="1.0"/>
<path d="M1506.5,1855.5 L1503.2,1866.9" stroke="#0090FF" stroke-width="1.4" stroke-linecap="round" opacity="1.0"/>
<path d="M1565.3,1908.9 L1557.0,1912.9" stroke="#0090FF" stroke-width="1.4" stroke-linecap="round" opacity="1.0"/>
<path d="M1316.3,1914.2 L1319.5,1918.5" stroke="#0090FF" stroke-width="1.4" stroke-linecap="round" opacity="1.0"/>
<path d="M1384.0,2116.9 L1386.0,2107.6" stroke="#0090FF" stroke-width="1.4" stroke-linecap="round" opacity="1.0"/>
<path d="M1466.3,2122.4 L1466.1,2109.2" stroke="#0090FF" stroke-width="1.4" stroke-linecap="round" opacity="1.0"/>
<path d="M1320.3,2055.2 L1332.4,2052.7" stroke="#0090FF" stroke-width="1.4" stroke-linecap="round" opacity="1.0"/>
<path d="M1586.6,1978.8 L1576.3,1982.6" stroke="#0090FF" stroke-width="1.4" stroke-linecap="round" opacity="1.0"/>
<path d="M1307.7,2048.1 L1319.9,2046.3" stroke="#0090FF" stroke-width="1.4" stroke-linecap="round" opacity="1.0"/>
<path d="M1552.0,2068.2 L1542.8,2064.9" stroke="#0090FF" stroke-width="1.4" stroke-linecap="round" opacity="1.0"/>
<path d="M1554.6,1893.6 L1547.3,1895.4" stroke="#0090FF" stroke-width="1.4" stroke-linecap="round" opacity="1.0"/>
<path d="M1582.9,2019.3 L1573.0,2015.7" stroke="#0090FF" stroke-width="1.4" stroke-linecap="round" opacity="1.0"/>
<path d="M1589.4,1952.3 L1578.1,1956.9" stroke="#0090FF" stroke-width="1.4" stroke-linecap="round" opacity="1.0"/>
<path d="M1534.4,2090.3 L1528.9,2081.6" stroke="#0090FF" stroke-width="1.4" stroke-linecap="round" opacity="1.0"/>
<path d="M1300.8,1973.5 L1313.2,1969.9" stroke="#0090FF" stroke-width="1.4" stroke-linecap="round" opacity="1.0"/>
<path d="M1304.8,2007.4 L1310.3,2003.8" stroke="#0090FF" stroke-width="1.4" stroke-linecap="round" opacity="1.0"/>
<path d="M1481.6,1844.0 L1482.5,1855.0" stroke="#0090FF" stroke-width="1.4" stroke-linecap="round" opacity="1.0"/>
<path d="M1565.5,1882.7 L1556.6,1886.5" stroke="#0090FF" stroke-width="1.4" stroke-linecap="round" opacity="1.0"/>
<path d="M1392.1,1831.5 L1393.8,1843.5" stroke="#0090FF" stroke-width="1.4" stroke-linecap="round" opacity="1.0"/>
<path d="M1389.3,2122.7 L1391.1,2111.7" stroke="#0090FF" stroke-width="1.4" stroke-linecap="round" opacity="1.0"/>
<path d="M1350.6,2099.4 L1358.6,2094.7" stroke="#0090FF" stroke-width="1.4" stroke-linecap="round" opacity="1.0"/>
<path d="M1482.8,2125.5 L1479.7,2117.4" stroke="#0090FF" stroke-width="1.4" stroke-linecap="round" opacity="1.0"/>
<path d="M1321.1,2058.3 L1327.4,2049.0" stroke="#0090FF" stroke-width="1.4" stroke-linecap="round" opacity="1.0"/>
<path d="M1380.0,1848.0 L1385.1,1860.2" stroke="#0090FF" stroke-width="1.4" stroke-linecap="round" opacity="1.0"/>
<path d="M1488.1,1844.7 L1485.6,1850.2" stroke="#0090FF" stroke-width="1.4" stroke-linecap="round" opacity="1.0"/>
<path d="M1335.1,1892.3 L1338.8,1896.1" stroke="#0090FF" stroke-width="1.4" stroke-linecap="round" opacity="1.0"/>
<path d="M1536.1,2103.6 L1535.1,2097.9" stroke="#0090FF" stroke-width="1.4" stroke-linecap="round" opacity="1.0"/>
<path d="M1539.5,1854.1 L1529.0,1860.6" stroke="#0066FF" stroke-width="1.0" stroke-linecap="round" opacity="1.0"/>
<path d="M1597.5,1976.3 L1584.8,1980.0" stroke="#0066FF" stroke-width="1.0" stroke-linecap="round" opacity="1.0"/>
<path d="M1469.5,1829.2 L1468.5,1836.9" stroke="#0066FF" stroke-width="1.0" stroke-linecap="round" opacity="1.0"/>
<path d="M1371.2,2116.1 L1374.4,2104.8" stroke="#0066FF" stroke-width="1.0" stroke-linecap="round" opacity="1.0"/>
<path d="M1363.6,1857.7 L1365.0,1863.6" stroke="#0066FF" stroke-width="1.0" stroke-linecap="round" opacity="1.0"/>
<path d="M1542.6,1867.9 L1538.4,1874.0" stroke="#0066FF" stroke-width="1.0" stroke-linecap="round" opacity="1.0"/>
<path d="M1597.1,1996.0 L1584.5,1992.0" stroke="#0066FF" stroke-width="1.0" stroke-linecap="round" opacity="1.0"/>
<path d="M1582.1,2034.8 L1568.3,2035.6" stroke="#0066FF" stroke-width="1.0" stroke-linecap="round" opacity="1.0"/>
<path d="M1381.9,1841.0 L1384.8,1852.7" stroke="#0066FF" stroke-width="1.0" stroke-linecap="round" opacity="1.0"/>
<path d="M1360.8,2100.4 L1362.3,2093.4" stroke="#0066FF" stroke-width="1.0" stroke-linecap="round" opacity="1.0"/>
<path d="M1595,1978L1596,1983L1589,1987L1580,1991L1576,1995L1579,1999L1583,2004L1583,2009L1580,2013L1577,2017L1579,2022L1583,2028L1586,2034L1585,2039L1581,2043L1576,2045L1570,2047L1563,2049L1558,2050L1556,2054L1557,2060L1557,2066L1553,2069L1547,2069L1543,2071L1544,2078L1547,2088L1547,2095L1540,2095L1530,2089L1522,2085L1518,2087L1517,2093L1516,2100L1513,2103L1509,2106L1505,2108L1501,2109L1496,2109L1490,2106L1486,2106L1483,2111L1480,2116L1476,2119L1471,2117L1466,2115L1461,2115L1457,2119L1453,2123L1449,2123L1444,2120L1440,2118L1435,2119L1431,2119L1426,2117L1422,2115L1418,2113L1413,2115L1409,2116L1404,2116L1399,2115L1395,2114L1390,2113L1386,2112L1383,2108L1380,2104L1376,2102L1371,2102L1367,2100L1365,2095L1364,2089L1361,2086L1354,2086L1348,2087L1345,2083L1347,2075L1348,2068L1344,2066L1333,2070L1323,2072L1319,2069L1321,2061L1325,2054L1324,2049L1321,2046L1317,2043L1316,2038L1315,2034L1309,2031L1301,2029L1296,2026L1299,2020L1307,2013L1313,2007L1312,2003L1306,2000L1301,1996L1301,1992L1305,1987L1308,1982L1307,1978L1302,1974L1297,1969L1297,1964L1301,1960L1305,1956L1306,1952L1304,1947L1302,1942L1304,1937L1309,1934L1315,1932L1320,1929L1321,1925L1318,1919L1315,1912L1315,1907L1318,1904L1325,1902L1332,1902L1337,1900L1339,1896L1337,1890L1336,1883L1338,1878L1342,1876L1347,1874L1350,1871L1352,1867L1354,1862L1358,1859L1362,1858L1368,1858L1373,1857L1377,1856L1381,1854L1385,1852L1388,1848L1391,1844L1394,1840L1399,1839L1404,1839L1409,1840L1413,1840L1418,1839L1422,1838L1426,1837L1430,1835L1435,1833L1439,1833L1444,1836L1448,1840L1453,1843L1457,1840L1462,1835L1467,1832L1472,1832L1476,1835L1480,1837L1485,1838L1489,1839L1492,1844L1495,1850L1497,1855L1501,1857L1506,1856L1510,1857L1513,1861L1516,1864L1521,1865L1527,1864L1535,1861L1541,1861L1545,1864L1546,1869L1547,1875L1548,1881L1550,1885L1552,1888L1556,1891L1558,1895L1558,1900L1558,1905L1559,1910L1561,1914L1564,1917L1568,1920L1572,1923L1578,1925L1582,1928L1584,1932L1584,1937L1582,1943L1583,1947L1585,1951L1587,1955L1586,1960L1583,1965L1583,1969L1589,1973Z" fill="#00FF88"/>
<path d="M1569,1978L1570,1982L1569,1986L1566,1990L1564,1993L1563,1997L1565,2001L1568,2006L1570,2010L1568,2014L1562,2016L1556,2018L1553,2021L1552,2025L1553,2029L1553,2034L1554,2038L1554,2043L1553,2047L1548,2049L1540,2048L1533,2047L1531,2050L1534,2057L1537,2066L1537,2071L1532,2072L1526,2071L1523,2073L1521,2078L1520,2083L1517,2085L1513,2086L1507,2085L1503,2085L1499,2085L1495,2087L1493,2091L1491,2096L1488,2101L1485,2103L1480,2102L1475,2099L1471,2098L1467,2100L1464,2102L1460,2105L1456,2106L1452,2106L1448,2107L1444,2108L1440,2109L1436,2109L1432,2105L1429,2100L1425,2096L1421,2097L1416,2103L1410,2111L1405,2113L1402,2108L1400,2099L1398,2094L1394,2094L1388,2096L1385,2094L1385,2086L1385,2078L1382,2075L1376,2078L1370,2080L1367,2077L1367,2070L1367,2065L1362,2065L1355,2067L1349,2067L1347,2063L1348,2058L1348,2053L1345,2050L1343,2047L1343,2042L1342,2038L1339,2036L1330,2036L1322,2035L1319,2032L1322,2026L1328,2020L1330,2015L1328,2012L1325,2009L1322,2005L1320,2002L1319,1998L1317,1994L1318,1990L1323,1986L1328,1982L1330,1978L1325,1974L1317,1970L1312,1965L1313,1961L1320,1958L1327,1956L1332,1953L1332,1949L1330,1945L1328,1940L1326,1935L1325,1931L1325,1926L1327,1923L1329,1919L1330,1915L1329,1910L1330,1906L1334,1903L1342,1904L1351,1906L1357,1906L1358,1902L1357,1896L1355,1889L1357,1885L1360,1882L1363,1880L1365,1877L1368,1874L1373,1873L1378,1874L1381,1872L1383,1867L1385,1862L1389,1861L1394,1863L1399,1865L1403,1864L1406,1860L1409,1857L1413,1857L1418,1861L1422,1864L1425,1861L1428,1855L1432,1850L1436,1848L1440,1850L1444,1852L1448,1852L1452,1851L1456,1849L1460,1849L1464,1851L1468,1854L1471,1856L1476,1855L1480,1853L1484,1855L1486,1862L1486,1872L1488,1876L1494,1871L1504,1860L1512,1855L1512,1863L1507,1879L1503,1891L1507,1891L1518,1882L1530,1875L1534,1876L1531,1885L1530,1892L1535,1892L1546,1888L1554,1887L1556,1891L1553,1899L1551,1905L1552,1910L1552,1914L1550,1920L1549,1924L1553,1927L1561,1928L1566,1930L1566,1934L1562,1940L1560,1944L1564,1947L1571,1950L1573,1953L1569,1958L1562,1963L1558,1967L1560,1971L1565,1974Z" fill="#00FF28"/>
<path d="M1347.2,1957.3 L1362.3,1945.1 L1358.7,1925.3 L1369.3,1913.5 L1374.3,1905.4 L1388.0,1906.6 L1393.1,1896.9 L1405.6,1896.4 L1410.0,1878.5 L1421.3,1880.5 L1427.6,1876.1 L1437.0,1890.4 L1445.0,1888.0 L1452.6,1892.1 L1462.3,1876.3 L1469.3,1877.3 L1478.0,1874.0 L1479.5,1892.4 L1489.7,1889.6 L1489.8,1908.3 L1506.0,1902.8 L1503.4,1920.4 L1520.1,1911.4 L1517.0,1919.9 L1533.3,1912.8 L1525.2,1928.3 L1537.4,1931.3 L1530.4,1943.9 L1542.1,1946.4 L1531.5,1956.2 L1539.0,1961.5 L1533.2,1969.5 L1542.5,1976.1 L1536.9,1983.0 L1541.8,1989.4 L1527.1,1993.4 L1532.6,2000.9 L1521.4,2004.8 L1532.7,2016.8 L1518.1,2017.4 L1524.9,2030.2 L1509.9,2029.3 L1511.0,2040.6 L1498.6,2035.3 L1501.8,2046.5 L1489.0,2039.1 L1486.2,2055.3 L1471.9,2049.6 L1467.3,2068.0 L1459.6,2065.3 L1455.2,2079.7 L1448.9,2076.8 L1440.5,2087.3 L1432.9,2074.3 L1423.3,2080.6 L1417.7,2070.1 L1408.0,2072.9 L1404.5,2059.7 L1393.1,2060.5 L1393.2,2043.4 L1379.2,2044.7 L1379.3,2032.4 L1368.3,2029.6 L1371.3,2017.6 L1358.8,2017.0 L1365.8,2007.4 L1349.6,2006.3 L1357.6,1996.7 L1349.3,1990.8 L1357.2,1982.9 L1345.8,1974.5 L1357.9,1967.2Z" fill="#8CFF00" />
<path d="M1407.2,1929.2 C1407.5,1927.9 1420.1,1925.9 1425.0,1927.3 C1430.0,1928.6 1437.3,1935.9 1436.9,1937.2 C1436.6,1938.5 1428.0,1936.5 1423.0,1935.2 C1418.1,1933.9 1406.8,1930.6 1407.2,1929.2Z" fill="#E8FF00" />
<path d="M1458.8,1931.2 C1459.1,1929.9 1466.4,1935.9 1470.7,1939.2 C1475.0,1942.5 1484.9,1949.8 1484.6,1951.1 C1484.3,1952.4 1473.0,1950.4 1468.7,1947.1 C1464.4,1943.8 1458.5,1932.5 1458.8,1931.2Z" fill="#E8FF00" />
<path d="M1488.6,1947.1 C1488.4,1948.4 1491.5,1949.7 1496.3,1950.3 C1501.0,1950.9 1504.3,1950.4 1504.5,1949.1 C1504.6,1947.8 1501.6,1946.5 1496.8,1945.9 C1492.0,1945.3 1488.8,1945.8 1488.6,1947.1Z" fill="#E8FF00" />
<path d="M1482.6,1963.0 C1481.4,1963.5 1481.8,1966.9 1483.6,1971.7 C1485.4,1976.5 1487.4,1979.4 1488.6,1978.9 C1489.8,1978.4 1489.4,1974.9 1487.7,1970.2 C1485.9,1965.4 1483.9,1962.5 1482.6,1963.0Z" fill="#E8FF00" />
<path d="M1502.5,1980.9 C1501.6,1981.8 1502.9,1984.4 1505.9,1987.4 C1508.9,1990.4 1511.5,1991.7 1512.4,1990.8 C1513.4,1989.9 1512.0,1987.3 1509.0,1984.3 C1506.0,1981.3 1503.4,1980.0 1502.5,1980.9Z" fill="#E8FF00" />
<path d="M1480.6,1992.8 C1482.3,1993.1 1489.9,1993.1 1490.6,1994.8 C1491.2,1996.4 1485.6,2001.4 1484.6,2002.7" fill="none" stroke="#E8FF00" stroke-width="3.0" stroke-linejoin="round" stroke-linecap="round" />
<path d="M1417.1,1994.8 C1419.1,1997.1 1426.4,2005.4 1429.0,2008.7 C1431.7,2012.0 1432.3,2013.7 1433.0,2014.6" fill="none" stroke="#E8FF00" stroke-width="3.0" stroke-linejoin="round" stroke-linecap="round" />
<path d="M1415.1,2018.6 C1414.6,2019.8 1417.8,2022.2 1423.2,2024.6 C1428.5,2027.0 1432.4,2027.8 1433.0,2026.6 C1433.5,2025.4 1430.3,2023.0 1424.9,2020.6 C1419.6,2018.2 1415.6,2017.4 1415.1,2018.6Z" fill="#E8FF00" />
<path d="M1444.9,2020.6 C1447.5,2020.9 1456.5,2023.3 1460.8,2022.6 C1465.1,2021.9 1469.1,2017.6 1470.7,2016.6" fill="none" stroke="#E8FF00" stroke-width="3.0" stroke-linejoin="round" stroke-linecap="round" />
<path d="M1433.0,2030.5 C1432.0,2031.5 1433.4,2034.1 1436.4,2037.0 C1439.4,2040.0 1442.0,2041.4 1442.9,2040.5 C1443.8,2039.5 1442.5,2036.9 1439.5,2034.0 C1436.5,2031.0 1433.9,2029.6 1433.0,2030.5Z" fill="#E8FF00" />
<path d="M1389.3,1945.1 C1388.0,1945.5 1387.6,1947.0 1388.2,1948.8 C1388.8,1950.6 1390.0,1951.5 1391.3,1951.1 C1392.5,1950.7 1392.9,1949.2 1392.3,1947.4 C1391.8,1945.6 1390.5,1944.7 1389.3,1945.1Z" fill="#E8FF00" />
<path d="M1468.7,1998.8 C1467.6,1999.5 1467.7,2001.2 1468.9,2002.9 C1470.1,2004.7 1471.6,2005.4 1472.7,2004.7 C1473.8,2004.0 1473.7,2002.3 1472.5,2000.5 C1471.3,1998.7 1469.8,1998.0 1468.7,1998.8Z" fill="#E8FF00" />
<rect x="1287.6" y="1821.6" width="312.2" height="312.2" fill="url(#dots)"/>
</g>
<ellipse cx="1443.7" cy="1977.7" rx="156.1" ry="156.1" fill="none" stroke="#3a3a3a" stroke-width="1.5"/>
<clipPath id="c21"><ellipse cx="685.1" cy="2401.3" rx="155.7" ry="156.9"/></clipPath>
<g clip-path="url(#c21)">
<ellipse cx="685.1" cy="2401.3" rx="157.7" ry="158.9" fill="#00FFE8"/>
<path d="M777.3,2296.0 L770.4,2307.8" stroke="#0090FF" stroke-width="1.4" stroke-linecap="round" opacity="1.0"/>
<path d="M576.8,2300.4 L585.9,2306.2" stroke="#0090FF" stroke-width="1.4" stroke-linecap="round" opacity="1.0"/>
<path d="M586.7,2503.7 L594.7,2494.9" stroke="#0090FF" stroke-width="1.4" stroke-linecap="round" opacity="1.0"/>
<path d="M721.8,2256.6 L722.8,2267.2" stroke="#0090FF" stroke-width="1.4" stroke-linecap="round" opacity="1.0"/>
<path d="M544.7,2379.8 L552.8,2385.7" stroke="#0090FF" stroke-width="1.4" stroke-linecap="round" opacity="1.0"/>
<path d="M763.3,2277.3 L757.6,2285.0" stroke="#0090FF" stroke-width="1.4" stroke-linecap="round" opacity="1.0"/>
<path d="M774.8,2279.7 L767.4,2283.4" stroke="#0090FF" stroke-width="1.4" stroke-linecap="round" opacity="1.0"/>
<path d="M695.2,2247.2 L694.9,2252.4" stroke="#0090FF" stroke-width="1.4" stroke-linecap="round" opacity="1.0"/>
<path d="M623.5,2535.8 L623.2,2527.8" stroke="#0090FF" stroke-width="1.4" stroke-linecap="round" opacity="1.0"/>
<path d="M816.0,2457.4 L808.1,2450.3" stroke="#0090FF" stroke-width="1.4" stroke-linecap="round" opacity="1.0"/>
<path d="M830.2,2425.7 L826.1,2422.6" stroke="#0090FF" stroke-width="1.4" stroke-linecap="round" opacity="1.0"/>
<path d="M768.0,2520.9 L762.3,2513.7" stroke="#0090FF" stroke-width="1.4" stroke-linecap="round" opacity="1.0"/>
<path d="M800.2,2505.4 L794.2,2500.3" stroke="#0090FF" stroke-width="1.4" stroke-linecap="round" opacity="1.0"/>
<path d="M785.2,2520.0 L782.0,2509.9" stroke="#0090FF" stroke-width="1.4" stroke-linecap="round" opacity="1.0"/>
<path d="M604.2,2525.2 L609.0,2512.7" stroke="#0090FF" stroke-width="1.4" stroke-linecap="round" opacity="1.0"/>
<path d="M541.8,2341.4 L551.5,2348.0" stroke="#0090FF" stroke-width="1.4" stroke-linecap="round" opacity="1.0"/>
<path d="M723.1,2262.0 L723.0,2275.3" stroke="#0090FF" stroke-width="1.4" stroke-linecap="round" opacity="1.0"/>
<path d="M545.0,2358.8 L550.7,2359.7" stroke="#0090FF" stroke-width="1.4" stroke-linecap="round" opacity="1.0"/>
<path d="M686.1,2547.3 L689.5,2536.5" stroke="#0090FF" stroke-width="1.4" stroke-linecap="round" opacity="1.0"/>
<path d="M644.1,2542.9 L644.1,2532.5" stroke="#0090FF" stroke-width="1.4" stroke-linecap="round" opacity="1.0"/>
<path d="M836.4,2353.8 L829.0,2358.0" stroke="#0090FF" stroke-width="1.4" stroke-linecap="round" opacity="1.0"/>
<path d="M819.7,2346.2 L807.0,2346.4" stroke="#0090FF" stroke-width="1.4" stroke-linecap="round" opacity="1.0"/>
<path d="M599.7,2526.8 L609.7,2521.4" stroke="#0090FF" stroke-width="1.4" stroke-linecap="round" opacity="1.0"/>
<path d="M657.0,2552.0 L658.5,2547.2" stroke="#0090FF" stroke-width="1.4" stroke-linecap="round" opacity="1.0"/>
<path d="M730.8,2542.4 L731.1,2531.3" stroke="#0090FF" stroke-width="1.4" stroke-linecap="round" opacity="1.0"/>
<path d="M602.4,2529.2 L608.0,2524.1" stroke="#0090FF" stroke-width="1.4" stroke-linecap="round" opacity="1.0"/>
<path d="M752.7,2278.4 L747.9,2290.8" stroke="#0090FF" stroke-width="1.4" stroke-linecap="round" opacity="1.0"/>
<path d="M619.3,2276.2 L628.5,2283.0" stroke="#0090FF" stroke-width="1.4" stroke-linecap="round" opacity="1.0"/>
<path d="M773.7,2524.3 L764.9,2518.1" stroke="#0090FF" stroke-width="1.4" stroke-linecap="round" opacity="1.0"/>
<path d="M718.9,2261.3 L711.7,2269.8" stroke="#0090FF" stroke-width="1.4" stroke-linecap="round" opacity="1.0"/>
<path d="M627.5,2258.1 L629.0,2266.1" stroke="#0066FF" stroke-width="1.0" stroke-linecap="round" opacity="1.0"/>
<path d="M650.1,2258.2 L652.3,2268.8" stroke="#0066FF" stroke-width="1.0" stroke-linecap="round" opacity="1.0"/>
<path d="M761.4,2527.8 L756.7,2522.1" stroke="#0066FF" stroke-width="1.0" stroke-linecap="round" opacity="1.0"/>
<path d="M786.7,2520.2 L785.1,2513.9" stroke="#0066FF" stroke-width="1.0" stroke-linecap="round" opacity="1.0"/>
<path d="M574.3,2299.3 L580.9,2306.2" stroke="#0066FF" stroke-width="1.0" stroke-linecap="round" opacity="1.0"/>
<path d="M543.5,2368.4 L547.8,2371.8" stroke="#0066FF" stroke-width="1.0" stroke-linecap="round" opacity="1.0"/>
<path d="M598.7,2272.3 L608.2,2279.2" stroke="#0066FF" stroke-width="1.0" stroke-linecap="round" opacity="1.0"/>
<path d="M756.5,2537.4 L753.6,2529.8" stroke="#0066FF" stroke-width="1.0" stroke-linecap="round" opacity="1.0"/>
<path d="M823.8,2444.6 L818.8,2444.1" stroke="#0066FF" stroke-width="1.0" stroke-linecap="round" opacity="1.0"/>
<path d="M539.5,2344.8 L546.0,2349.6" stroke="#0066FF" stroke-width="1.0" stroke-linecap="round" opacity="1.0"/>
<path d="M828,2401L827,2405L831,2410L834,2415L833,2420L829,2424L825,2428L823,2432L821,2436L821,2440L821,2445L820,2449L820,2454L820,2459L819,2463L814,2466L807,2468L805,2472L805,2477L806,2483L806,2488L803,2491L796,2492L790,2492L785,2494L786,2501L786,2507L784,2512L780,2515L775,2516L770,2517L766,2519L763,2522L759,2525L755,2526L750,2527L746,2529L743,2533L739,2536L734,2536L730,2537L726,2538L722,2540L718,2542L713,2543L708,2542L704,2540L699,2538L695,2542L690,2544L686,2544L682,2543L677,2543L672,2544L668,2544L664,2543L659,2542L655,2538L651,2536L647,2536L642,2536L638,2535L635,2531L630,2530L625,2531L620,2530L616,2529L612,2527L609,2523L606,2519L605,2513L600,2512L596,2510L592,2508L588,2505L585,2502L582,2498L580,2494L578,2491L572,2489L568,2487L564,2484L561,2481L559,2476L558,2471L559,2466L557,2462L554,2458L551,2454L548,2451L546,2446L545,2442L546,2437L549,2432L547,2428L545,2423L543,2419L542,2415L543,2410L545,2405L547,2401L547,2397L543,2392L540,2387L541,2383L542,2378L543,2374L543,2369L545,2365L547,2361L550,2357L554,2353L556,2350L557,2345L558,2341L560,2337L564,2334L564,2329L565,2324L568,2321L573,2319L577,2317L579,2313L579,2307L580,2301L581,2296L587,2295L593,2296L597,2294L599,2289L601,2284L605,2282L610,2281L615,2280L618,2278L621,2273L623,2267L627,2264L631,2263L637,2265L642,2265L646,2265L651,2263L655,2261L659,2258L663,2258L668,2261L673,2264L677,2261L681,2257L686,2255L691,2255L695,2258L699,2261L703,2263L708,2264L712,2262L717,2263L721,2264L726,2264L731,2263L736,2263L739,2268L743,2270L747,2272L751,2274L755,2275L759,2277L763,2280L767,2282L770,2286L775,2286L779,2289L781,2293L784,2297L787,2300L791,2303L792,2307L793,2312L797,2315L802,2317L807,2319L810,2322L811,2327L809,2333L808,2339L812,2342L817,2344L821,2348L823,2352L825,2356L826,2360L826,2365L823,2370L824,2375L825,2379L829,2383L832,2387L833,2392L831,2396Z" fill="#00FF88"/>
<path d="M815,2401L821,2405L822,2410L820,2414L816,2417L813,2421L809,2424L805,2428L806,2432L808,2436L809,2441L810,2446L808,2449L804,2452L799,2454L793,2456L793,2460L792,2464L793,2469L794,2474L792,2478L788,2480L782,2480L776,2481L776,2485L776,2491L776,2497L775,2502L772,2505L768,2506L762,2505L756,2504L752,2505L750,2508L748,2515L747,2520L743,2522L736,2518L730,2512L727,2514L725,2522L723,2529L719,2531L714,2528L710,2525L706,2524L702,2526L698,2530L694,2529L690,2527L686,2529L682,2534L677,2536L674,2532L670,2526L667,2523L663,2524L658,2527L653,2529L650,2526L647,2521L644,2517L639,2519L634,2520L630,2519L627,2516L624,2514L619,2513L616,2512L614,2507L610,2505L608,2502L605,2498L604,2494L603,2489L602,2485L600,2482L594,2482L587,2483L582,2481L582,2477L582,2472L580,2468L578,2465L575,2462L572,2459L569,2456L567,2453L565,2449L564,2445L564,2441L566,2436L568,2431L563,2428L560,2425L558,2421L557,2417L556,2413L555,2409L557,2405L560,2401L561,2397L562,2393L561,2389L560,2385L559,2381L559,2377L561,2373L561,2369L562,2365L565,2362L568,2359L570,2355L569,2351L569,2346L573,2343L573,2339L576,2336L577,2332L578,2328L579,2324L583,2321L588,2320L592,2318L593,2314L595,2310L597,2306L601,2304L604,2302L608,2300L612,2299L615,2296L618,2293L620,2290L623,2286L625,2282L629,2280L634,2282L640,2285L643,2283L646,2278L649,2272L652,2270L657,2272L663,2278L667,2283L671,2284L674,2278L678,2274L682,2273L686,2274L690,2275L694,2273L698,2271L703,2270L706,2272L710,2277L713,2281L717,2281L721,2280L725,2280L728,2284L732,2285L736,2286L740,2286L745,2286L749,2287L752,2290L754,2294L756,2298L761,2298L766,2298L771,2299L774,2301L776,2305L776,2311L776,2316L778,2320L782,2322L785,2324L788,2327L789,2331L791,2334L794,2337L795,2341L799,2343L803,2346L807,2349L809,2352L811,2356L809,2361L804,2367L799,2372L804,2375L810,2377L815,2381L816,2385L814,2389L812,2393L812,2397Z" fill="#00FF28"/>
<path d="M581.8,2414.8 L589.2,2397.8 L588.8,2380.5 L595.6,2364.6 L598.2,2358.7 L608.2,2356.4 L611.3,2350.1 L621.1,2347.1 L624.7,2339.0 L633.4,2336.0 L636.5,2325.6 L644.3,2322.1 L648.2,2311.6 L656.2,2310.4 L662.4,2303.8 L670.3,2304.1 L679.0,2301.3 L688.3,2306.3 L697.7,2305.1 L706.1,2307.9 L716.4,2302.3 L724.6,2303.5 L730.8,2307.9 L733.7,2318.8 L740.5,2322.8 L745.8,2328.6 L755.5,2329.1 L759.3,2335.7 L766.3,2341.4 L767.4,2351.6 L772.7,2359.1 L773.6,2368.7 L779.7,2376.3 L780.7,2385.3 L786.4,2394.1 L785.9,2403.3 L791.7,2412.6 L782.8,2415.8 L780.1,2420.0 L769.9,2422.7 L769.3,2429.2 L762.6,2433.6 L762.4,2440.8 L756.4,2446.4 L756.0,2455.7 L749.1,2460.0 L744.3,2467.2 L735.8,2470.3 L729.9,2477.2 L721.4,2481.1 L716.0,2492.8 L707.8,2495.6 L699.9,2498.1 L691.1,2494.1 L682.7,2497.0 L675.8,2493.2 L668.1,2496.3 L662.2,2490.6 L655.4,2488.7 L650.8,2480.4 L644.0,2477.2 L637.2,2472.4 L626.5,2473.3 L619.9,2469.0 L611.9,2466.2 L609.0,2459.0 L600.5,2456.0 L601.4,2446.8 L595.0,2441.5 L595.3,2433.2 L588.5,2427.8 L587.8,2420.8Z" fill="#8CFF00" />
<path d="M680.9,2335.9 C679.7,2336.5 680.5,2340.4 682.9,2345.8 C685.3,2351.2 687.7,2354.5 688.9,2353.9 C690.1,2353.4 689.3,2349.4 686.9,2344.0 C684.5,2338.6 682.1,2335.4 680.9,2335.9Z" fill="#E8FF00" />
<path d="M642.9,2367.9 C643.1,2369.2 645.7,2369.7 649.3,2369.1 C652.9,2368.5 655.1,2367.2 654.9,2365.9 C654.7,2364.6 652.2,2364.2 648.6,2364.8 C645.0,2365.4 642.7,2366.6 642.9,2367.9Z" fill="#E8FF00" />
<path d="M656.9,2371.9 C657.5,2373.1 660.3,2372.7 663.9,2370.9 C667.5,2369.1 669.5,2367.1 668.9,2365.9 C668.3,2364.7 665.5,2365.2 661.9,2367.0 C658.3,2368.8 656.3,2370.7 656.9,2371.9Z" fill="#E8FF00" />
<path d="M706.9,2351.9 C706.1,2353.0 707.2,2354.9 709.6,2356.7 C712.0,2358.5 714.1,2359.0 714.9,2357.9 C715.7,2356.9 714.6,2355.0 712.2,2353.2 C709.8,2351.4 707.7,2350.9 706.9,2351.9Z" fill="#E8FF00" />
<path d="M728.9,2371.9 C727.8,2372.7 728.8,2375.3 731.2,2378.3 C733.6,2381.3 735.8,2382.7 736.9,2381.9 C737.9,2381.1 737.0,2378.5 734.6,2375.5 C732.2,2372.5 729.9,2371.1 728.9,2371.9Z" fill="#E8FF00" />
<path d="M654.9,2405.9 C653.6,2405.7 652.4,2407.9 651.8,2411.5 C651.2,2415.1 651.6,2417.7 652.9,2417.9 C654.2,2418.1 655.5,2415.9 656.1,2412.3 C656.7,2408.7 656.2,2406.1 654.9,2405.9Z" fill="#E8FF00" />
<path d="M720.9,2405.9 C719.6,2406.2 719.5,2409.6 720.7,2414.4 C721.9,2419.2 723.6,2422.2 724.9,2421.9 C726.2,2421.6 726.2,2418.2 725.0,2413.4 C723.8,2408.6 722.2,2405.6 720.9,2405.9Z" fill="#E8FF00" />
<path d="M740.9,2407.9 C740.7,2409.2 742.2,2410.3 744.6,2410.6 C747.0,2410.9 748.7,2410.2 748.9,2408.9 C749.0,2407.6 747.5,2406.5 745.1,2406.2 C742.7,2405.9 741.0,2406.6 740.9,2407.9Z" fill="#E8FF00" />
<path d="M664.9,2447.9 C664.5,2449.1 665.4,2450.4 667.2,2451.0 C669.0,2451.6 670.5,2451.1 670.9,2449.9 C671.3,2448.6 670.4,2447.4 668.6,2446.8 C666.8,2446.2 665.3,2446.6 664.9,2447.9Z" fill="#E8FF00" />
<path d="M641.9,2453.9 C640.9,2454.7 640.8,2456.0 641.7,2457.2 C642.6,2458.4 643.9,2458.7 644.9,2457.9 C646.0,2457.1 646.1,2455.7 645.2,2454.5 C644.3,2453.3 643.0,2453.1 641.9,2453.9Z" fill="#E8FF00" />
<rect x="529.4" y="2244.4" width="311.4" height="313.8" fill="url(#dots)"/>
</g>
<ellipse cx="685.1" cy="2401.3" rx="155.7" ry="156.9" fill="none" stroke="#3a3a3a" stroke-width="1.5"/>
<clipPath id="c22"><ellipse cx="1059.9" cy="2399.9" rx="156.5" ry="157.9"/></clipPath>
<g clip-path="url(#c22)">
<ellipse cx="1059.9" cy="2399.9" rx="158.5" ry="159.9" fill="#00FFE8"/>
<path d="M940.9,2501.6 L945.1,2492.5" stroke="#0090FF" stroke-width="1.4" stroke-linecap="round" opacity="1.0"/>
<path d="M1198.4,2434.7 L1192.0,2434.0" stroke="#0090FF" stroke-width="1.4" stroke-linecap="round" opacity="1.0"/>
<path d="M928.1,2484.9 L936.0,2480.3" stroke="#0090FF" stroke-width="1.4" stroke-linecap="round" opacity="1.0"/>
<path d="M1002.7,2544.8 L1003.1,2532.5" stroke="#0090FF" stroke-width="1.4" stroke-linecap="round" opacity="1.0"/>
<path d="M1121.2,2267.0 L1118.5,2273.1" stroke="#0090FF" stroke-width="1.4" stroke-linecap="round" opacity="1.0"/>
<path d="M1093.8,2545.6 L1090.0,2533.6" stroke="#0090FF" stroke-width="1.4" stroke-linecap="round" opacity="1.0"/>
<path d="M914.3,2440.9 L922.6,2439.2" stroke="#0090FF" stroke-width="1.4" stroke-linecap="round" opacity="1.0"/>
<path d="M984.0,2520.2 L990.7,2508.6" stroke="#0090FF" stroke-width="1.4" stroke-linecap="round" opacity="1.0"/>
<path d="M1194.1,2326.5 L1186.1,2328.4" stroke="#0090FF" stroke-width="1.4" stroke-linecap="round" opacity="1.0"/>
<path d="M1062.5,2554.4 L1065.9,2542.2" stroke="#0090FF" stroke-width="1.4" stroke-linecap="round" opacity="1.0"/>
<path d="M905.4,2388.5 L918.2,2386.0" stroke="#0090FF" stroke-width="1.4" stroke-linecap="round" opacity="1.0"/>
<path d="M912.7,2424.5 L922.2,2425.7" stroke="#0090FF" stroke-width="1.4" stroke-linecap="round" opacity="1.0"/>
<path d="M1044.6,2547.5 L1047.9,2541.7" stroke="#0090FF" stroke-width="1.4" stroke-linecap="round" opacity="1.0"/>
<path d="M928.3,2338.4 L939.9,2340.6" stroke="#0090FF" stroke-width="1.4" stroke-linecap="round" opacity="1.0"/>
<path d="M1052.3,2260.9 L1054.7,2266.5" stroke="#0090FF" stroke-width="1.4" stroke-linecap="round" opacity="1.0"/>
<path d="M1182.3,2308.8 L1175.0,2320.7" stroke="#0090FF" stroke-width="1.4" stroke-linecap="round" opacity="1.0"/>
<path d="M1210.5,2420.1 L1204.8,2416.6" stroke="#0090FF" stroke-width="1.4" stroke-linecap="round" opacity="1.0"/>
<path d="M1198.2,2391.2 L1184.8,2394.7" stroke="#0090FF" stroke-width="1.4" stroke-linecap="round" opacity="1.0"/>
<path d="M1122.9,2271.1 L1118.8,2274.6" stroke="#0090FF" stroke-width="1.4" stroke-linecap="round" opacity="1.0"/>
<path d="M1162.1,2515.2 L1152.1,2506.4" stroke="#0090FF" stroke-width="1.4" stroke-linecap="round" opacity="1.0"/>
<path d="M959.1,2284.1 L963.1,2287.6" stroke="#0090FF" stroke-width="1.4" stroke-linecap="round" opacity="1.0"/>
<path d="M1204.9,2432.8 L1194.3,2432.7" stroke="#0090FF" stroke-width="1.4" stroke-linecap="round" opacity="1.0"/>
<path d="M1204.7,2412.5 L1193.7,2407.0" stroke="#0090FF" stroke-width="1.4" stroke-linecap="round" opacity="1.0"/>
<path d="M1010.9,2269.5 L1013.8,2273.9" stroke="#0090FF" stroke-width="1.4" stroke-linecap="round" opacity="1.0"/>
<path d="M939.3,2483.1 L946.7,2481.9" stroke="#0090FF" stroke-width="1.4" stroke-linecap="round" opacity="1.0"/>
<path d="M934.9,2477.9 L942.4,2474.7" stroke="#0090FF" stroke-width="1.4" stroke-linecap="round" opacity="1.0"/>
<path d="M924.1,2457.0 L935.5,2458.0" stroke="#0090FF" stroke-width="1.4" stroke-linecap="round" opacity="1.0"/>
<path d="M1158.7,2298.5 L1153.8,2302.0" stroke="#0090FF" stroke-width="1.4" stroke-linecap="round" opacity="1.0"/>
<path d="M1200.7,2340.8 L1194.2,2347.3" stroke="#0090FF" stroke-width="1.4" stroke-linecap="round" opacity="1.0"/>
<path d="M1168.1,2307.3 L1164.0,2311.2" stroke="#0090FF" stroke-width="1.4" stroke-linecap="round" opacity="1.0"/>
<path d="M919.6,2450.7 L929.1,2446.9" stroke="#0066FF" stroke-width="1.0" stroke-linecap="round" opacity="1.0"/>
<path d="M932.6,2480.6 L939.9,2479.5" stroke="#0066FF" stroke-width="1.0" stroke-linecap="round" opacity="1.0"/>
<path d="M931.0,2490.5 L939.9,2487.0" stroke="#0066FF" stroke-width="1.0" stroke-linecap="round" opacity="1.0"/>
<path d="M1212.2,2399.7 L1199.2,2400.4" stroke="#0066FF" stroke-width="1.0" stroke-linecap="round" opacity="1.0"/>
<path d="M1141.6,2518.6 L1138.8,2509.7" stroke="#0066FF" stroke-width="1.0" stroke-linecap="round" opacity="1.0"/>
<path d="M1159.4,2292.0 L1153.1,2300.2" stroke="#0066FF" stroke-width="1.0" stroke-linecap="round" opacity="1.0"/>
<path d="M1135.1,2538.2 L1133.7,2531.5" stroke="#0066FF" stroke-width="1.0" stroke-linecap="round" opacity="1.0"/>
<path d="M1126.7,2529.3 L1125.0,2524.4" stroke="#0066FF" stroke-width="1.0" stroke-linecap="round" opacity="1.0"/>
<path d="M1105.5,2255.6 L1101.3,2265.3" stroke="#0066FF" stroke-width="1.0" stroke-linecap="round" opacity="1.0"/>
<path d="M1094.3,2553.7 L1094.4,2546.0" stroke="#0066FF" stroke-width="1.0" stroke-linecap="round" opacity="1.0"/>
<path d="M1205,2400L1206,2405L1205,2409L1203,2413L1199,2418L1200,2422L1202,2427L1202,2432L1201,2436L1199,2440L1196,2444L1191,2447L1193,2453L1194,2458L1192,2462L1190,2466L1187,2470L1182,2472L1179,2476L1179,2481L1178,2486L1175,2490L1172,2493L1168,2495L1162,2496L1161,2501L1159,2505L1156,2509L1153,2512L1149,2515L1144,2516L1138,2515L1137,2521L1134,2525L1130,2528L1126,2530L1122,2531L1116,2530L1112,2531L1109,2536L1105,2539L1101,2541L1096,2541L1091,2541L1086,2538L1082,2541L1078,2544L1074,2545L1069,2546L1065,2545L1060,2543L1056,2539L1051,2543L1046,2544L1042,2545L1037,2544L1033,2542L1029,2538L1025,2536L1020,2538L1015,2538L1011,2537L1006,2535L1003,2532L1000,2527L995,2527L990,2527L986,2526L982,2523L978,2520L976,2516L975,2510L969,2510L964,2509L960,2506L957,2503L955,2499L954,2494L951,2490L946,2488L942,2486L939,2482L937,2478L936,2473L937,2468L933,2465L929,2462L926,2458L924,2454L923,2449L924,2444L926,2439L921,2436L918,2432L916,2427L916,2423L917,2418L919,2413L919,2409L916,2405L915,2400L914,2395L915,2391L917,2386L921,2382L920,2378L918,2373L918,2368L919,2364L921,2360L924,2356L929,2353L926,2347L926,2342L927,2338L930,2334L933,2330L938,2328L941,2324L941,2319L942,2314L944,2310L948,2307L952,2305L958,2304L959,2299L961,2295L964,2291L967,2288L971,2286L976,2285L982,2285L983,2279L986,2275L990,2272L994,2270L999,2270L1004,2270L1008,2269L1011,2265L1015,2262L1019,2260L1024,2259L1029,2260L1034,2262L1038,2259L1042,2256L1046,2255L1051,2254L1055,2255L1060,2257L1064,2261L1069,2257L1074,2255L1078,2255L1083,2256L1087,2258L1091,2262L1095,2263L1100,2262L1105,2261L1109,2263L1114,2265L1117,2268L1120,2273L1125,2273L1130,2273L1134,2274L1138,2277L1142,2280L1144,2284L1145,2290L1151,2290L1156,2291L1160,2293L1163,2297L1165,2301L1166,2306L1169,2310L1174,2312L1178,2314L1181,2318L1183,2322L1184,2327L1183,2332L1187,2335L1191,2338L1194,2342L1196,2346L1197,2351L1196,2356L1194,2361L1199,2364L1202,2368L1203,2373L1204,2377L1203,2382L1201,2387L1200,2391L1204,2395Z" fill="#00FF88"/>
<path d="M1184,2400L1188,2404L1190,2408L1190,2412L1190,2416L1188,2420L1185,2424L1183,2427L1185,2432L1185,2436L1185,2441L1183,2444L1180,2447L1175,2450L1175,2454L1176,2459L1175,2463L1173,2467L1170,2470L1166,2472L1160,2473L1161,2479L1160,2483L1158,2487L1155,2490L1152,2492L1147,2493L1143,2495L1142,2500L1140,2503L1137,2506L1133,2508L1129,2509L1124,2508L1121,2512L1119,2516L1116,2518L1112,2520L1108,2521L1103,2520L1098,2518L1096,2523L1092,2526L1089,2528L1084,2528L1080,2528L1076,2526L1072,2525L1068,2529L1064,2530L1060,2531L1056,2530L1052,2528L1048,2525L1044,2526L1040,2528L1035,2529L1031,2528L1028,2526L1024,2523L1022,2518L1017,2521L1012,2521L1008,2520L1004,2518L1001,2515L999,2511L996,2509L991,2509L987,2508L983,2506L980,2503L978,2499L977,2494L973,2493L968,2492L965,2490L962,2487L960,2483L959,2478L960,2473L954,2472L950,2470L947,2467L945,2463L945,2459L945,2454L944,2450L940,2448L937,2444L935,2441L934,2436L935,2432L937,2427L935,2424L932,2420L930,2416L929,2412L930,2408L932,2404L936,2400L932,2396L930,2392L929,2388L930,2384L932,2380L935,2376L937,2373L935,2368L935,2364L935,2360L937,2356L940,2353L945,2350L945,2346L945,2341L946,2337L947,2333L950,2330L954,2328L960,2327L959,2322L960,2317L962,2314L965,2311L969,2309L973,2308L977,2306L978,2301L980,2297L983,2294L987,2292L991,2291L996,2292L999,2289L1001,2285L1004,2282L1008,2280L1012,2279L1017,2280L1022,2282L1024,2277L1028,2274L1031,2272L1035,2272L1040,2272L1044,2274L1048,2275L1052,2271L1056,2269L1060,2269L1064,2269L1068,2271L1072,2275L1076,2274L1080,2272L1085,2271L1089,2272L1092,2274L1096,2277L1098,2282L1104,2279L1108,2279L1112,2279L1116,2281L1119,2284L1121,2288L1124,2291L1129,2291L1134,2292L1137,2294L1140,2297L1142,2301L1143,2306L1147,2307L1152,2308L1155,2310L1158,2313L1160,2317L1161,2322L1160,2327L1166,2328L1170,2330L1173,2333L1174,2337L1175,2341L1175,2346L1175,2350L1180,2353L1183,2356L1184,2360L1185,2364L1185,2368L1182,2373L1185,2376L1188,2380L1190,2384L1190,2388L1190,2392L1188,2396Z" fill="#00FF28"/>
<path d="M1154,2400L1156,2403L1157,2406L1156,2409L1154,2412L1151,2414L1151,2417L1153,2421L1154,2424L1153,2427L1152,2430L1149,2432L1144,2433L1146,2437L1147,2441L1146,2444L1145,2447L1142,2449L1139,2450L1135,2451L1136,2455L1136,2459L1135,2462L1132,2464L1129,2465L1125,2465L1123,2468L1123,2472L1122,2475L1120,2477L1117,2478L1113,2479L1109,2477L1108,2481L1107,2485L1104,2487L1102,2488L1098,2488L1095,2487L1091,2486L1089,2490L1087,2493L1084,2494L1081,2494L1078,2493L1074,2491L1072,2491L1069,2494L1066,2496L1063,2496L1060,2496L1057,2494L1054,2490L1051,2493L1048,2495L1045,2496L1042,2495L1039,2493L1037,2491L1035,2488L1031,2490L1027,2491L1024,2490L1022,2489L1019,2486L1018,2482L1015,2481L1011,2482L1008,2482L1005,2480L1003,2478L1002,2475L1002,2470L998,2470L994,2470L991,2469L989,2467L988,2464L988,2460L988,2456L983,2456L980,2455L977,2452L976,2450L976,2446L977,2442L976,2440L972,2438L970,2436L968,2433L968,2430L969,2426L972,2423L969,2420L966,2418L965,2415L964,2412L965,2409L967,2406L970,2403L966,2400L964,2397L964,2394L964,2391L966,2388L969,2386L969,2383L967,2379L966,2376L966,2373L968,2370L971,2368L975,2366L974,2363L973,2359L973,2356L975,2353L977,2351L981,2350L984,2349L983,2344L984,2341L985,2338L987,2336L991,2335L995,2335L997,2332L997,2328L998,2325L1000,2323L1003,2322L1007,2322L1011,2323L1012,2319L1014,2316L1016,2314L1019,2312L1022,2312L1026,2313L1029,2315L1031,2310L1033,2308L1036,2306L1039,2306L1042,2307L1046,2310L1048,2309L1051,2306L1054,2304L1057,2304L1060,2304L1063,2306L1066,2310L1069,2307L1072,2305L1075,2304L1078,2305L1081,2306L1083,2309L1086,2312L1089,2310L1093,2309L1096,2309L1099,2311L1101,2314L1102,2318L1105,2319L1109,2318L1112,2318L1115,2320L1117,2322L1118,2325L1118,2330L1122,2330L1126,2330L1129,2331L1131,2334L1132,2337L1132,2340L1132,2344L1137,2344L1140,2346L1142,2348L1144,2350L1144,2354L1143,2358L1144,2360L1148,2362L1150,2364L1152,2367L1152,2370L1151,2374L1148,2377L1151,2380L1154,2382L1156,2385L1156,2388L1155,2391L1153,2394L1151,2397Z" fill="#8CFF00"/>
<path d="M1036.9,2441.9 C1036.6,2443.2 1037.2,2444.2 1038.4,2444.5 C1039.6,2444.8 1040.6,2444.2 1040.9,2442.9 C1041.2,2441.6 1040.6,2440.5 1039.4,2440.2 C1038.2,2439.9 1037.2,2440.6 1036.9,2441.9Z" fill="#E8FF00" />
<path d="M1079.9,2441.9 C1080.3,2443.1 1081.2,2443.8 1082.1,2443.5 C1083.0,2443.2 1083.3,2442.1 1082.9,2440.9 C1082.5,2439.6 1081.6,2439.0 1080.7,2439.3 C1079.8,2439.6 1079.5,2440.6 1079.9,2441.9Z" fill="#E8FF00" />
<rect x="903.4" y="2242.0" width="313.0" height="315.8" fill="url(#dots)"/>
</g>
<ellipse cx="1059.9" cy="2399.9" rx="156.5" ry="157.9" fill="none" stroke="#3a3a3a" stroke-width="1.5"/>
</svg>
</body></html>
